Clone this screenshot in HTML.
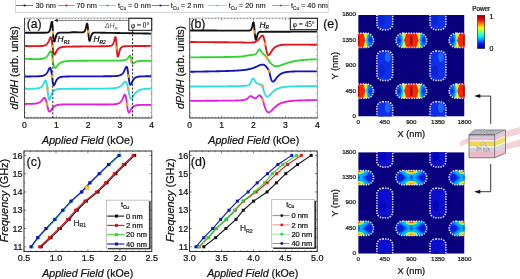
<!DOCTYPE html><html><head><meta charset="utf-8"><style>html,body{margin:0;padding:0;background:#fff;}svg{display:block;}text{font-family:"Liberation Sans", sans-serif;stroke:#111;stroke-width:0.22px;paint-order:stroke;}</style></head><body>
<svg width="520" height="279" viewBox="0 0 520 279">
<rect width="520" height="279" fill="#fff"/>
<g>
<rect x="15.4" y="-0.5" width="312.8" height="12.8" fill="#fff" stroke="#c8c8c8" stroke-width="0.8"/>
<line x1="16.2" y1="5.5" x2="33" y2="5.5" stroke="#111" stroke-width="0.8" opacity="0.75"/>
<circle cx="24.6" cy="5.5" r="1.1" fill="#111"/>
<text x="35.4" y="8.1" font-size="7.4" fill="#111" style="stroke-width:0.1px">30 nm</text>
<line x1="58" y1="5.5" x2="74.6" y2="5.5" stroke="#e5121a" stroke-width="0.8" opacity="0.75"/>
<circle cx="66.3" cy="5.5" r="1.1" fill="#e5121a"/>
<text x="76.4" y="8.1" font-size="7.4" fill="#111" style="stroke-width:0.1px">70 nm</text>
<line x1="98.8" y1="5.5" x2="116.2" y2="5.5" stroke="#2fd62f" stroke-width="0.8" opacity="0.75"/>
<circle cx="107.5" cy="5.5" r="1.1" fill="#2fd62f"/>
<text x="118" y="8.1" font-size="7.4" fill="#111" style="stroke-width:0.1px">t<tspan font-size="4.6" dy="1.6">Cu</tspan><tspan dy="-1.6"> = 0 nm</tspan></text>
<line x1="151.7" y1="5.5" x2="169.2" y2="5.5" stroke="#1212c4" stroke-width="0.8" opacity="0.75"/>
<circle cx="160.45" cy="5.5" r="1.1" fill="#1212c4"/>
<text x="170.8" y="8.1" font-size="7.4" fill="#111" style="stroke-width:0.1px">t<tspan font-size="4.6" dy="1.6">Cu</tspan><tspan dy="-1.6"> = 2 nm</tspan></text>
<line x1="207.7" y1="5.5" x2="227" y2="5.5" stroke="#2fdede" stroke-width="0.8" opacity="0.75"/>
<circle cx="217.35" cy="5.5" r="1.1" fill="#2fdede"/>
<text x="228.8" y="8.1" font-size="7.4" fill="#111" style="stroke-width:0.1px">t<tspan font-size="4.6" dy="1.6">Cu</tspan><tspan dy="-1.6"> = 20 nm</tspan></text>
<line x1="272" y1="5.5" x2="289.5" y2="5.5" stroke="#de1fde" stroke-width="0.8" opacity="0.75"/>
<circle cx="280.75" cy="5.5" r="1.1" fill="#de1fde"/>
<text x="291" y="8.1" font-size="7.4" fill="#111" style="stroke-width:0.1px">t<tspan font-size="4.6" dy="1.6">Cu</tspan><tspan dy="-1.6"> = 40 nm</tspan></text>
</g>
<path d="M24.5,118v-2.2M24.5,18v2.2M27.68,118v-1.2M27.68,18v1.2M30.86,118v-1.2M30.86,18v1.2M34.04,118v-1.2M34.04,18v1.2M37.22,118v-1.2M37.22,18v1.2M40.4,118v-1.2M40.4,18v1.2M43.58,118v-1.2M43.58,18v1.2M46.76,118v-1.2M46.76,18v1.2M49.94,118v-1.2M49.94,18v1.2M53.12,118v-1.2M53.12,18v1.2M56.3,118v-2.2M56.3,18v2.2M59.48,118v-1.2M59.48,18v1.2M62.66,118v-1.2M62.66,18v1.2M65.84,118v-1.2M65.84,18v1.2M69.02,118v-1.2M69.02,18v1.2M72.2,118v-1.2M72.2,18v1.2M75.38,118v-1.2M75.38,18v1.2M78.56,118v-1.2M78.56,18v1.2M81.74,118v-1.2M81.74,18v1.2M84.92,118v-1.2M84.92,18v1.2M88.1,118v-2.2M88.1,18v2.2M91.28,118v-1.2M91.28,18v1.2M94.46,118v-1.2M94.46,18v1.2M97.64,118v-1.2M97.64,18v1.2M100.82,118v-1.2M100.82,18v1.2M104,118v-1.2M104,18v1.2M107.18,118v-1.2M107.18,18v1.2M110.36,118v-1.2M110.36,18v1.2M113.54,118v-1.2M113.54,18v1.2M116.72,118v-1.2M116.72,18v1.2M119.9,118v-2.2M119.9,18v2.2M123.08,118v-1.2M123.08,18v1.2M126.26,118v-1.2M126.26,18v1.2M129.44,118v-1.2M129.44,18v1.2M132.62,118v-1.2M132.62,18v1.2M135.8,118v-1.2M135.8,18v1.2M138.98,118v-1.2M138.98,18v1.2M142.16,118v-1.2M142.16,18v1.2M145.34,118v-1.2M145.34,18v1.2M148.52,118v-1.2M148.52,18v1.2M151.7,118v-2.2M151.7,18v2.2" stroke="#333" stroke-width="0.6" fill="none"/>
<path d="M24.5,24.3h1.3M151.7,24.3h-1.3M24.5,30.6h1.3M151.7,30.6h-1.3M24.5,36.9h1.3M151.7,36.9h-1.3M24.5,43.2h1.3M151.7,43.2h-1.3M24.5,49.5h1.3M151.7,49.5h-1.3M24.5,55.8h1.3M151.7,55.8h-1.3M24.5,62.1h1.3M151.7,62.1h-1.3M24.5,68.4h1.3M151.7,68.4h-1.3M24.5,74.7h1.3M151.7,74.7h-1.3M24.5,81h1.3M151.7,81h-1.3M24.5,87.3h1.3M151.7,87.3h-1.3M24.5,93.6h1.3M151.7,93.6h-1.3M24.5,99.9h1.3M151.7,99.9h-1.3M24.5,106.2h1.3M151.7,106.2h-1.3M24.5,112.5h1.3M151.7,112.5h-1.3" stroke="#666" stroke-width="0.5" fill="none"/>
<line x1="24.5" y1="18" x2="151.7" y2="18" stroke="#999" stroke-width="0.6"/>
<line x1="151.7" y1="18" x2="151.7" y2="118" stroke="#777" stroke-width="0.7"/>
<line x1="24.5" y1="18" x2="24.5" y2="118" stroke="#333" stroke-width="0.9"/>
<line x1="24.5" y1="118" x2="151.7" y2="118" stroke="#222" stroke-width="0.9"/>
<text x="24.5" y="127.7" font-size="8.6" fill="#111" text-anchor="middle">0</text>
<text x="56.3" y="127.7" font-size="8.6" fill="#111" text-anchor="middle">1</text>
<text x="88.1" y="127.7" font-size="8.6" fill="#111" text-anchor="middle">2</text>
<text x="119.9" y="127.7" font-size="8.6" fill="#111" text-anchor="middle">3</text>
<text x="151.7" y="127.7" font-size="8.6" fill="#111" text-anchor="middle">4</text>
<path d="M189.7,118v-2.2M189.7,18v2.2M192.89,118v-1.2M192.89,18v1.2M196.08,118v-1.2M196.08,18v1.2M199.27,118v-1.2M199.27,18v1.2M202.46,118v-1.2M202.46,18v1.2M205.65,118v-1.2M205.65,18v1.2M208.84,118v-1.2M208.84,18v1.2M212.03,118v-1.2M212.03,18v1.2M215.22,118v-1.2M215.22,18v1.2M218.41,118v-1.2M218.41,18v1.2M221.6,118v-2.2M221.6,18v2.2M224.79,118v-1.2M224.79,18v1.2M227.98,118v-1.2M227.98,18v1.2M231.17,118v-1.2M231.17,18v1.2M234.36,118v-1.2M234.36,18v1.2M237.55,118v-1.2M237.55,18v1.2M240.74,118v-1.2M240.74,18v1.2M243.93,118v-1.2M243.93,18v1.2M247.12,118v-1.2M247.12,18v1.2M250.31,118v-1.2M250.31,18v1.2M253.5,118v-2.2M253.5,18v2.2M256.69,118v-1.2M256.69,18v1.2M259.88,118v-1.2M259.88,18v1.2M263.07,118v-1.2M263.07,18v1.2M266.26,118v-1.2M266.26,18v1.2M269.45,118v-1.2M269.45,18v1.2M272.64,118v-1.2M272.64,18v1.2M275.83,118v-1.2M275.83,18v1.2M279.02,118v-1.2M279.02,18v1.2M282.21,118v-1.2M282.21,18v1.2M285.4,118v-2.2M285.4,18v2.2M288.59,118v-1.2M288.59,18v1.2M291.78,118v-1.2M291.78,18v1.2M294.97,118v-1.2M294.97,18v1.2M298.16,118v-1.2M298.16,18v1.2M301.35,118v-1.2M301.35,18v1.2M304.54,118v-1.2M304.54,18v1.2M307.73,118v-1.2M307.73,18v1.2M310.92,118v-1.2M310.92,18v1.2M314.11,118v-1.2M314.11,18v1.2M317.3,118v-2.2M317.3,18v2.2" stroke="#333" stroke-width="0.6" fill="none"/>
<path d="M189.7,24.3h1.3M317.4,24.3h-1.3M189.7,30.6h1.3M317.4,30.6h-1.3M189.7,36.9h1.3M317.4,36.9h-1.3M189.7,43.2h1.3M317.4,43.2h-1.3M189.7,49.5h1.3M317.4,49.5h-1.3M189.7,55.8h1.3M317.4,55.8h-1.3M189.7,62.1h1.3M317.4,62.1h-1.3M189.7,68.4h1.3M317.4,68.4h-1.3M189.7,74.7h1.3M317.4,74.7h-1.3M189.7,81h1.3M317.4,81h-1.3M189.7,87.3h1.3M317.4,87.3h-1.3M189.7,93.6h1.3M317.4,93.6h-1.3M189.7,99.9h1.3M317.4,99.9h-1.3M189.7,106.2h1.3M317.4,106.2h-1.3M189.7,112.5h1.3M317.4,112.5h-1.3" stroke="#666" stroke-width="0.5" fill="none"/>
<line x1="189.7" y1="18" x2="317.4" y2="18" stroke="#999" stroke-width="0.6"/>
<line x1="317.4" y1="18" x2="317.4" y2="118" stroke="#777" stroke-width="0.7"/>
<line x1="189.7" y1="18" x2="189.7" y2="118" stroke="#333" stroke-width="0.9"/>
<line x1="189.7" y1="118" x2="317.4" y2="118" stroke="#222" stroke-width="0.9"/>
<text x="189.7" y="127.7" font-size="8.6" fill="#111" text-anchor="middle">0</text>
<text x="221.6" y="127.7" font-size="8.6" fill="#111" text-anchor="middle">1</text>
<text x="253.5" y="127.7" font-size="8.6" fill="#111" text-anchor="middle">2</text>
<text x="285.4" y="127.7" font-size="8.6" fill="#111" text-anchor="middle">3</text>
<text x="317.3" y="127.7" font-size="8.6" fill="#111" text-anchor="middle">4</text>
<path d="M25,32.8 L25.25,32.8 L25.5,32.8 L25.75,32.79 L26,32.79 L26.25,32.79 L26.5,32.79 L26.75,32.79 L27,32.79 L27.25,32.79 L27.5,32.79 L27.75,32.79 L28,32.78 L28.25,32.78 L28.5,32.78 L28.75,32.78 L29,32.78 L29.25,32.78 L29.5,32.78 L29.75,32.78 L30,32.78 L30.25,32.77 L30.5,32.77 L30.75,32.77 L31,32.77 L31.25,32.77 L31.5,32.77 L31.75,32.77 L32,32.77 L32.25,32.77 L32.5,32.76 L32.75,32.76 L33,32.76 L33.25,32.76 L33.5,32.76 L33.75,32.76 L34,32.76 L34.25,32.76 L34.5,32.76 L34.75,32.75 L35,32.75 L35.25,32.75 L35.5,32.75 L35.75,32.75 L36,32.75 L36.25,32.75 L36.5,32.75 L36.75,32.75 L37,32.75 L37.25,32.74 L37.5,32.74 L37.74,32.74 L37.99,32.74 L38.24,32.74 L38.49,32.74 L38.74,32.74 L38.99,32.74 L39.24,32.74 L39.49,32.73 L39.74,32.73 L39.99,32.73 L40.24,32.73 L40.49,32.73 L40.74,32.73 L40.99,32.73 L41.24,32.73 L41.49,32.73 L41.74,32.72 L41.99,32.72 L42.24,32.72 L42.49,32.72 L42.74,32.72 L42.99,32.72 L43.24,32.72 L43.49,32.71 L43.74,32.71 L43.99,32.71 L44.24,32.71 L44.49,32.71 L44.74,32.71 L44.99,32.7 L45.24,32.7 L45.49,32.7 L45.74,32.69 L45.99,32.68 L46.24,32.67 L46.49,32.66 L46.74,32.65 L46.99,32.63 L47.24,32.6 L47.49,32.56 L47.74,32.51 L47.99,32.44 L48.24,32.34 L48.49,32.21 L48.74,32.03 L48.99,31.78 L49.24,31.45 L49.49,31 L49.74,30.42 L49.99,29.66 L50.24,28.72 L50.49,27.58 L50.74,26.28 L50.99,24.88 L51.24,23.54 L51.49,22.46 L51.74,21.9 L51.99,22.14 L52.24,23.37 L52.49,25.65 L52.74,28.82 L52.99,32.51 L53.24,35.31 L53.49,37.79 L53.74,39.74 L53.99,41.02 L54.24,41.61 L54.49,41.59 L54.74,41.08 L54.99,40.25 L55.24,39.26 L55.49,38.23 L55.74,37.24 L55.99,36.35 L56.24,35.58 L56.49,34.94 L56.74,34.42 L56.99,34.01 L57.24,33.68 L57.49,33.43 L57.74,33.24 L57.99,33.1 L58.24,32.99 L58.49,32.9 L58.74,32.84 L58.99,32.79 L59.24,32.76 L59.49,32.73 L59.74,32.71 L59.99,32.69 L60.24,32.68 L60.49,32.67 L60.74,32.66 L60.99,32.66 L61.24,32.65 L61.49,32.65 L61.74,32.64 L61.99,32.64 L62.24,32.64 L62.49,32.64 L62.74,32.64 L62.98,32.63 L63.23,32.63 L63.48,32.63 L63.73,32.63 L63.98,32.63 L64.23,32.63 L64.48,32.62 L64.73,32.62 L64.98,32.62 L65.23,32.62 L65.48,32.62 L65.73,32.62 L65.98,32.62 L66.23,32.62 L66.48,32.62 L66.73,32.61 L66.98,32.61 L67.23,32.61 L67.48,32.61 L67.73,32.61 L67.98,32.61 L68.23,32.61 L68.48,32.61 L68.73,32.61 L68.98,32.6 L69.23,32.6 L69.48,32.6 L69.73,32.6 L69.98,32.6 L70.23,32.55 L70.48,32.5 L70.73,32.45 L70.98,32.4 L71.23,32.35 L71.48,32.3 L71.73,32.25 L71.98,32.2 L72.23,32.2 L72.48,32.21 L72.73,32.21 L72.98,32.22 L73.23,32.22 L73.48,32.23 L73.73,32.23 L73.98,32.23 L74.23,32.24 L74.48,32.24 L74.73,32.25 L74.98,32.25 L75.23,32.26 L75.48,32.26 L75.73,32.27 L75.98,32.27 L76.23,32.27 L76.48,32.28 L76.73,32.28 L76.98,32.29 L77.23,32.29 L77.48,32.3 L77.73,32.3 L77.98,32.3 L78.23,32.31 L78.48,32.31 L78.73,32.32 L78.98,32.32 L79.23,32.32 L79.48,32.33 L79.73,32.33 L79.98,32.34 L80.23,32.34 L80.48,32.34 L80.73,32.34 L80.98,32.34 L81.23,32.34 L81.48,32.34 L81.73,32.34 L81.98,32.33 L82.23,32.32 L82.48,32.31 L82.73,32.28 L82.98,32.25 L83.23,32.2 L83.48,32.14 L83.73,32.04 L83.98,31.91 L84.23,31.72 L84.48,31.47 L84.73,31.14 L84.98,30.69 L85.23,30.11 L85.48,29.38 L85.73,28.49 L85.98,27.45 L86.23,26.32 L86.48,25.19 L86.73,24.23 L86.98,23.65 L87.23,23.66 L87.48,24.46 L87.73,26.13 L87.98,28.58 L88.22,31.55 L88.47,34.38 L88.72,36.86 L88.97,38.85 L89.22,40.19 L89.47,40.83 L89.72,40.84 L89.97,40.37 L90.22,39.57 L90.47,38.61 L90.72,37.61 L90.97,36.67 L91.22,35.83 L91.47,35.12 L91.72,34.53 L91.97,34.06 L92.22,33.7 L92.47,33.42 L92.72,33.21 L92.97,33.05 L93.22,32.93 L93.47,32.84 L93.72,32.78 L93.97,32.73 L94.22,32.7 L94.47,32.68 L94.72,32.66 L94.97,32.65 L95.22,32.64 L95.47,32.64 L95.72,32.64 L95.97,32.64 L96.22,32.64 L96.47,32.64 L96.72,32.64 L96.97,32.64 L97.22,32.65 L97.47,32.65 L97.72,32.65 L97.97,32.66 L98.22,32.66 L98.47,32.67 L98.72,32.67 L98.97,32.67 L99.22,32.68 L99.47,32.68 L99.72,32.69 L99.97,32.69 L100.22,32.7 L100.47,32.7 L100.72,32.7 L100.97,32.71 L101.22,32.71 L101.47,32.72 L101.72,32.72 L101.97,32.73 L102.22,32.73 L102.47,32.74 L102.72,32.74 L102.97,32.74 L103.22,32.75 L103.47,32.75 L103.72,32.76 L103.97,32.76 L104.22,32.77 L104.47,32.77 L104.72,32.77 L104.97,32.78 L105.22,32.78 L105.47,32.79 L105.72,32.79 L105.97,32.8 L106.22,32.8 L106.47,32.81 L106.72,32.81 L106.97,32.81 L107.22,32.82 L107.47,32.82 L107.72,32.83 L107.97,32.83 L108.22,32.84 L108.47,32.84 L108.72,32.84 L108.97,32.85 L109.22,32.85 L109.47,32.86 L109.72,32.86 L109.97,32.87 L110.22,32.87 L110.47,32.88 L110.72,32.88 L110.97,32.88 L111.22,32.89 L111.47,32.89 L111.72,32.9 L111.97,32.9 L112.22,32.91 L112.47,32.91 L112.72,32.92 L112.97,32.92 L113.22,32.92 L113.46,32.93 L113.71,32.93 L113.96,32.94 L114.21,32.94 L114.46,32.95 L114.71,32.95 L114.96,32.95 L115.21,32.96 L115.46,32.96 L115.71,32.97 L115.96,32.97 L116.21,32.98 L116.46,32.98 L116.71,32.99 L116.96,32.99 L117.21,32.99 L117.46,33 L117.71,33 L117.96,33.01 L118.21,33.01 L118.46,33.02 L118.71,33.02 L118.96,33.02 L119.21,33.03 L119.46,33.03 L119.71,33.04 L119.96,33.04 L120.21,33.05 L120.46,33.05 L120.71,33.06 L120.96,33.06 L121.21,33.06 L121.46,33.07 L121.71,33.07 L121.96,33.08 L122.21,33.08 L122.46,33.09 L122.71,33.09 L122.96,33.1 L123.21,33.1 L123.46,33.1 L123.71,33.11 L123.96,33.11 L124.21,33.12 L124.46,33.12 L124.71,33.13 L124.96,33.13 L125.21,33.13 L125.46,33.14 L125.71,33.14 L125.96,33.15 L126.21,33.15 L126.46,33.16 L126.71,33.16 L126.96,33.17 L127.21,33.17 L127.46,33.17 L127.71,33.18 L127.96,33.18 L128.21,33.19 L128.46,33.19 L128.71,33.2 L128.96,33.2 L129.21,33.2 L129.46,33.21 L129.71,33.21 L129.96,33.22 L130.21,33.22 L130.46,33.23 L130.71,33.23 L130.96,33.24 L131.21,33.24 L131.46,33.24 L131.71,33.25 L131.96,33.25 L132.21,33.26 L132.46,33.26 L132.71,33.27 L132.96,33.27 L133.21,33.28 L133.46,33.28 L133.71,33.28 L133.96,33.29 L134.21,33.29 L134.46,33.3 L134.71,33.3 L134.96,33.31 L135.21,33.31 L135.46,33.31 L135.71,33.32 L135.96,33.32 L136.21,33.33 L136.46,33.33 L136.71,33.34 L136.96,33.34 L137.21,33.35 L137.46,33.35 L137.71,33.35 L137.96,33.36 L138.21,33.36 L138.46,33.37 L138.7,33.37 L138.95,33.38 L139.2,33.38 L139.45,33.38 L139.7,33.39 L139.95,33.39 L140.2,33.4 L140.45,33.4 L140.7,33.41 L140.95,33.41 L141.2,33.42 L141.45,33.42 L141.7,33.42 L141.95,33.43 L142.2,33.43 L142.45,33.44 L142.7,33.44 L142.95,33.45 L143.2,33.45 L143.45,33.46 L143.7,33.46 L143.95,33.46 L144.2,33.47 L144.45,33.47 L144.7,33.48 L144.95,33.48 L145.2,33.49 L145.45,33.49 L145.7,33.49 L145.95,33.5 L146.2,33.5 L146.45,33.51 L146.7,33.51 L146.95,33.52 L147.2,33.52 L147.45,33.53 L147.7,33.53 L147.95,33.53 L148.2,33.54 L148.45,33.54 L148.7,33.55 L148.95,33.55 L149.2,33.56 L149.45,33.56 L149.7,33.56 L149.95,33.57 L150.2,33.57 L150.45,33.58 L150.7,33.58 L150.95,33.59 L151.2,33.59" fill="none" stroke="#111" stroke-width="1.85" stroke-linejoin="round"/>
<path d="M25,46 L25.25,46 L25.5,46.01 L25.75,46.01 L26,46.01 L26.25,46.02 L26.5,46.02 L26.75,46.03 L27,46.03 L27.25,46.03 L27.5,46.04 L27.75,46.04 L28,46.04 L28.25,46.05 L28.5,46.05 L28.75,46.06 L29,46.06 L29.25,46.06 L29.5,46.07 L29.75,46.07 L30,46.07 L30.25,46.08 L30.5,46.08 L30.75,46.08 L31,46.09 L31.25,46.09 L31.5,46.09 L31.75,46.1 L32,46.1 L32.25,46.1 L32.5,46.1 L32.75,46.11 L33,46.11 L33.25,46.11 L33.5,46.11 L33.75,46.12 L34,46.12 L34.25,46.12 L34.5,46.12 L34.75,46.12 L35,46.13 L35.25,46.13 L35.5,46.13 L35.75,46.13 L36,46.13 L36.25,46.13 L36.5,46.13 L36.75,46.13 L37,46.13 L37.25,46.13 L37.5,46.13 L37.74,46.13 L37.99,46.12 L38.24,46.12 L38.49,46.12 L38.74,46.11 L38.99,46.11 L39.24,46.1 L39.49,46.1 L39.74,46.09 L39.99,46.08 L40.24,46.07 L40.49,46.06 L40.74,46.05 L40.99,46.03 L41.24,46.02 L41.49,46 L41.74,45.98 L41.99,45.96 L42.24,45.94 L42.49,45.91 L42.74,45.88 L42.99,45.84 L43.24,45.8 L43.49,45.75 L43.74,45.7 L43.99,45.65 L44.24,45.58 L44.49,45.51 L44.74,45.43 L44.99,45.33 L45.24,45.23 L45.49,45.11 L45.74,44.97 L45.99,44.82 L46.24,44.65 L46.49,44.45 L46.74,44.22 L46.99,43.97 L47.24,43.68 L47.49,43.36 L47.74,43 L47.99,42.59 L48.24,42.14 L48.49,41.64 L48.74,41.1 L48.99,40.52 L49.24,39.9 L49.49,39.28 L49.74,38.67 L49.99,38.11 L50.24,37.64 L50.49,37.33 L50.74,37.25 L50.99,37.46 L51.24,38.02 L51.49,38.99 L51.74,40.37 L51.99,42.13 L52.24,44.17 L52.49,46.38 L52.74,48.26 L52.99,50.02 L53.24,51.56 L53.49,52.82 L53.74,53.75 L53.99,54.35 L54.24,54.65 L54.49,54.69 L54.74,54.53 L54.99,54.2 L55.24,53.78 L55.49,53.29 L55.74,52.77 L55.99,52.24 L56.24,51.73 L56.49,51.24 L56.74,50.78 L56.99,50.36 L57.24,49.98 L57.49,49.63 L57.74,49.32 L57.99,49.04 L58.24,48.79 L58.49,48.57 L58.74,48.37 L58.99,48.2 L59.24,48.04 L59.49,47.9 L59.74,47.78 L59.99,47.67 L60.24,47.57 L60.49,47.48 L60.74,47.4 L60.99,47.32 L61.24,47.26 L61.49,47.2 L61.74,47.14 L61.99,47.09 L62.24,47.05 L62.49,47.01 L62.74,46.97 L62.98,46.94 L63.23,46.91 L63.48,46.88 L63.73,46.86 L63.98,46.83 L64.23,46.81 L64.48,46.79 L64.73,46.78 L64.98,46.76 L65.23,46.74 L65.48,46.73 L65.73,46.72 L65.98,46.7 L66.23,46.69 L66.48,46.68 L66.73,46.67 L66.98,46.66 L67.23,46.65 L67.48,46.64 L67.73,46.64 L67.98,46.63 L68.23,46.62 L68.48,46.62 L68.73,46.61 L68.98,46.6 L69.23,46.6 L69.48,46.59 L69.73,46.59 L69.98,46.58 L70.23,46.58 L70.48,46.57 L70.73,46.57 L70.98,46.56 L71.23,46.56 L71.48,46.55 L71.73,46.55 L71.98,46.55 L72.23,46.54 L72.48,46.54 L72.73,46.54 L72.98,46.53 L73.23,46.53 L73.48,46.53 L73.73,46.52 L73.98,46.52 L74.23,46.52 L74.48,46.51 L74.73,46.51 L74.98,46.51 L75.23,46.5 L75.48,46.5 L75.73,46.5 L75.98,46.5 L76.23,46.49 L76.48,46.49 L76.73,46.49 L76.98,46.49 L77.23,46.48 L77.48,46.48 L77.73,46.48 L77.98,46.48 L78.23,46.47 L78.48,46.47 L78.73,46.47 L78.98,46.47 L79.23,46.46 L79.48,46.46 L79.73,46.46 L79.98,46.46 L80.23,46.46 L80.48,46.45 L80.73,46.45 L80.98,46.45 L81.23,46.45 L81.48,46.44 L81.73,46.44 L81.98,46.44 L82.23,46.44 L82.48,46.44 L82.73,46.43 L82.98,46.43 L83.23,46.43 L83.48,46.43 L83.73,46.42 L83.98,46.42 L84.23,46.42 L84.48,46.42 L84.73,46.42 L84.98,46.41 L85.23,46.41 L85.48,46.41 L85.73,46.41 L85.98,46.41 L86.23,46.4 L86.48,46.4 L86.73,46.4 L86.98,46.4 L87.23,46.4 L87.48,46.39 L87.73,46.39 L87.98,46.39 L88.22,46.39 L88.47,46.39 L88.72,46.38 L88.97,46.38 L89.22,46.38 L89.47,46.38 L89.72,46.38 L89.97,46.37 L90.22,46.37 L90.47,46.37 L90.72,46.37 L90.97,46.37 L91.22,46.36 L91.47,46.36 L91.72,46.36 L91.97,46.36 L92.22,46.36 L92.47,46.35 L92.72,46.35 L92.97,46.35 L93.22,46.35 L93.47,46.35 L93.72,46.34 L93.97,46.34 L94.22,46.34 L94.47,46.34 L94.72,46.34 L94.97,46.33 L95.22,46.33 L95.47,46.33 L95.72,46.33 L95.97,46.33 L96.22,46.32 L96.47,46.32 L96.72,46.32 L96.97,46.32 L97.22,46.32 L97.47,46.31 L97.72,46.31 L97.97,46.31 L98.22,46.31 L98.47,46.31 L98.72,46.3 L98.97,46.3 L99.22,46.3 L99.47,46.3 L99.72,46.29 L99.97,46.29 L100.22,46.29 L100.47,46.29 L100.72,46.29 L100.97,46.28 L101.22,46.28 L101.47,46.28 L101.72,46.28 L101.97,46.27 L102.22,46.27 L102.47,46.27 L102.72,46.27 L102.97,46.26 L103.22,46.26 L103.47,46.26 L103.72,46.25 L103.97,46.25 L104.22,46.25 L104.47,46.25 L104.72,46.24 L104.97,46.24 L105.22,46.23 L105.47,46.23 L105.72,46.22 L105.97,46.22 L106.22,46.21 L106.47,46.21 L106.72,46.2 L106.97,46.19 L107.22,46.19 L107.47,46.18 L107.72,46.17 L107.97,46.16 L108.22,46.14 L108.47,46.13 L108.72,46.11 L108.97,46.09 L109.22,46.07 L109.47,46.04 L109.72,46.01 L109.97,45.97 L110.22,45.93 L110.47,45.88 L110.72,45.82 L110.97,45.74 L111.22,45.65 L111.47,45.54 L111.72,45.4 L111.97,45.23 L112.22,45.03 L112.47,44.77 L112.72,44.46 L112.97,44.08 L113.22,43.62 L113.46,43.05 L113.71,42.38 L113.96,41.58 L114.21,40.68 L114.46,39.69 L114.71,38.69 L114.96,37.78 L115.21,37.15 L115.46,37 L115.71,37.57 L115.96,39.02 L116.21,41.36 L116.46,44.38 L116.71,47.76 L116.96,51.06 L117.21,53.75 L117.46,55.6 L117.71,56.56 L117.96,56.74 L118.21,56.31 L118.46,55.5 L118.71,54.49 L118.96,53.42 L119.21,52.38 L119.46,51.42 L119.71,50.58 L119.96,49.85 L120.21,49.23 L120.46,48.71 L120.71,48.28 L120.96,47.92 L121.21,47.63 L121.46,47.38 L121.71,47.18 L121.96,47.01 L122.21,46.87 L122.46,46.76 L122.71,46.66 L122.96,46.58 L123.21,46.51 L123.46,46.46 L123.71,46.41 L123.96,46.37 L124.21,46.33 L124.46,46.3 L124.71,46.27 L124.96,46.25 L125.21,46.23 L125.46,46.22 L125.71,46.2 L125.96,46.19 L126.21,46.17 L126.46,46.16 L126.71,46.15 L126.96,46.15 L127.21,46.14 L127.46,46.13 L127.71,46.12 L127.96,46.12 L128.21,46.11 L128.46,46.11 L128.71,46.1 L128.96,46.1 L129.21,46.09 L129.46,46.09 L129.71,46.09 L129.96,46.08 L130.21,46.08 L130.46,46.08 L130.71,46.07 L130.96,46.07 L131.21,46.07 L131.46,46.07 L131.71,46.06 L131.96,46.06 L132.21,46.06 L132.46,46.05 L132.71,46.05 L132.96,46.05 L133.21,46.05 L133.46,46.05 L133.71,46.04 L133.96,46.04 L134.21,46.04 L134.46,46.04 L134.71,46.03 L134.96,46.03 L135.21,46.03 L135.46,46.03 L135.71,46.03 L135.96,46.02 L136.21,46.02 L136.46,46.02 L136.71,46.02 L136.96,46.01 L137.21,46.01 L137.46,46.01 L137.71,46.01 L137.96,46.01 L138.21,46 L138.46,46 L138.7,46 L138.95,46 L139.2,46 L139.45,45.99 L139.7,45.99 L139.95,45.99 L140.2,45.99 L140.45,45.99 L140.7,45.99 L140.95,45.98 L141.2,45.98 L141.45,45.98 L141.7,45.98 L141.95,45.98 L142.2,45.97 L142.45,45.97 L142.7,45.97 L142.95,45.97 L143.2,45.97 L143.45,45.96 L143.7,45.96 L143.95,45.96 L144.2,45.96 L144.45,45.96 L144.7,45.95 L144.95,45.95 L145.2,45.95 L145.45,45.95 L145.7,45.95 L145.95,45.94 L146.2,45.94 L146.45,45.94 L146.7,45.94 L146.95,45.94 L147.2,45.93 L147.45,45.93 L147.7,45.93 L147.95,45.93 L148.2,45.93 L148.45,45.93 L148.7,45.92 L148.95,45.92 L149.2,45.92 L149.45,45.92 L149.7,45.92 L149.95,45.91 L150.2,45.91 L150.45,45.91 L150.7,45.91 L150.95,45.91 L151.2,45.9" fill="none" stroke="#e5121a" stroke-width="1.85" stroke-linejoin="round"/>
<path d="M25,58.77 L25.25,58.78 L25.5,58.79 L25.75,58.8 L26,58.81 L26.25,58.82 L26.5,58.83 L26.75,58.84 L27,58.85 L27.25,58.86 L27.5,58.87 L27.75,58.88 L28,58.89 L28.25,58.9 L28.5,58.91 L28.75,58.92 L29,58.93 L29.25,58.94 L29.5,58.95 L29.75,58.96 L30,58.97 L30.25,58.98 L30.5,58.99 L30.75,59 L31,59.01 L31.25,59.02 L31.5,59.02 L31.75,59.03 L32,59.04 L32.25,59.05 L32.5,59.06 L32.75,59.06 L33,59.07 L33.25,59.08 L33.5,59.08 L33.75,59.09 L34,59.09 L34.25,59.1 L34.5,59.11 L34.75,59.11 L35,59.11 L35.25,59.12 L35.5,59.12 L35.75,59.12 L36,59.13 L36.25,59.13 L36.5,59.13 L36.75,59.13 L37,59.13 L37.25,59.13 L37.5,59.13 L37.74,59.12 L37.99,59.12 L38.24,59.11 L38.49,59.11 L38.74,59.1 L38.99,59.09 L39.24,59.08 L39.49,59.07 L39.74,59.06 L39.99,59.04 L40.24,59.02 L40.49,59.01 L40.74,58.98 L40.99,58.96 L41.24,58.93 L41.49,58.9 L41.74,58.87 L41.99,58.83 L42.24,58.79 L42.49,58.75 L42.74,58.7 L42.99,58.64 L43.24,58.58 L43.49,58.52 L43.74,58.44 L43.99,58.36 L44.24,58.27 L44.49,58.18 L44.74,58.07 L44.99,57.95 L45.24,57.81 L45.49,57.67 L45.74,57.51 L45.99,57.33 L46.24,57.14 L46.49,56.92 L46.74,56.69 L46.99,56.43 L47.24,56.15 L47.49,55.84 L47.74,55.5 L47.99,55.14 L48.24,54.75 L48.49,54.33 L48.74,53.9 L48.99,53.44 L49.24,52.98 L49.49,52.52 L49.74,52.08 L49.99,51.7 L50.24,51.38 L50.49,51.18 L50.74,51.13 L50.99,51.28 L51.24,51.68 L51.49,52.35 L51.74,53.32 L51.99,54.59 L52.24,56.13 L52.49,57.88 L52.74,59.77 L52.99,61.3 L53.24,62.67 L53.49,63.94 L53.74,65.07 L53.99,66.01 L54.24,66.77 L54.49,67.32 L54.74,67.69 L54.99,67.9 L55.24,67.96 L55.49,67.9 L55.74,67.74 L55.99,67.51 L56.24,67.23 L56.49,66.92 L56.74,66.59 L56.99,66.25 L57.24,65.92 L57.49,65.59 L57.74,65.27 L57.99,64.96 L58.24,64.68 L58.49,64.41 L58.74,64.15 L58.99,63.92 L59.24,63.7 L59.49,63.5 L59.74,63.31 L59.99,63.14 L60.24,62.97 L60.49,62.82 L60.74,62.67 L60.99,62.54 L61.24,62.41 L61.49,62.3 L61.74,62.2 L61.99,62.1 L62.24,62.01 L62.49,61.92 L62.74,61.85 L62.98,61.77 L63.23,61.71 L63.48,61.65 L63.73,61.59 L63.98,61.54 L64.23,61.49 L64.48,61.44 L64.73,61.4 L64.98,61.36 L65.23,61.32 L65.48,61.28 L65.73,61.25 L65.98,61.22 L66.23,61.19 L66.48,61.16 L66.73,61.14 L66.98,61.11 L67.23,61.09 L67.48,61.07 L67.73,61.05 L67.98,61.03 L68.23,61.01 L68.48,61 L68.73,60.98 L68.98,60.97 L69.23,60.95 L69.48,60.94 L69.73,60.93 L69.98,60.92 L70.23,60.91 L70.48,60.89 L70.73,60.88 L70.98,60.88 L71.23,60.87 L71.48,60.86 L71.73,60.85 L71.98,60.84 L72.23,60.83 L72.48,60.83 L72.73,60.82 L72.98,60.82 L73.23,60.81 L73.48,60.8 L73.73,60.8 L73.98,60.79 L74.23,60.79 L74.48,60.78 L74.73,60.78 L74.98,60.77 L75.23,60.77 L75.48,60.77 L75.73,60.76 L75.98,60.76 L76.23,60.76 L76.48,60.75 L76.73,60.75 L76.98,60.75 L77.23,60.74 L77.48,60.74 L77.73,60.74 L77.98,60.74 L78.23,60.73 L78.48,60.73 L78.73,60.73 L78.98,60.73 L79.23,60.73 L79.48,60.72 L79.73,60.72 L79.98,60.72 L80.23,60.72 L80.48,60.72 L80.73,60.72 L80.98,60.72 L81.23,60.71 L81.48,60.71 L81.73,60.71 L81.98,60.71 L82.23,60.71 L82.48,60.71 L82.73,60.71 L82.98,60.71 L83.23,60.71 L83.48,60.7 L83.73,60.7 L83.98,60.7 L84.23,60.7 L84.48,60.7 L84.73,60.7 L84.98,60.7 L85.23,60.7 L85.48,60.7 L85.73,60.7 L85.98,60.7 L86.23,60.7 L86.48,60.7 L86.73,60.7 L86.98,60.7 L87.23,60.7 L87.48,60.7 L87.73,60.7 L87.98,60.7 L88.22,60.69 L88.47,60.69 L88.72,60.69 L88.97,60.69 L89.22,60.69 L89.47,60.69 L89.72,60.69 L89.97,60.69 L90.22,60.69 L90.47,60.69 L90.72,60.69 L90.97,60.69 L91.22,60.69 L91.47,60.69 L91.72,60.69 L91.97,60.69 L92.22,60.69 L92.47,60.69 L92.72,60.69 L92.97,60.69 L93.22,60.69 L93.47,60.69 L93.72,60.69 L93.97,60.69 L94.22,60.69 L94.47,60.69 L94.72,60.69 L94.97,60.69 L95.22,60.69 L95.47,60.69 L95.72,60.69 L95.97,60.69 L96.22,60.69 L96.47,60.69 L96.72,60.69 L96.97,60.69 L97.22,60.69 L97.47,60.69 L97.72,60.69 L97.97,60.69 L98.22,60.69 L98.47,60.69 L98.72,60.69 L98.97,60.69 L99.22,60.69 L99.47,60.69 L99.72,60.69 L99.97,60.69 L100.22,60.69 L100.47,60.69 L100.72,60.69 L100.97,60.69 L101.22,60.69 L101.47,60.69 L101.72,60.69 L101.97,60.69 L102.22,60.69 L102.47,60.69 L102.72,60.69 L102.97,60.69 L103.22,60.69 L103.47,60.69 L103.72,60.69 L103.97,60.69 L104.22,60.69 L104.47,60.69 L104.72,60.69 L104.97,60.69 L105.22,60.69 L105.47,60.69 L105.72,60.69 L105.97,60.69 L106.22,60.69 L106.47,60.69 L106.72,60.69 L106.97,60.69 L107.22,60.69 L107.47,60.69 L107.72,60.69 L107.97,60.69 L108.22,60.69 L108.47,60.69 L108.72,60.69 L108.97,60.69 L109.22,60.69 L109.47,60.69 L109.72,60.69 L109.97,60.69 L110.22,60.69 L110.47,60.69 L110.72,60.69 L110.97,60.69 L111.22,60.69 L111.47,60.69 L111.72,60.69 L111.97,60.68 L112.22,60.68 L112.47,60.68 L112.72,60.68 L112.97,60.68 L113.22,60.68 L113.46,60.68 L113.71,60.68 L113.96,60.67 L114.21,60.67 L114.46,60.67 L114.71,60.67 L114.96,60.67 L115.21,60.66 L115.46,60.66 L115.71,60.66 L115.96,60.66 L116.21,60.65 L116.46,60.65 L116.71,60.65 L116.96,60.64 L117.21,60.64 L117.46,60.63 L117.71,60.63 L117.96,60.63 L118.21,60.62 L118.46,60.61 L118.71,60.61 L118.96,60.6 L119.21,60.59 L119.46,60.59 L119.71,60.58 L119.96,60.57 L120.21,60.56 L120.46,60.55 L120.71,60.53 L120.96,60.52 L121.21,60.51 L121.46,60.49 L121.71,60.47 L121.96,60.45 L122.21,60.43 L122.46,60.41 L122.71,60.39 L122.96,60.36 L123.21,60.33 L123.46,60.29 L123.71,60.25 L123.96,60.21 L124.21,60.16 L124.46,60.11 L124.71,60.05 L124.96,59.98 L125.21,59.91 L125.46,59.82 L125.71,59.73 L125.96,59.62 L126.21,59.49 L126.46,59.35 L126.71,59.2 L126.96,59.01 L127.21,58.81 L127.46,58.58 L127.71,58.32 L127.96,58.03 L128.21,57.71 L128.46,57.35 L128.71,56.98 L128.96,56.58 L129.21,56.2 L129.46,55.85 L129.71,55.59 L129.96,55.46 L130.21,55.54 L130.46,55.9 L130.71,56.59 L130.96,57.63 L131.21,58.97 L131.46,60.49 L131.71,61.44 L131.96,62.19 L132.21,62.8 L132.46,63.22 L132.71,63.47 L132.96,63.56 L133.21,63.53 L133.46,63.41 L133.71,63.23 L133.96,63.04 L134.21,62.83 L134.46,62.63 L134.71,62.44 L134.96,62.26 L135.21,62.1 L135.46,61.96 L135.71,61.83 L135.96,61.72 L136.21,61.62 L136.46,61.53 L136.71,61.46 L136.96,61.39 L137.21,61.33 L137.46,61.28 L137.71,61.23 L137.96,61.19 L138.21,61.15 L138.46,61.12 L138.7,61.09 L138.95,61.06 L139.2,61.04 L139.45,61.02 L139.7,61 L139.95,60.99 L140.2,60.97 L140.45,60.96 L140.7,60.94 L140.95,60.93 L141.2,60.92 L141.45,60.91 L141.7,60.91 L141.95,60.9 L142.2,60.89 L142.45,60.89 L142.7,60.88 L142.95,60.87 L143.2,60.87 L143.45,60.86 L143.7,60.86 L143.95,60.86 L144.2,60.85 L144.45,60.85 L144.7,60.85 L144.95,60.85 L145.2,60.84 L145.45,60.84 L145.7,60.84 L145.95,60.84 L146.2,60.83 L146.45,60.83 L146.7,60.83 L146.95,60.83 L147.2,60.83 L147.45,60.83 L147.7,60.83 L147.95,60.83 L148.2,60.83 L148.45,60.82 L148.7,60.82 L148.95,60.82 L149.2,60.82 L149.45,60.82 L149.7,60.82 L149.95,60.82 L150.2,60.82 L150.45,60.82 L150.7,60.82 L150.95,60.82 L151.2,60.82" fill="none" stroke="#2fd62f" stroke-width="1.85" stroke-linejoin="round"/>
<path d="M25,76.48 L25.25,76.48 L25.5,76.48 L25.75,76.48 L26,76.48 L26.25,76.48 L26.5,76.48 L26.75,76.48 L27,76.48 L27.25,76.47 L27.5,76.47 L27.75,76.47 L28,76.47 L28.25,76.47 L28.5,76.47 L28.75,76.47 L29,76.46 L29.25,76.46 L29.5,76.46 L29.75,76.46 L30,76.46 L30.25,76.45 L30.5,76.45 L30.75,76.45 L31,76.45 L31.25,76.45 L31.5,76.44 L31.75,76.44 L32,76.44 L32.25,76.44 L32.5,76.43 L32.75,76.43 L33,76.43 L33.25,76.42 L33.5,76.42 L33.75,76.42 L34,76.41 L34.25,76.41 L34.5,76.4 L34.75,76.4 L35,76.39 L35.25,76.39 L35.5,76.38 L35.75,76.38 L36,76.37 L36.25,76.36 L36.5,76.36 L36.75,76.35 L37,76.34 L37.25,76.33 L37.5,76.32 L37.74,76.31 L37.99,76.3 L38.24,76.29 L38.49,76.28 L38.74,76.26 L38.99,76.25 L39.24,76.23 L39.49,76.22 L39.74,76.2 L39.99,76.18 L40.24,76.15 L40.49,76.13 L40.74,76.1 L40.99,76.07 L41.24,76.04 L41.49,76 L41.74,75.97 L41.99,75.92 L42.24,75.88 L42.49,75.82 L42.74,75.77 L42.99,75.7 L43.24,75.63 L43.49,75.55 L43.74,75.47 L43.99,75.37 L44.24,75.26 L44.49,75.14 L44.74,75.01 L44.99,74.86 L45.24,74.69 L45.49,74.5 L45.74,74.3 L45.99,74.06 L46.24,73.8 L46.49,73.52 L46.74,73.2 L46.99,72.84 L47.24,72.46 L47.49,72.04 L47.74,71.58 L47.99,71.09 L48.24,70.57 L48.49,70.04 L48.74,69.51 L48.99,68.99 L49.24,68.52 L49.49,68.12 L49.74,67.85 L49.99,67.74 L50.24,67.85 L50.49,68.21 L50.74,68.88 L50.99,69.86 L51.24,71.15 L51.49,72.71 L51.74,74.48 L51.99,76.35 L52.24,78.5 L52.49,80.51 L52.74,82.26 L52.99,83.63 L53.24,84.61 L53.49,85.19 L53.74,85.42 L53.99,85.36 L54.24,85.07 L54.49,84.62 L54.74,84.07 L54.99,83.47 L55.24,82.85 L55.49,82.25 L55.74,81.67 L55.99,81.13 L56.24,80.64 L56.49,80.18 L56.74,79.78 L56.99,79.41 L57.24,79.09 L57.49,78.8 L57.74,78.55 L57.99,78.32 L58.24,78.12 L58.49,77.94 L58.74,77.79 L58.99,77.65 L59.24,77.53 L59.49,77.42 L59.74,77.32 L59.99,77.23 L60.24,77.16 L60.49,77.09 L60.74,77.03 L60.99,76.97 L61.24,76.92 L61.49,76.88 L61.74,76.84 L61.99,76.8 L62.24,76.77 L62.49,76.74 L62.74,76.71 L62.98,76.69 L63.23,76.67 L63.48,76.65 L63.73,76.63 L63.98,76.61 L64.23,76.6 L64.48,76.58 L64.73,76.57 L64.98,76.56 L65.23,76.55 L65.48,76.54 L65.73,76.53 L65.98,76.52 L66.23,76.51 L66.48,76.5 L66.73,76.5 L66.98,76.49 L67.23,76.48 L67.48,76.48 L67.73,76.47 L67.98,76.47 L68.23,76.46 L68.48,76.46 L68.73,76.46 L68.98,76.45 L69.23,76.45 L69.48,76.44 L69.73,76.44 L69.98,76.44 L70.23,76.43 L70.48,76.43 L70.73,76.43 L70.98,76.43 L71.23,76.42 L71.48,76.42 L71.73,76.42 L71.98,76.42 L72.23,76.42 L72.48,76.41 L72.73,76.41 L72.98,76.41 L73.23,76.41 L73.48,76.41 L73.73,76.41 L73.98,76.4 L74.23,76.4 L74.48,76.4 L74.73,76.4 L74.98,76.4 L75.23,76.4 L75.48,76.4 L75.73,76.39 L75.98,76.39 L76.23,76.39 L76.48,76.39 L76.73,76.39 L76.98,76.39 L77.23,76.39 L77.48,76.39 L77.73,76.38 L77.98,76.38 L78.23,76.38 L78.48,76.38 L78.73,76.38 L78.98,76.38 L79.23,76.38 L79.48,76.38 L79.73,76.38 L79.98,76.38 L80.23,76.38 L80.48,76.37 L80.73,76.37 L80.98,76.37 L81.23,76.37 L81.48,76.37 L81.73,76.37 L81.98,76.37 L82.23,76.37 L82.48,76.37 L82.73,76.37 L82.98,76.37 L83.23,76.36 L83.48,76.36 L83.73,76.36 L83.98,76.36 L84.23,76.36 L84.48,76.36 L84.73,76.36 L84.98,76.36 L85.23,76.36 L85.48,76.36 L85.73,76.36 L85.98,76.36 L86.23,76.36 L86.48,76.35 L86.73,76.35 L86.98,76.35 L87.23,76.35 L87.48,76.35 L87.73,76.35 L87.98,76.35 L88.22,76.35 L88.47,76.35 L88.72,76.35 L88.97,76.35 L89.22,76.35 L89.47,76.35 L89.72,76.35 L89.97,76.34 L90.22,76.34 L90.47,76.34 L90.72,76.34 L90.97,76.34 L91.22,76.34 L91.47,76.34 L91.72,76.34 L91.97,76.34 L92.22,76.34 L92.47,76.34 L92.72,76.34 L92.97,76.34 L93.22,76.33 L93.47,76.33 L93.72,76.33 L93.97,76.33 L94.22,76.33 L94.47,76.33 L94.72,76.33 L94.97,76.33 L95.22,76.33 L95.47,76.33 L95.72,76.33 L95.97,76.33 L96.22,76.32 L96.47,76.32 L96.72,76.32 L96.97,76.32 L97.22,76.32 L97.47,76.32 L97.72,76.32 L97.97,76.32 L98.22,76.32 L98.47,76.32 L98.72,76.32 L98.97,76.31 L99.22,76.31 L99.47,76.31 L99.72,76.31 L99.97,76.31 L100.22,76.31 L100.47,76.31 L100.72,76.31 L100.97,76.31 L101.22,76.31 L101.47,76.3 L101.72,76.3 L101.97,76.3 L102.22,76.3 L102.47,76.3 L102.72,76.3 L102.97,76.3 L103.22,76.3 L103.47,76.29 L103.72,76.29 L103.97,76.29 L104.22,76.29 L104.47,76.29 L104.72,76.29 L104.97,76.29 L105.22,76.28 L105.47,76.28 L105.72,76.28 L105.97,76.28 L106.22,76.28 L106.47,76.27 L106.72,76.27 L106.97,76.27 L107.22,76.27 L107.47,76.27 L107.72,76.26 L107.97,76.26 L108.22,76.26 L108.47,76.25 L108.72,76.25 L108.97,76.25 L109.22,76.25 L109.47,76.24 L109.72,76.24 L109.97,76.23 L110.22,76.23 L110.47,76.23 L110.72,76.22 L110.97,76.22 L111.22,76.21 L111.47,76.21 L111.72,76.2 L111.97,76.2 L112.22,76.19 L112.47,76.18 L112.72,76.18 L112.97,76.17 L113.22,76.16 L113.46,76.15 L113.71,76.14 L113.96,76.13 L114.21,76.12 L114.46,76.11 L114.71,76.1 L114.96,76.08 L115.21,76.07 L115.46,76.05 L115.71,76.03 L115.96,76.01 L116.21,75.99 L116.46,75.97 L116.71,75.95 L116.96,75.92 L117.21,75.89 L117.46,75.86 L117.71,75.83 L117.96,75.79 L118.21,75.75 L118.46,75.7 L118.71,75.65 L118.96,75.59 L119.21,75.53 L119.46,75.46 L119.71,75.39 L119.96,75.3 L120.21,75.21 L120.46,75.1 L120.71,74.99 L120.96,74.86 L121.21,74.71 L121.46,74.55 L121.71,74.37 L121.96,74.17 L122.21,73.95 L122.46,73.7 L122.71,73.42 L122.96,73.11 L123.21,72.76 L123.46,72.38 L123.71,71.96 L123.96,71.51 L124.21,71.01 L124.46,70.48 L124.71,69.92 L124.96,69.34 L125.21,68.76 L125.46,68.19 L125.71,67.67 L125.96,67.22 L126.21,66.91 L126.46,66.76 L126.71,66.85 L126.96,67.21 L127.21,67.9 L127.46,68.93 L127.71,70.3 L127.96,71.97 L128.21,73.87 L128.46,75.91 L128.71,77.91 L128.96,79.79 L129.21,81.46 L129.46,82.82 L129.71,83.85 L129.96,84.53 L130.21,84.88 L130.46,84.94 L130.71,84.78 L130.96,84.45 L131.21,84.01 L131.46,83.49 L131.71,82.93 L131.96,82.37 L132.21,81.82 L132.46,81.29 L132.71,80.8 L132.96,80.34 L133.21,79.93 L133.46,79.55 L133.71,79.21 L133.96,78.9 L134.21,78.63 L134.46,78.38 L134.71,78.17 L134.96,77.97 L135.21,77.8 L135.46,77.65 L135.71,77.51 L135.96,77.39 L136.21,77.28 L136.46,77.18 L136.71,77.1 L136.96,77.02 L137.21,76.95 L137.46,76.89 L137.71,76.83 L137.96,76.78 L138.21,76.73 L138.46,76.69 L138.7,76.65 L138.95,76.62 L139.2,76.59 L139.45,76.56 L139.7,76.53 L139.95,76.51 L140.2,76.49 L140.45,76.47 L140.7,76.45 L140.95,76.44 L141.2,76.42 L141.45,76.41 L141.7,76.39 L141.95,76.38 L142.2,76.37 L142.45,76.36 L142.7,76.35 L142.95,76.34 L143.2,76.34 L143.45,76.33 L143.7,76.32 L143.95,76.31 L144.2,76.31 L144.45,76.3 L144.7,76.3 L144.95,76.29 L145.2,76.29 L145.45,76.28 L145.7,76.28 L145.95,76.27 L146.2,76.27 L146.45,76.27 L146.7,76.26 L146.95,76.26 L147.2,76.26 L147.45,76.25 L147.7,76.25 L147.95,76.25 L148.2,76.25 L148.45,76.24 L148.7,76.24 L148.95,76.24 L149.2,76.24 L149.45,76.24 L149.7,76.23 L149.95,76.23 L150.2,76.23 L150.45,76.23 L150.7,76.23 L150.95,76.23 L151.2,76.22" fill="none" stroke="#1212c4" stroke-width="1.85" stroke-linejoin="round"/>
<path d="M25,88.88 L25.25,88.87 L25.5,88.87 L25.75,88.87 L26,88.87 L26.25,88.87 L26.5,88.86 L26.75,88.86 L27,88.86 L27.25,88.86 L27.5,88.85 L27.75,88.85 L28,88.85 L28.25,88.85 L28.5,88.84 L28.75,88.84 L29,88.84 L29.25,88.83 L29.5,88.83 L29.75,88.83 L30,88.82 L30.25,88.82 L30.5,88.82 L30.75,88.81 L31,88.81 L31.25,88.8 L31.5,88.8 L31.75,88.79 L32,88.78 L32.25,88.78 L32.5,88.77 L32.75,88.76 L33,88.75 L33.25,88.75 L33.5,88.74 L33.75,88.73 L34,88.72 L34.25,88.7 L34.5,88.69 L34.75,88.68 L35,88.66 L35.25,88.65 L35.5,88.63 L35.75,88.61 L36,88.59 L36.25,88.57 L36.5,88.54 L36.75,88.52 L37,88.49 L37.25,88.45 L37.5,88.42 L37.74,88.38 L37.99,88.33 L38.24,88.28 L38.49,88.23 L38.74,88.17 L38.99,88.1 L39.24,88.03 L39.49,87.95 L39.74,87.85 L39.99,87.75 L40.24,87.63 L40.49,87.5 L40.74,87.35 L40.99,87.19 L41.24,87 L41.49,86.8 L41.74,86.56 L41.99,86.3 L42.24,86.01 L42.49,85.68 L42.74,85.32 L42.99,84.92 L43.24,84.48 L43.49,84.01 L43.74,83.5 L43.99,82.97 L44.24,82.42 L44.49,81.87 L44.74,81.35 L44.99,80.9 L45.24,80.55 L45.49,80.35 L45.74,80.37 L45.99,80.66 L46.24,81.25 L46.49,82.18 L46.74,83.45 L46.99,85.03 L47.24,86.83 L47.49,88.76 L47.74,91.37 L47.99,93.83 L48.24,95.95 L48.49,97.64 L48.74,98.83 L48.99,99.54 L49.24,99.81 L49.49,99.73 L49.74,99.37 L49.99,98.82 L50.24,98.15 L50.49,97.42 L50.74,96.67 L50.99,95.93 L51.24,95.22 L51.49,94.56 L51.74,93.96 L51.99,93.41 L52.24,92.91 L52.49,92.46 L52.74,92.07 L52.99,91.72 L53.24,91.41 L53.49,91.13 L53.74,90.88 L53.99,90.67 L54.24,90.48 L54.49,90.31 L54.74,90.16 L54.99,90.02 L55.24,89.91 L55.49,89.8 L55.74,89.71 L55.99,89.62 L56.24,89.55 L56.49,89.48 L56.74,89.42 L56.99,89.37 L57.24,89.32 L57.49,89.27 L57.74,89.23 L57.99,89.2 L58.24,89.17 L58.49,89.14 L58.74,89.11 L58.99,89.08 L59.24,89.06 L59.49,89.04 L59.74,89.02 L59.99,89 L60.24,88.99 L60.49,88.97 L60.74,88.96 L60.99,88.95 L61.24,88.94 L61.49,88.93 L61.74,88.92 L61.99,88.91 L62.24,88.9 L62.49,88.89 L62.74,88.88 L62.98,88.88 L63.23,88.87 L63.48,88.86 L63.73,88.86 L63.98,88.85 L64.23,88.85 L64.48,88.84 L64.73,88.84 L64.98,88.83 L65.23,88.83 L65.48,88.83 L65.73,88.82 L65.98,88.82 L66.23,88.82 L66.48,88.81 L66.73,88.81 L66.98,88.81 L67.23,88.8 L67.48,88.8 L67.73,88.8 L67.98,88.8 L68.23,88.79 L68.48,88.79 L68.73,88.79 L68.98,88.79 L69.23,88.78 L69.48,88.78 L69.73,88.78 L69.98,88.78 L70.23,88.78 L70.48,88.78 L70.73,88.77 L70.98,88.77 L71.23,88.77 L71.48,88.77 L71.73,88.77 L71.98,88.77 L72.23,88.76 L72.48,88.76 L72.73,88.76 L72.98,88.76 L73.23,88.76 L73.48,88.76 L73.73,88.76 L73.98,88.75 L74.23,88.75 L74.48,88.75 L74.73,88.75 L74.98,88.75 L75.23,88.75 L75.48,88.75 L75.73,88.75 L75.98,88.74 L76.23,88.74 L76.48,88.74 L76.73,88.74 L76.98,88.74 L77.23,88.74 L77.48,88.74 L77.73,88.74 L77.98,88.74 L78.23,88.73 L78.48,88.73 L78.73,88.73 L78.98,88.73 L79.23,88.73 L79.48,88.73 L79.73,88.73 L79.98,88.73 L80.23,88.73 L80.48,88.72 L80.73,88.72 L80.98,88.72 L81.23,88.72 L81.48,88.72 L81.73,88.72 L81.98,88.72 L82.23,88.72 L82.48,88.72 L82.73,88.72 L82.98,88.71 L83.23,88.71 L83.48,88.71 L83.73,88.71 L83.98,88.71 L84.23,88.71 L84.48,88.71 L84.73,88.71 L84.98,88.71 L85.23,88.71 L85.48,88.7 L85.73,88.7 L85.98,88.7 L86.23,88.7 L86.48,88.7 L86.73,88.7 L86.98,88.7 L87.23,88.7 L87.48,88.7 L87.73,88.7 L87.98,88.69 L88.22,88.69 L88.47,88.69 L88.72,88.69 L88.97,88.69 L89.22,88.69 L89.47,88.69 L89.72,88.69 L89.97,88.69 L90.22,88.68 L90.47,88.68 L90.72,88.68 L90.97,88.68 L91.22,88.68 L91.47,88.68 L91.72,88.68 L91.97,88.68 L92.22,88.68 L92.47,88.67 L92.72,88.67 L92.97,88.67 L93.22,88.67 L93.47,88.67 L93.72,88.67 L93.97,88.67 L94.22,88.67 L94.47,88.66 L94.72,88.66 L94.97,88.66 L95.22,88.66 L95.47,88.66 L95.72,88.66 L95.97,88.66 L96.22,88.65 L96.47,88.65 L96.72,88.65 L96.97,88.65 L97.22,88.65 L97.47,88.65 L97.72,88.65 L97.97,88.64 L98.22,88.64 L98.47,88.64 L98.72,88.64 L98.97,88.64 L99.22,88.63 L99.47,88.63 L99.72,88.63 L99.97,88.63 L100.22,88.63 L100.47,88.63 L100.72,88.62 L100.97,88.62 L101.22,88.62 L101.47,88.62 L101.72,88.61 L101.97,88.61 L102.22,88.61 L102.47,88.61 L102.72,88.6 L102.97,88.6 L103.22,88.6 L103.47,88.6 L103.72,88.59 L103.97,88.59 L104.22,88.59 L104.47,88.58 L104.72,88.58 L104.97,88.58 L105.22,88.57 L105.47,88.57 L105.72,88.56 L105.97,88.56 L106.22,88.56 L106.47,88.55 L106.72,88.55 L106.97,88.54 L107.22,88.54 L107.47,88.53 L107.72,88.52 L107.97,88.52 L108.22,88.51 L108.47,88.51 L108.72,88.5 L108.97,88.49 L109.22,88.48 L109.47,88.48 L109.72,88.47 L109.97,88.46 L110.22,88.45 L110.47,88.44 L110.72,88.43 L110.97,88.42 L111.22,88.4 L111.47,88.39 L111.72,88.38 L111.97,88.36 L112.22,88.35 L112.47,88.33 L112.72,88.32 L112.97,88.3 L113.22,88.28 L113.46,88.26 L113.71,88.23 L113.96,88.21 L114.21,88.18 L114.46,88.16 L114.71,88.13 L114.96,88.1 L115.21,88.06 L115.46,88.03 L115.71,87.99 L115.96,87.95 L116.21,87.9 L116.46,87.85 L116.71,87.8 L116.96,87.74 L117.21,87.68 L117.46,87.62 L117.71,87.54 L117.96,87.47 L118.21,87.38 L118.46,87.3 L118.71,87.2 L118.96,87.09 L119.21,86.98 L119.46,86.86 L119.71,86.72 L119.96,86.58 L120.21,86.42 L120.46,86.26 L120.71,86.08 L120.96,85.88 L121.21,85.68 L121.46,85.46 L121.71,85.22 L121.96,84.97 L122.21,84.71 L122.46,84.43 L122.71,84.14 L122.96,83.84 L123.21,83.53 L123.46,83.22 L123.71,82.92 L123.96,82.62 L124.21,82.34 L124.46,82.09 L124.71,81.87 L124.96,81.71 L125.21,81.61 L125.46,81.59 L125.71,81.66 L125.96,81.83 L126.21,82.12 L126.46,82.54 L126.71,83.09 L126.96,83.77 L127.21,84.57 L127.46,85.48 L127.71,86.47 L127.96,87.53 L128.21,88.63 L128.46,90.1 L128.71,91.54 L128.96,92.9 L129.21,94.16 L129.46,95.28 L129.71,96.26 L129.96,97.07 L130.21,97.71 L130.46,98.2 L130.71,98.53 L130.96,98.71 L131.21,98.76 L131.46,98.71 L131.71,98.55 L131.96,98.32 L132.21,98.03 L132.46,97.68 L132.71,97.31 L132.96,96.91 L133.21,96.49 L133.46,96.07 L133.71,95.66 L133.96,95.24 L134.21,94.84 L134.46,94.46 L134.71,94.09 L134.96,93.73 L135.21,93.4 L135.46,93.08 L135.71,92.78 L135.96,92.5 L136.21,92.24 L136.46,91.99 L136.71,91.76 L136.96,91.55 L137.21,91.35 L137.46,91.16 L137.71,90.99 L137.96,90.83 L138.21,90.68 L138.46,90.54 L138.7,90.41 L138.95,90.29 L139.2,90.18 L139.45,90.08 L139.7,89.98 L139.95,89.89 L140.2,89.81 L140.45,89.73 L140.7,89.66 L140.95,89.59 L141.2,89.53 L141.45,89.47 L141.7,89.42 L141.95,89.37 L142.2,89.32 L142.45,89.27 L142.7,89.23 L142.95,89.19 L143.2,89.16 L143.45,89.12 L143.7,89.09 L143.95,89.06 L144.2,89.03 L144.45,89 L144.7,88.98 L144.95,88.95 L145.2,88.93 L145.45,88.91 L145.7,88.89 L145.95,88.87 L146.2,88.86 L146.45,88.84 L146.7,88.82 L146.95,88.81 L147.2,88.79 L147.45,88.78 L147.7,88.77 L147.95,88.76 L148.2,88.74 L148.45,88.73 L148.7,88.72 L148.95,88.71 L149.2,88.7 L149.45,88.69 L149.7,88.69 L149.95,88.68 L150.2,88.67 L150.45,88.66 L150.7,88.65 L150.95,88.65 L151.2,88.64" fill="none" stroke="#2fdede" stroke-width="1.85" stroke-linejoin="round"/>
<path d="M25,103.95 L25.25,103.95 L25.5,103.95 L25.75,103.95 L26,103.95 L26.25,103.95 L26.5,103.95 L26.75,103.94 L27,103.94 L27.25,103.94 L27.5,103.94 L27.75,103.94 L28,103.93 L28.25,103.93 L28.5,103.93 L28.75,103.92 L29,103.92 L29.25,103.92 L29.5,103.91 L29.75,103.91 L30,103.9 L30.25,103.9 L30.5,103.89 L30.75,103.88 L31,103.88 L31.25,103.87 L31.5,103.86 L31.75,103.85 L32,103.84 L32.25,103.83 L32.5,103.82 L32.75,103.81 L33,103.79 L33.25,103.78 L33.5,103.76 L33.75,103.74 L34,103.72 L34.25,103.7 L34.5,103.68 L34.75,103.66 L35,103.63 L35.25,103.6 L35.5,103.57 L35.75,103.53 L36,103.49 L36.25,103.45 L36.5,103.41 L36.75,103.36 L37,103.3 L37.25,103.25 L37.5,103.18 L37.74,103.11 L37.99,103.03 L38.24,102.95 L38.49,102.86 L38.74,102.75 L38.99,102.64 L39.24,102.52 L39.49,102.39 L39.74,102.25 L39.99,102.09 L40.24,101.92 L40.49,101.73 L40.74,101.53 L40.99,101.31 L41.24,101.08 L41.49,100.83 L41.74,100.57 L41.99,100.29 L42.24,100 L42.49,99.7 L42.74,99.39 L42.99,99.09 L43.24,98.8 L43.49,98.53 L43.74,98.29 L43.99,98.1 L44.24,97.97 L44.49,97.93 L44.74,97.98 L44.99,98.14 L45.24,98.44 L45.49,98.88 L45.74,99.46 L45.99,100.18 L46.24,101.03 L46.49,101.99 L46.74,103.03 L46.99,104.1 L47.24,105.4 L47.49,106.66 L47.74,107.82 L47.99,108.86 L48.24,109.75 L48.49,110.46 L48.74,111.01 L48.99,111.38 L49.24,111.59 L49.49,111.66 L49.74,111.61 L49.99,111.46 L50.24,111.23 L50.49,110.94 L50.74,110.62 L50.99,110.27 L51.24,109.9 L51.49,109.54 L51.74,109.17 L51.99,108.82 L52.24,108.48 L52.49,108.16 L52.74,107.86 L52.99,107.57 L53.24,107.31 L53.49,107.06 L53.74,106.84 L53.99,106.63 L54.24,106.44 L54.49,106.26 L54.74,106.1 L54.99,105.95 L55.24,105.82 L55.49,105.69 L55.74,105.58 L55.99,105.48 L56.24,105.38 L56.49,105.3 L56.74,105.22 L56.99,105.14 L57.24,105.08 L57.49,105.02 L57.74,104.96 L57.99,104.91 L58.24,104.87 L58.49,104.82 L58.74,104.78 L58.99,104.75 L59.24,104.71 L59.49,104.68 L59.74,104.66 L59.99,104.63 L60.24,104.61 L60.49,104.58 L60.74,104.56 L60.99,104.55 L61.24,104.53 L61.49,104.51 L61.74,104.5 L61.99,104.48 L62.24,104.47 L62.49,104.46 L62.74,104.45 L62.98,104.44 L63.23,104.43 L63.48,104.42 L63.73,104.41 L63.98,104.41 L64.23,104.4 L64.48,104.39 L64.73,104.39 L64.98,104.38 L65.23,104.38 L65.48,104.37 L65.73,104.37 L65.98,104.37 L66.23,104.36 L66.48,104.36 L66.73,104.36 L66.98,104.35 L67.23,104.35 L67.48,104.35 L67.73,104.35 L67.98,104.35 L68.23,104.34 L68.48,104.34 L68.73,104.34 L68.98,104.34 L69.23,104.34 L69.48,104.34 L69.73,104.34 L69.98,104.34 L70.23,104.34 L70.48,104.34 L70.73,104.34 L70.98,104.34 L71.23,104.34 L71.48,104.34 L71.73,104.34 L71.98,104.34 L72.23,104.34 L72.48,104.34 L72.73,104.34 L72.98,104.34 L73.23,104.34 L73.48,104.34 L73.73,104.34 L73.98,104.34 L74.23,104.34 L74.48,104.34 L74.73,104.34 L74.98,104.34 L75.23,104.34 L75.48,104.34 L75.73,104.34 L75.98,104.34 L76.23,104.34 L76.48,104.35 L76.73,104.35 L76.98,104.35 L77.23,104.35 L77.48,104.35 L77.73,104.35 L77.98,104.35 L78.23,104.35 L78.48,104.35 L78.73,104.35 L78.98,104.36 L79.23,104.36 L79.48,104.36 L79.73,104.36 L79.98,104.36 L80.23,104.36 L80.48,104.36 L80.73,104.36 L80.98,104.36 L81.23,104.37 L81.48,104.37 L81.73,104.37 L81.98,104.37 L82.23,104.37 L82.48,104.37 L82.73,104.37 L82.98,104.37 L83.23,104.38 L83.48,104.38 L83.73,104.38 L83.98,104.38 L84.23,104.38 L84.48,104.38 L84.73,104.38 L84.98,104.38 L85.23,104.39 L85.48,104.39 L85.73,104.39 L85.98,104.39 L86.23,104.39 L86.48,104.39 L86.73,104.39 L86.98,104.39 L87.23,104.4 L87.48,104.4 L87.73,104.4 L87.98,104.4 L88.22,104.4 L88.47,104.4 L88.72,104.4 L88.97,104.41 L89.22,104.41 L89.47,104.41 L89.72,104.41 L89.97,104.41 L90.22,104.41 L90.47,104.41 L90.72,104.41 L90.97,104.42 L91.22,104.42 L91.47,104.42 L91.72,104.42 L91.97,104.42 L92.22,104.42 L92.47,104.42 L92.72,104.43 L92.97,104.43 L93.22,104.43 L93.47,104.43 L93.72,104.43 L93.97,104.43 L94.22,104.43 L94.47,104.43 L94.72,104.44 L94.97,104.44 L95.22,104.44 L95.47,104.44 L95.72,104.44 L95.97,104.44 L96.22,104.44 L96.47,104.44 L96.72,104.44 L96.97,104.45 L97.22,104.45 L97.47,104.45 L97.72,104.45 L97.97,104.45 L98.22,104.45 L98.47,104.45 L98.72,104.45 L98.97,104.45 L99.22,104.45 L99.47,104.46 L99.72,104.46 L99.97,104.46 L100.22,104.46 L100.47,104.46 L100.72,104.46 L100.97,104.46 L101.22,104.46 L101.47,104.46 L101.72,104.46 L101.97,104.46 L102.22,104.46 L102.47,104.46 L102.72,104.46 L102.97,104.46 L103.22,104.47 L103.47,104.47 L103.72,104.47 L103.97,104.47 L104.22,104.47 L104.47,104.47 L104.72,104.47 L104.97,104.47 L105.22,104.46 L105.47,104.46 L105.72,104.46 L105.97,104.46 L106.22,104.46 L106.47,104.46 L106.72,104.46 L106.97,104.46 L107.22,104.46 L107.47,104.46 L107.72,104.45 L107.97,104.45 L108.22,104.45 L108.47,104.45 L108.72,104.45 L108.97,104.44 L109.22,104.44 L109.47,104.44 L109.72,104.43 L109.97,104.43 L110.22,104.42 L110.47,104.42 L110.72,104.41 L110.97,104.41 L111.22,104.4 L111.47,104.39 L111.72,104.38 L111.97,104.37 L112.22,104.37 L112.47,104.35 L112.72,104.34 L112.97,104.33 L113.22,104.32 L113.46,104.3 L113.71,104.29 L113.96,104.27 L114.21,104.25 L114.46,104.23 L114.71,104.21 L114.96,104.18 L115.21,104.15 L115.46,104.12 L115.71,104.09 L115.96,104.05 L116.21,104.01 L116.46,103.97 L116.71,103.92 L116.96,103.87 L117.21,103.81 L117.46,103.74 L117.71,103.67 L117.96,103.59 L118.21,103.5 L118.46,103.4 L118.71,103.29 L118.96,103.17 L119.21,103.03 L119.46,102.88 L119.71,102.72 L119.96,102.53 L120.21,102.33 L120.46,102.1 L120.71,101.84 L120.96,101.56 L121.21,101.24 L121.46,100.9 L121.71,100.52 L121.96,100.1 L122.21,99.65 L122.46,99.16 L122.71,98.64 L122.96,98.08 L123.21,97.51 L123.46,96.92 L123.71,96.35 L123.96,95.8 L124.21,95.32 L124.46,94.94 L124.71,94.69 L124.96,94.64 L125.21,94.82 L125.46,95.29 L125.71,96.07 L125.96,97.18 L126.21,98.61 L126.46,100.33 L126.71,102.26 L126.96,104.31 L127.21,106.1 L127.46,107.75 L127.71,109.24 L127.96,110.48 L128.21,111.44 L128.46,112.11 L128.71,112.51 L128.96,112.65 L129.21,112.59 L129.46,112.37 L129.71,112.03 L129.96,111.61 L130.21,111.14 L130.46,110.65 L130.71,110.16 L130.96,109.69 L131.21,109.24 L131.46,108.81 L131.71,108.42 L131.96,108.06 L132.21,107.73 L132.46,107.43 L132.71,107.16 L132.96,106.92 L133.21,106.71 L133.46,106.51 L133.71,106.34 L133.96,106.18 L134.21,106.05 L134.46,105.92 L134.71,105.81 L134.96,105.71 L135.21,105.62 L135.46,105.54 L135.71,105.47 L135.96,105.41 L136.21,105.35 L136.46,105.3 L136.71,105.25 L136.96,105.21 L137.21,105.17 L137.46,105.14 L137.71,105.11 L137.96,105.08 L138.21,105.05 L138.46,105.03 L138.7,105.01 L138.95,104.99 L139.2,104.97 L139.45,104.96 L139.7,104.94 L139.95,104.93 L140.2,104.92 L140.45,104.91 L140.7,104.9 L140.95,104.89 L141.2,104.88 L141.45,104.87 L141.7,104.87 L141.95,104.86 L142.2,104.85 L142.45,104.85 L142.7,104.84 L142.95,104.84 L143.2,104.84 L143.45,104.83 L143.7,104.83 L143.95,104.83 L144.2,104.82 L144.45,104.82 L144.7,104.82 L144.95,104.82 L145.2,104.82 L145.45,104.82 L145.7,104.81 L145.95,104.81 L146.2,104.81 L146.45,104.81 L146.7,104.81 L146.95,104.81 L147.2,104.81 L147.45,104.81 L147.7,104.81 L147.95,104.81 L148.2,104.81 L148.45,104.81 L148.7,104.81 L148.95,104.81 L149.2,104.81 L149.45,104.81 L149.7,104.81 L149.95,104.81 L150.2,104.81 L150.45,104.81 L150.7,104.81 L150.95,104.82 L151.2,104.82" fill="none" stroke="#de1fde" stroke-width="1.85" stroke-linejoin="round"/>
<line x1="52.8" y1="21" x2="52.8" y2="118" stroke="#111" stroke-width="0.9" stroke-dasharray="2.2 1.6"/>
<line x1="132.6" y1="30.5" x2="132.6" y2="118" stroke="#111" stroke-width="0.9" stroke-dasharray="2.2 1.6"/>
<ellipse cx="53" cy="32.51" rx="1.35" ry="1.9" fill="#f0a23c"/>
<ellipse cx="88.3" cy="31.55" rx="1.35" ry="1.9" fill="#f0a23c"/>
<ellipse cx="52.5" cy="46.38" rx="1.35" ry="1.9" fill="#f0a23c"/>
<ellipse cx="116.6" cy="47.76" rx="1.35" ry="1.9" fill="#f0a23c"/>
<ellipse cx="52.8" cy="59.77" rx="1.35" ry="1.9" fill="#f0a23c"/>
<ellipse cx="131.5" cy="60.49" rx="1.35" ry="1.9" fill="#f0a23c"/>
<ellipse cx="52" cy="76.35" rx="1.35" ry="1.9" fill="#f0a23c"/>
<ellipse cx="128.5" cy="75.91" rx="1.35" ry="1.9" fill="#f0a23c"/>
<ellipse cx="47.5" cy="88.76" rx="1.35" ry="1.9" fill="#f0a23c"/>
<ellipse cx="128.2" cy="88.63" rx="1.35" ry="1.9" fill="#f0a23c"/>
<ellipse cx="47" cy="104.1" rx="1.35" ry="1.9" fill="#f0a23c"/>
<ellipse cx="127" cy="104.31" rx="1.35" ry="1.9" fill="#f0a23c"/>
<path d="M190.2,30.5 L190.45,30.5 L190.7,30.5 L190.95,30.5 L191.2,30.5 L191.45,30.5 L191.7,30.5 L191.95,30.5 L192.2,30.5 L192.45,30.5 L192.7,30.5 L192.95,30.51 L193.2,30.51 L193.45,30.51 L193.7,30.51 L193.95,30.51 L194.2,30.51 L194.45,30.51 L194.7,30.51 L194.95,30.51 L195.2,30.51 L195.45,30.51 L195.7,30.51 L195.95,30.51 L196.2,30.51 L196.45,30.51 L196.7,30.51 L196.95,30.51 L197.2,30.51 L197.45,30.51 L197.7,30.51 L197.95,30.51 L198.2,30.51 L198.45,30.51 L198.7,30.51 L198.95,30.52 L199.2,30.52 L199.45,30.52 L199.7,30.52 L199.95,30.52 L200.2,30.52 L200.45,30.52 L200.7,30.52 L200.95,30.52 L201.2,30.52 L201.45,30.52 L201.7,30.52 L201.95,30.52 L202.2,30.52 L202.45,30.52 L202.7,30.52 L202.94,30.52 L203.19,30.52 L203.44,30.52 L203.69,30.52 L203.94,30.52 L204.19,30.52 L204.44,30.52 L204.69,30.52 L204.94,30.53 L205.19,30.53 L205.44,30.53 L205.69,30.53 L205.94,30.53 L206.19,30.53 L206.44,30.53 L206.69,30.53 L206.94,30.53 L207.19,30.53 L207.44,30.53 L207.69,30.53 L207.94,30.53 L208.19,30.53 L208.44,30.53 L208.69,30.53 L208.94,30.53 L209.19,30.53 L209.44,30.53 L209.69,30.53 L209.94,30.53 L210.19,30.53 L210.44,30.53 L210.69,30.53 L210.94,30.54 L211.19,30.54 L211.44,30.54 L211.69,30.54 L211.94,30.54 L212.19,30.54 L212.44,30.54 L212.69,30.54 L212.94,30.54 L213.19,30.54 L213.44,30.54 L213.69,30.54 L213.94,30.54 L214.19,30.54 L214.44,30.54 L214.69,30.54 L214.94,30.54 L215.19,30.54 L215.44,30.54 L215.69,30.54 L215.94,30.54 L216.19,30.54 L216.44,30.54 L216.69,30.54 L216.94,30.55 L217.19,30.55 L217.44,30.55 L217.69,30.55 L217.94,30.55 L218.19,30.55 L218.44,30.55 L218.69,30.55 L218.94,30.55 L219.19,30.55 L219.44,30.55 L219.69,30.55 L219.94,30.55 L220.19,30.55 L220.44,30.55 L220.69,30.55 L220.94,30.55 L221.19,30.55 L221.44,30.55 L221.69,30.55 L221.94,30.55 L222.19,30.55 L222.44,30.55 L222.69,30.55 L222.94,30.56 L223.19,30.56 L223.44,30.56 L223.69,30.56 L223.94,30.56 L224.19,30.56 L224.44,30.56 L224.69,30.56 L224.94,30.56 L225.19,30.56 L225.44,30.56 L225.69,30.56 L225.94,30.56 L226.19,30.56 L226.44,30.56 L226.69,30.56 L226.94,30.56 L227.19,30.56 L227.44,30.56 L227.69,30.56 L227.94,30.56 L228.19,30.56 L228.43,30.56 L228.68,30.56 L228.93,30.57 L229.18,30.57 L229.43,30.57 L229.68,30.57 L229.93,30.57 L230.18,30.57 L230.43,30.57 L230.68,30.57 L230.93,30.57 L231.18,30.57 L231.43,30.57 L231.68,30.57 L231.93,30.57 L232.18,30.57 L232.43,30.57 L232.68,30.57 L232.93,30.57 L233.18,30.57 L233.43,30.57 L233.68,30.57 L233.93,30.57 L234.18,30.57 L234.43,30.57 L234.68,30.57 L234.93,30.58 L235.18,30.58 L235.43,30.58 L235.68,30.58 L235.93,30.58 L236.18,30.58 L236.43,30.58 L236.68,30.58 L236.93,30.58 L237.18,30.58 L237.43,30.58 L237.68,30.58 L237.93,30.58 L238.18,30.58 L238.43,30.58 L238.68,30.58 L238.93,30.58 L239.18,30.58 L239.43,30.58 L239.68,30.58 L239.93,30.58 L240.18,30.58 L240.43,30.58 L240.68,30.58 L240.93,30.58 L241.18,30.59 L241.43,30.59 L241.68,30.59 L241.93,30.59 L242.18,30.59 L242.43,30.59 L242.68,30.59 L242.93,30.59 L243.18,30.59 L243.43,30.59 L243.68,30.59 L243.93,30.59 L244.18,30.59 L244.43,30.59 L244.68,30.59 L244.93,30.59 L245.18,30.59 L245.43,30.59 L245.68,30.59 L245.93,30.59 L246.18,30.59 L246.43,30.59 L246.68,30.59 L246.93,30.59 L247.18,30.59 L247.43,30.59 L247.68,30.58 L247.93,30.58 L248.18,30.57 L248.43,30.56 L248.68,30.55 L248.93,30.53 L249.18,30.51 L249.43,30.47 L249.68,30.42 L249.93,30.35 L250.18,30.27 L250.43,30.16 L250.68,30 L250.93,29.77 L251.18,29.44 L251.43,29 L251.68,28.41 L251.93,27.66 L252.18,26.74 L252.43,25.66 L252.68,24.5 L252.93,23.39 L253.18,22.53 L253.43,22.15 L253.67,22.5 L253.92,23.76 L254.17,25.92 L254.42,28.81 L254.67,31.9 L254.92,34.59 L255.17,36.88 L255.42,38.55 L255.67,39.51 L255.92,39.79 L256.17,39.5 L256.42,38.82 L256.67,37.9 L256.92,36.9 L257.17,35.93 L257.42,35.04 L257.67,34.28 L257.92,33.65 L258.17,33.15 L258.42,32.75 L258.67,32.46 L258.92,32.23 L259.17,32.07 L259.42,31.96 L259.67,31.88 L259.92,31.82 L260.17,31.79 L260.42,31.77 L260.67,31.76 L260.92,31.76 L261.17,31.77 L261.42,31.78 L261.67,31.8 L261.92,31.82 L262.17,31.82 L262.42,31.81 L262.67,31.81 L262.92,31.81 L263.17,31.8 L263.42,31.8 L263.67,31.8 L263.92,31.8 L264.17,31.79 L264.42,31.79 L264.67,31.79 L264.92,31.79 L265.17,31.79 L265.42,31.79 L265.67,31.79 L265.92,31.79 L266.17,31.79 L266.42,31.78 L266.67,31.78 L266.92,31.78 L267.17,31.78 L267.42,31.78 L267.67,31.78 L267.92,31.78 L268.17,31.78 L268.42,31.78 L268.67,31.78 L268.92,31.78 L269.17,31.77 L269.42,31.77 L269.67,31.77 L269.92,31.77 L270.17,31.77 L270.42,31.77 L270.67,31.77 L270.92,31.77 L271.17,31.77 L271.42,31.77 L271.67,31.77 L271.92,31.76 L272.17,31.76 L272.42,31.76 L272.67,31.76 L272.92,31.76 L273.17,31.76 L273.42,31.76 L273.67,31.76 L273.92,31.76 L274.17,31.76 L274.42,31.76 L274.67,31.75 L274.92,31.75 L275.17,31.75 L275.42,31.75 L275.67,31.75 L275.92,31.75 L276.17,31.75 L276.42,31.75 L276.67,31.75 L276.92,31.75 L277.17,31.75 L277.42,31.74 L277.67,31.74 L277.92,31.74 L278.17,31.74 L278.42,31.74 L278.67,31.74 L278.91,31.74 L279.16,31.74 L279.41,31.74 L279.66,31.74 L279.91,31.74 L280.16,31.73 L280.41,31.73 L280.66,31.73 L280.91,31.73 L281.16,31.73 L281.41,31.73 L281.66,31.73 L281.91,31.73 L282.16,31.73 L282.41,31.73 L282.66,31.73 L282.91,31.72 L283.16,31.72 L283.41,31.72 L283.66,31.72 L283.91,31.72 L284.16,31.72 L284.41,31.72 L284.66,31.72 L284.91,31.72 L285.16,31.72 L285.41,31.72 L285.66,31.71 L285.91,31.71 L286.16,31.71 L286.41,31.71 L286.66,31.71 L286.91,31.71 L287.16,31.71 L287.41,31.71 L287.66,31.71 L287.91,31.71 L288.16,31.71 L288.41,31.7 L288.66,31.7 L288.91,31.7 L289.16,31.7 L289.41,31.7 L289.66,31.7 L289.91,31.7 L290.16,31.7 L290.41,31.7 L290.66,31.7 L290.91,31.7 L291.16,31.69 L291.41,31.69 L291.66,31.69 L291.91,31.69 L292.16,31.69 L292.41,31.69 L292.66,31.69 L292.91,31.69 L293.16,31.69 L293.41,31.69 L293.66,31.69 L293.91,31.68 L294.16,31.68 L294.41,31.68 L294.66,31.68 L294.91,31.68 L295.16,31.68 L295.41,31.68 L295.66,31.68 L295.91,31.68 L296.16,31.68 L296.41,31.68 L296.66,31.67 L296.91,31.67 L297.16,31.67 L297.41,31.67 L297.66,31.67 L297.91,31.67 L298.16,31.67 L298.41,31.67 L298.66,31.67 L298.91,31.67 L299.16,31.67 L299.41,31.66 L299.66,31.66 L299.91,31.66 L300.16,31.66 L300.41,31.66 L300.66,31.66 L300.91,31.66 L301.16,31.66 L301.41,31.66 L301.66,31.66 L301.91,31.66 L302.16,31.66 L302.41,31.65 L302.66,31.65 L302.91,31.65 L303.16,31.65 L303.41,31.65 L303.66,31.65 L303.91,31.65 L304.16,31.65 L304.4,31.65 L304.65,31.65 L304.9,31.65 L305.15,31.64 L305.4,31.64 L305.65,31.64 L305.9,31.64 L306.15,31.64 L306.4,31.64 L306.65,31.64 L306.9,31.64 L307.15,31.64 L307.4,31.64 L307.65,31.64 L307.9,31.63 L308.15,31.63 L308.4,31.63 L308.65,31.63 L308.9,31.63 L309.15,31.63 L309.4,31.63 L309.65,31.63 L309.9,31.63 L310.15,31.63 L310.4,31.63 L310.65,31.62 L310.9,31.62 L311.15,31.62 L311.4,31.62 L311.65,31.62 L311.9,31.62 L312.15,31.62 L312.4,31.62 L312.65,31.62 L312.9,31.62 L313.15,31.62 L313.4,31.61 L313.65,31.61 L313.9,31.61 L314.15,31.61 L314.4,31.61 L314.65,31.61 L314.9,31.61 L315.15,31.61 L315.4,31.61 L315.65,31.61 L315.9,31.61 L316.15,31.6 L316.4,31.6 L316.65,31.6 L316.9,31.6" fill="none" stroke="#111" stroke-width="1.85" stroke-linejoin="round"/>
<path d="M190.2,42 L190.45,42 L190.7,42.01 L190.95,42.01 L191.2,42.01 L191.45,42.01 L191.7,42.01 L191.95,42.02 L192.2,42.02 L192.45,42.02 L192.7,42.02 L192.95,42.02 L193.2,42.03 L193.45,42.03 L193.7,42.03 L193.95,42.03 L194.2,42.03 L194.45,42.04 L194.7,42.04 L194.95,42.04 L195.2,42.04 L195.45,42.04 L195.7,42.05 L195.95,42.05 L196.2,42.05 L196.45,42.05 L196.7,42.05 L196.95,42.06 L197.2,42.06 L197.45,42.06 L197.7,42.06 L197.95,42.06 L198.2,42.07 L198.45,42.07 L198.7,42.07 L198.95,42.07 L199.2,42.07 L199.45,42.08 L199.7,42.08 L199.95,42.08 L200.2,42.08 L200.45,42.08 L200.7,42.09 L200.95,42.09 L201.2,42.09 L201.45,42.09 L201.7,42.09 L201.95,42.1 L202.2,42.1 L202.45,42.1 L202.7,42.1 L202.94,42.1 L203.19,42.11 L203.44,42.11 L203.69,42.11 L203.94,42.11 L204.19,42.11 L204.44,42.11 L204.69,42.12 L204.94,42.12 L205.19,42.12 L205.44,42.12 L205.69,42.12 L205.94,42.13 L206.19,42.13 L206.44,42.13 L206.69,42.13 L206.94,42.13 L207.19,42.14 L207.44,42.14 L207.69,42.14 L207.94,42.14 L208.19,42.14 L208.44,42.15 L208.69,42.15 L208.94,42.15 L209.19,42.15 L209.44,42.15 L209.69,42.16 L209.94,42.16 L210.19,42.16 L210.44,42.16 L210.69,42.16 L210.94,42.17 L211.19,42.17 L211.44,42.17 L211.69,42.17 L211.94,42.17 L212.19,42.17 L212.44,42.18 L212.69,42.18 L212.94,42.18 L213.19,42.18 L213.44,42.18 L213.69,42.19 L213.94,42.19 L214.19,42.19 L214.44,42.19 L214.69,42.19 L214.94,42.2 L215.19,42.2 L215.44,42.2 L215.69,42.2 L215.94,42.2 L216.19,42.21 L216.44,42.21 L216.69,42.21 L216.94,42.21 L217.19,42.21 L217.44,42.21 L217.69,42.22 L217.94,42.22 L218.19,42.22 L218.44,42.22 L218.69,42.22 L218.94,42.23 L219.19,42.23 L219.44,42.23 L219.69,42.23 L219.94,42.23 L220.19,42.23 L220.44,42.24 L220.69,42.24 L220.94,42.24 L221.19,42.24 L221.44,42.24 L221.69,42.25 L221.94,42.25 L222.19,42.25 L222.44,42.25 L222.69,42.25 L222.94,42.25 L223.19,42.26 L223.44,42.26 L223.69,42.26 L223.94,42.26 L224.19,42.26 L224.44,42.26 L224.69,42.27 L224.94,42.27 L225.19,42.27 L225.44,42.27 L225.69,42.27 L225.94,42.27 L226.19,42.28 L226.44,42.28 L226.69,42.28 L226.94,42.28 L227.19,42.28 L227.44,42.28 L227.69,42.29 L227.94,42.29 L228.19,42.29 L228.43,42.29 L228.68,42.29 L228.93,42.29 L229.18,42.3 L229.43,42.3 L229.68,42.3 L229.93,42.3 L230.18,42.3 L230.43,42.3 L230.68,42.3 L230.93,42.31 L231.18,42.31 L231.43,42.31 L231.68,42.31 L231.93,42.31 L232.18,42.31 L232.43,42.31 L232.68,42.31 L232.93,42.32 L233.18,42.32 L233.43,42.32 L233.68,42.32 L233.93,42.32 L234.18,42.32 L234.43,42.32 L234.68,42.32 L234.93,42.32 L235.18,42.32 L235.43,42.32 L235.68,42.33 L235.93,42.33 L236.18,42.33 L236.43,42.33 L236.68,42.33 L236.93,42.33 L237.18,42.33 L237.43,42.33 L237.68,42.33 L237.93,42.33 L238.18,42.33 L238.43,42.33 L238.68,42.33 L238.93,42.33 L239.18,42.33 L239.43,42.33 L239.68,42.33 L239.93,42.33 L240.18,42.34 L240.43,42.35 L240.68,42.37 L240.93,42.38 L241.18,42.4 L241.43,42.41 L241.68,42.43 L241.93,42.44 L242.18,42.46 L242.43,42.47 L242.68,42.48 L242.93,42.5 L243.18,42.51 L243.43,42.52 L243.68,42.54 L243.93,42.55 L244.18,42.56 L244.43,42.57 L244.68,42.58 L244.93,42.59 L245.18,42.61 L245.43,42.62 L245.68,42.63 L245.93,42.63 L246.18,42.64 L246.43,42.65 L246.68,42.66 L246.93,42.67 L247.18,42.67 L247.43,42.68 L247.68,42.68 L247.93,42.69 L248.18,42.69 L248.43,42.69 L248.68,42.69 L248.93,42.69 L249.18,42.69 L249.43,42.69 L249.68,42.69 L249.93,42.68 L250.18,42.67 L250.43,42.67 L250.68,42.65 L250.93,42.64 L251.18,42.63 L251.43,42.61 L251.68,42.59 L251.93,42.57 L252.18,42.54 L252.43,42.51 L252.68,42.48 L252.93,42.45 L253.18,42.41 L253.43,42.36 L253.67,42.31 L253.92,42.26 L254.17,42.2 L254.42,42.13 L254.67,42.06 L254.92,41.98 L255.17,41.89 L255.42,41.79 L255.67,41.68 L255.92,41.57 L256.17,41.44 L256.42,41.3 L256.67,41.16 L256.92,40.99 L257.17,40.82 L257.42,40.63 L257.67,40.42 L257.92,40.2 L258.17,39.96 L258.42,39.71 L258.67,39.44 L258.92,39.15 L259.17,38.85 L259.42,38.53 L259.67,38.2 L259.92,37.87 L260.17,37.53 L260.42,37.18 L260.67,36.85 L260.92,36.53 L261.17,36.23 L261.42,35.97 L261.67,35.75 L261.92,35.6 L262.17,35.52 L262.42,35.52 L262.67,35.63 L262.92,35.86 L263.17,36.23 L263.42,36.75 L263.67,37.41 L263.92,38.21 L264.17,39.15 L264.42,40.22 L264.67,41.38 L264.92,42.62 L265.17,43.89 L265.42,45.33 L265.67,46.76 L265.92,48.13 L266.17,49.41 L266.42,50.6 L266.67,51.65 L266.92,52.57 L267.17,53.34 L267.42,53.97 L267.67,54.45 L267.92,54.79 L268.17,55 L268.42,55.09 L268.67,55.07 L268.92,54.97 L269.17,54.79 L269.42,54.54 L269.67,54.24 L269.92,53.9 L270.17,53.53 L270.42,53.15 L270.67,52.75 L270.92,52.34 L271.17,51.93 L271.42,51.53 L271.67,51.14 L271.92,50.76 L272.17,50.39 L272.42,50.03 L272.67,49.69 L272.92,49.37 L273.17,49.06 L273.42,48.77 L273.67,48.5 L273.92,48.24 L274.17,48 L274.42,47.77 L274.67,47.56 L274.92,47.36 L275.17,47.17 L275.42,46.99 L275.67,46.83 L275.92,46.68 L276.17,46.53 L276.42,46.4 L276.67,46.27 L276.92,46.16 L277.17,46.05 L277.42,45.95 L277.67,45.85 L277.92,45.77 L278.17,45.68 L278.42,45.61 L278.67,45.54 L278.91,45.47 L279.16,45.41 L279.41,45.35 L279.66,45.29 L279.91,45.24 L280.16,45.19 L280.41,45.15 L280.66,45.11 L280.91,45.07 L281.16,45.03 L281.41,45 L281.66,44.97 L281.91,44.94 L282.16,44.91 L282.41,44.88 L282.66,44.86 L282.91,44.84 L283.16,44.82 L283.41,44.8 L283.66,44.78 L283.91,44.76 L284.16,44.74 L284.41,44.73 L284.66,44.71 L284.91,44.7 L285.16,44.69 L285.41,44.68 L285.66,44.67 L285.91,44.66 L286.16,44.65 L286.41,44.64 L286.66,44.63 L286.91,44.62 L287.16,44.62 L287.41,44.61 L287.66,44.6 L287.91,44.6 L288.16,44.59 L288.41,44.59 L288.66,44.58 L288.91,44.58 L289.16,44.58 L289.41,44.57 L289.66,44.57 L289.91,44.57 L290.16,44.57 L290.41,44.56 L290.66,44.56 L290.91,44.56 L291.16,44.56 L291.41,44.56 L291.66,44.56 L291.91,44.56 L292.16,44.55 L292.41,44.55 L292.66,44.55 L292.91,44.55 L293.16,44.55 L293.41,44.55 L293.66,44.55 L293.91,44.56 L294.16,44.56 L294.41,44.56 L294.66,44.56 L294.91,44.56 L295.16,44.56 L295.41,44.56 L295.66,44.56 L295.91,44.56 L296.16,44.56 L296.41,44.57 L296.66,44.57 L296.91,44.57 L297.16,44.57 L297.41,44.57 L297.66,44.57 L297.91,44.58 L298.16,44.58 L298.41,44.58 L298.66,44.58 L298.91,44.58 L299.16,44.59 L299.41,44.59 L299.66,44.59 L299.91,44.59 L300.16,44.6 L300.41,44.6 L300.66,44.6 L300.91,44.6 L301.16,44.61 L301.41,44.61 L301.66,44.61 L301.91,44.61 L302.16,44.62 L302.41,44.62 L302.66,44.62 L302.91,44.62 L303.16,44.63 L303.41,44.63 L303.66,44.63 L303.91,44.64 L304.16,44.64 L304.4,44.64 L304.65,44.64 L304.9,44.65 L305.15,44.65 L305.4,44.65 L305.65,44.66 L305.9,44.66 L306.15,44.66 L306.4,44.66 L306.65,44.67 L306.9,44.67 L307.15,44.67 L307.4,44.68 L307.65,44.68 L307.9,44.68 L308.15,44.69 L308.4,44.69 L308.65,44.69 L308.9,44.7 L309.15,44.7 L309.4,44.7 L309.65,44.71 L309.9,44.71 L310.15,44.71 L310.4,44.72 L310.65,44.72 L310.9,44.72 L311.15,44.73 L311.4,44.73 L311.65,44.73 L311.9,44.74 L312.15,44.74 L312.4,44.74 L312.65,44.75 L312.9,44.75 L313.15,44.75 L313.4,44.76 L313.65,44.76 L313.9,44.76 L314.15,44.77 L314.4,44.77 L314.65,44.77 L314.9,44.78 L315.15,44.78 L315.4,44.78 L315.65,44.79 L315.9,44.79 L316.15,44.79 L316.4,44.8 L316.65,44.8 L316.9,44.8" fill="none" stroke="#e5121a" stroke-width="1.85" stroke-linejoin="round"/>
<path d="M190.2,57.38 L190.45,57.38 L190.7,57.38 L190.95,57.37 L191.2,57.37 L191.45,57.37 L191.7,57.37 L191.95,57.37 L192.2,57.36 L192.45,57.36 L192.7,57.36 L192.95,57.36 L193.2,57.36 L193.45,57.35 L193.7,57.35 L193.95,57.35 L194.2,57.35 L194.45,57.34 L194.7,57.34 L194.95,57.34 L195.2,57.34 L195.45,57.34 L195.7,57.33 L195.95,57.33 L196.2,57.33 L196.45,57.33 L196.7,57.32 L196.95,57.32 L197.2,57.32 L197.45,57.32 L197.7,57.32 L197.95,57.31 L198.2,57.31 L198.45,57.31 L198.7,57.31 L198.95,57.3 L199.2,57.3 L199.45,57.3 L199.7,57.3 L199.95,57.3 L200.2,57.29 L200.45,57.29 L200.7,57.29 L200.95,57.29 L201.2,57.28 L201.45,57.28 L201.7,57.28 L201.95,57.28 L202.2,57.28 L202.45,57.27 L202.7,57.27 L202.94,57.27 L203.19,57.27 L203.44,57.26 L203.69,57.26 L203.94,57.26 L204.19,57.26 L204.44,57.25 L204.69,57.25 L204.94,57.25 L205.19,57.25 L205.44,57.25 L205.69,57.24 L205.94,57.24 L206.19,57.24 L206.44,57.24 L206.69,57.23 L206.94,57.23 L207.19,57.23 L207.44,57.23 L207.69,57.22 L207.94,57.22 L208.19,57.22 L208.44,57.22 L208.69,57.21 L208.94,57.21 L209.19,57.21 L209.44,57.21 L209.69,57.21 L209.94,57.2 L210.19,57.2 L210.44,57.2 L210.69,57.2 L210.94,57.19 L211.19,57.19 L211.44,57.19 L211.69,57.19 L211.94,57.18 L212.19,57.18 L212.44,57.18 L212.69,57.18 L212.94,57.17 L213.19,57.17 L213.44,57.17 L213.69,57.16 L213.94,57.16 L214.19,57.16 L214.44,57.16 L214.69,57.15 L214.94,57.15 L215.19,57.15 L215.44,57.15 L215.69,57.14 L215.94,57.14 L216.19,57.14 L216.44,57.14 L216.69,57.13 L216.94,57.13 L217.19,57.13 L217.44,57.12 L217.69,57.12 L217.94,57.12 L218.19,57.12 L218.44,57.11 L218.69,57.11 L218.94,57.11 L219.19,57.1 L219.44,57.1 L219.69,57.1 L219.94,57.1 L220.19,57.09 L220.44,57.09 L220.69,57.09 L220.94,57.08 L221.19,57.08 L221.44,57.08 L221.69,57.07 L221.94,57.07 L222.19,57.07 L222.44,57.07 L222.69,57.06 L222.94,57.06 L223.19,57.06 L223.44,57.05 L223.69,57.05 L223.94,57.05 L224.19,57.04 L224.44,57.04 L224.69,57.04 L224.94,57.03 L225.19,57.03 L225.44,57.03 L225.69,57.02 L225.94,57.02 L226.19,57.01 L226.44,57.01 L226.69,57.01 L226.94,57 L227.19,57 L227.44,57 L227.69,56.99 L227.94,56.99 L228.19,56.98 L228.43,56.98 L228.68,56.98 L228.93,56.97 L229.18,56.97 L229.43,56.96 L229.68,56.96 L229.93,56.95 L230.18,56.95 L230.43,56.95 L230.68,56.94 L230.93,56.94 L231.18,56.93 L231.43,56.93 L231.68,56.92 L231.93,56.92 L232.18,56.91 L232.43,56.91 L232.68,56.9 L232.93,56.9 L233.18,56.89 L233.43,56.88 L233.68,56.88 L233.93,56.87 L234.18,56.87 L234.43,56.86 L234.68,56.85 L234.93,56.85 L235.18,56.84 L235.43,56.83 L235.68,56.82 L235.93,56.82 L236.18,56.81 L236.43,56.8 L236.68,56.79 L236.93,56.78 L237.18,56.77 L237.43,56.76 L237.68,56.74 L237.93,56.73 L238.18,56.72 L238.43,56.7 L238.68,56.69 L238.93,56.67 L239.18,56.66 L239.43,56.64 L239.68,56.62 L239.93,56.6 L240.18,56.58 L240.43,56.57 L240.68,56.55 L240.93,56.53 L241.18,56.51 L241.43,56.49 L241.68,56.47 L241.93,56.45 L242.18,56.42 L242.43,56.39 L242.68,56.36 L242.93,56.33 L243.18,56.3 L243.43,56.27 L243.68,56.23 L243.93,56.19 L244.18,56.15 L244.43,56.11 L244.68,56.07 L244.93,56.03 L245.18,55.98 L245.43,55.94 L245.68,55.89 L245.93,55.84 L246.18,55.8 L246.43,55.75 L246.68,55.7 L246.93,55.65 L247.18,55.6 L247.43,55.56 L247.68,55.51 L247.93,55.46 L248.18,55.41 L248.43,55.37 L248.68,55.32 L248.93,55.28 L249.18,55.24 L249.43,55.2 L249.68,55.16 L249.93,55.12 L250.18,55.08 L250.43,55.05 L250.68,55.02 L250.93,54.99 L251.18,54.96 L251.43,54.93 L251.68,54.9 L251.93,54.88 L252.18,54.86 L252.43,54.83 L252.68,54.81 L252.93,54.79 L253.18,54.77 L253.43,54.75 L253.67,54.72 L253.92,54.69 L254.17,54.65 L254.42,54.61 L254.67,54.55 L254.92,54.48 L255.17,54.38 L255.42,54.26 L255.67,54.1 L255.92,53.91 L256.17,53.68 L256.42,53.4 L256.67,53.07 L256.92,52.7 L257.17,52.29 L257.42,51.86 L257.67,51.41 L257.92,50.97 L258.17,50.55 L258.42,50.17 L258.67,49.86 L258.92,49.63 L259.17,49.48 L259.42,49.44 L259.67,49.5 L259.92,49.65 L260.17,49.88 L260.42,50.18 L260.67,50.54 L260.92,50.92 L261.17,51.32 L261.42,51.71 L261.67,52.09 L261.92,52.44 L262.17,52.77 L262.42,53.07 L262.67,53.34 L262.92,53.58 L263.17,53.81 L263.42,54.02 L263.67,54.23 L263.92,54.43 L264.17,54.64 L264.42,54.86 L264.67,55.09 L264.92,55.34 L265.17,55.6 L265.42,55.87 L265.67,56.15 L265.92,56.45 L266.17,56.75 L266.42,57.06 L266.67,57.38 L266.92,57.74 L267.17,58.14 L267.42,58.54 L267.67,58.94 L267.92,59.34 L268.17,59.73 L268.42,60.11 L268.67,60.49 L268.92,60.86 L269.17,61.22 L269.42,61.57 L269.67,61.91 L269.92,62.24 L270.17,62.56 L270.42,62.86 L270.67,63.16 L270.92,63.44 L271.17,63.71 L271.42,63.96 L271.67,64.2 L271.92,64.43 L272.17,64.64 L272.42,64.84 L272.67,65.02 L272.92,65.19 L273.17,65.35 L273.42,65.49 L273.67,65.62 L273.92,65.73 L274.17,65.84 L274.42,65.93 L274.67,66.01 L274.92,66.07 L275.17,66.13 L275.42,66.17 L275.67,66.21 L275.92,66.23 L276.17,66.25 L276.42,66.25 L276.67,66.25 L276.92,66.24 L277.17,66.22 L277.42,66.19 L277.67,66.16 L277.92,66.12 L278.17,66.07 L278.42,66.02 L278.67,65.97 L278.91,65.91 L279.16,65.84 L279.41,65.77 L279.66,65.7 L279.91,65.63 L280.16,65.55 L280.41,65.47 L280.66,65.38 L280.91,65.3 L281.16,65.21 L281.41,65.12 L281.66,65.03 L281.91,64.94 L282.16,64.85 L282.41,64.75 L282.66,64.66 L282.91,64.57 L283.16,64.47 L283.41,64.38 L283.66,64.28 L283.91,64.19 L284.16,64.1 L284.41,64 L284.66,63.91 L284.91,63.82 L285.16,63.73 L285.41,63.64 L285.66,63.55 L285.91,63.46 L286.16,63.37 L286.41,63.28 L286.66,63.2 L286.91,63.11 L287.16,63.03 L287.41,62.95 L287.66,62.87 L287.91,62.79 L288.16,62.71 L288.41,62.63 L288.66,62.55 L288.91,62.48 L289.16,62.41 L289.41,62.33 L289.66,62.26 L289.91,62.19 L290.16,62.12 L290.41,62.06 L290.66,61.99 L290.91,61.92 L291.16,61.86 L291.41,61.8 L291.66,61.74 L291.91,61.68 L292.16,61.62 L292.41,61.56 L292.66,61.5 L292.91,61.45 L293.16,61.4 L293.41,61.34 L293.66,61.29 L293.91,61.24 L294.16,61.19 L294.41,61.14 L294.66,61.09 L294.91,61.05 L295.16,61 L295.41,60.96 L295.66,60.91 L295.91,60.87 L296.16,60.83 L296.41,60.79 L296.66,60.75 L296.91,60.71 L297.16,60.67 L297.41,60.63 L297.66,60.6 L297.91,60.56 L298.16,60.53 L298.41,60.49 L298.66,60.46 L298.91,60.43 L299.16,60.4 L299.41,60.36 L299.66,60.33 L299.91,60.3 L300.16,60.28 L300.41,60.25 L300.66,60.22 L300.91,60.19 L301.16,60.17 L301.41,60.14 L301.66,60.12 L301.91,60.09 L302.16,60.07 L302.41,60.04 L302.66,60.02 L302.91,60 L303.16,59.98 L303.41,59.96 L303.66,59.94 L303.91,59.91 L304.16,59.9 L304.4,59.88 L304.65,59.86 L304.9,59.84 L305.15,59.82 L305.4,59.8 L305.65,59.79 L305.9,59.77 L306.15,59.75 L306.4,59.74 L306.65,59.72 L306.9,59.71 L307.15,59.69 L307.4,59.68 L307.65,59.66 L307.9,59.65 L308.15,59.64 L308.4,59.62 L308.65,59.61 L308.9,59.6 L309.15,59.59 L309.4,59.58 L309.65,59.57 L309.9,59.55 L310.15,59.54 L310.4,59.53 L310.65,59.52 L310.9,59.51 L311.15,59.5 L311.4,59.49 L311.65,59.49 L311.9,59.48 L312.15,59.47 L312.4,59.46 L312.65,59.45 L312.9,59.44 L313.15,59.44 L313.4,59.43 L313.65,59.42 L313.9,59.41 L314.15,59.41 L314.4,59.4 L314.65,59.39 L314.9,59.39 L315.15,59.38 L315.4,59.38 L315.65,59.37 L315.9,59.37 L316.15,59.36 L316.4,59.35 L316.65,59.35 L316.9,59.35" fill="none" stroke="#2fd62f" stroke-width="1.85" stroke-linejoin="round"/>
<path d="M190.2,71.77 L190.45,71.77 L190.7,71.77 L190.95,71.76 L191.2,71.76 L191.45,71.75 L191.7,71.75 L191.95,71.74 L192.2,71.74 L192.45,71.74 L192.7,71.73 L192.95,71.73 L193.2,71.72 L193.45,71.72 L193.7,71.71 L193.95,71.71 L194.2,71.71 L194.45,71.7 L194.7,71.7 L194.95,71.69 L195.2,71.69 L195.45,71.68 L195.7,71.68 L195.95,71.68 L196.2,71.67 L196.45,71.67 L196.7,71.66 L196.95,71.66 L197.2,71.65 L197.45,71.65 L197.7,71.65 L197.95,71.64 L198.2,71.64 L198.45,71.63 L198.7,71.63 L198.95,71.62 L199.2,71.62 L199.45,71.62 L199.7,71.61 L199.95,71.61 L200.2,71.6 L200.45,71.6 L200.7,71.59 L200.95,71.59 L201.2,71.58 L201.45,71.58 L201.7,71.58 L201.95,71.57 L202.2,71.57 L202.45,71.56 L202.7,71.56 L202.94,71.55 L203.19,71.55 L203.44,71.54 L203.69,71.54 L203.94,71.53 L204.19,71.53 L204.44,71.53 L204.69,71.52 L204.94,71.52 L205.19,71.51 L205.44,71.51 L205.69,71.5 L205.94,71.5 L206.19,71.49 L206.44,71.49 L206.69,71.48 L206.94,71.48 L207.19,71.48 L207.44,71.47 L207.69,71.47 L207.94,71.46 L208.19,71.46 L208.44,71.45 L208.69,71.45 L208.94,71.44 L209.19,71.44 L209.44,71.43 L209.69,71.43 L209.94,71.42 L210.19,71.42 L210.44,71.41 L210.69,71.41 L210.94,71.4 L211.19,71.4 L211.44,71.39 L211.69,71.39 L211.94,71.38 L212.19,71.38 L212.44,71.37 L212.69,71.37 L212.94,71.36 L213.19,71.36 L213.44,71.35 L213.69,71.35 L213.94,71.34 L214.19,71.34 L214.44,71.33 L214.69,71.33 L214.94,71.32 L215.19,71.32 L215.44,71.31 L215.69,71.31 L215.94,71.3 L216.19,71.29 L216.44,71.29 L216.69,71.28 L216.94,71.28 L217.19,71.27 L217.44,71.27 L217.69,71.26 L217.94,71.26 L218.19,71.25 L218.44,71.24 L218.69,71.24 L218.94,71.23 L219.19,71.23 L219.44,71.22 L219.69,71.22 L219.94,71.21 L220.19,71.2 L220.44,71.2 L220.69,71.19 L220.94,71.18 L221.19,71.18 L221.44,71.17 L221.69,71.17 L221.94,71.16 L222.19,71.15 L222.44,71.15 L222.69,71.14 L222.94,71.13 L223.19,71.13 L223.44,71.12 L223.69,71.11 L223.94,71.11 L224.19,71.1 L224.44,71.09 L224.69,71.09 L224.94,71.08 L225.19,71.07 L225.44,71.06 L225.69,71.06 L225.94,71.05 L226.19,71.04 L226.44,71.03 L226.69,71.03 L226.94,71.02 L227.19,71.01 L227.44,71 L227.69,70.99 L227.94,70.98 L228.19,70.98 L228.43,70.97 L228.68,70.96 L228.93,70.95 L229.18,70.94 L229.43,70.93 L229.68,70.92 L229.93,70.91 L230.18,70.9 L230.43,70.89 L230.68,70.88 L230.93,70.88 L231.18,70.86 L231.43,70.85 L231.68,70.84 L231.93,70.83 L232.18,70.82 L232.43,70.81 L232.68,70.8 L232.93,70.79 L233.18,70.78 L233.43,70.77 L233.68,70.75 L233.93,70.74 L234.18,70.73 L234.43,70.72 L234.68,70.7 L234.93,70.69 L235.18,70.68 L235.43,70.66 L235.68,70.65 L235.93,70.63 L236.18,70.62 L236.43,70.6 L236.68,70.59 L236.93,70.57 L237.18,70.56 L237.43,70.54 L237.68,70.52 L237.93,70.51 L238.18,70.49 L238.43,70.47 L238.68,70.45 L238.93,70.43 L239.18,70.41 L239.43,70.39 L239.68,70.37 L239.93,70.35 L240.18,70.33 L240.43,70.32 L240.68,70.3 L240.93,70.28 L241.18,70.26 L241.43,70.24 L241.68,70.22 L241.93,70.2 L242.18,70.18 L242.43,70.16 L242.68,70.13 L242.93,70.11 L243.18,70.09 L243.43,70.06 L243.68,70.03 L243.93,70.01 L244.18,69.98 L244.43,69.95 L244.68,69.92 L244.93,69.89 L245.18,69.86 L245.43,69.82 L245.68,69.79 L245.93,69.75 L246.18,69.72 L246.43,69.68 L246.68,69.64 L246.93,69.6 L247.18,69.56 L247.43,69.51 L247.68,69.47 L247.93,69.42 L248.18,69.37 L248.43,69.32 L248.68,69.27 L248.93,69.22 L249.18,69.16 L249.43,69.11 L249.68,69.05 L249.93,68.99 L250.18,68.93 L250.43,68.86 L250.68,68.8 L250.93,68.73 L251.18,68.66 L251.43,68.58 L251.68,68.51 L251.93,68.43 L252.18,68.35 L252.43,68.27 L252.68,68.19 L252.93,68.1 L253.18,68.02 L253.43,67.93 L253.67,67.83 L253.92,67.74 L254.17,67.64 L254.42,67.54 L254.67,67.44 L254.92,67.34 L255.17,67.23 L255.42,67.12 L255.67,67.01 L255.92,66.9 L256.17,66.79 L256.42,66.68 L256.67,66.56 L256.92,66.45 L257.17,66.33 L257.42,66.21 L257.67,66.1 L257.92,65.98 L258.17,65.86 L258.42,65.75 L258.67,65.64 L258.92,65.53 L259.17,65.42 L259.42,65.31 L259.67,65.21 L259.92,65.12 L260.17,65.03 L260.42,64.94 L260.67,64.86 L260.92,64.79 L261.17,64.73 L261.42,64.68 L261.67,64.64 L261.92,64.61 L262.17,64.59 L262.42,64.59 L262.67,64.6 L262.92,64.62 L263.17,64.66 L263.42,64.72 L263.67,64.79 L263.92,64.89 L264.17,65 L264.42,65.13 L264.67,65.28 L264.92,65.45 L265.17,65.65 L265.42,65.86 L265.67,66.09 L265.92,66.35 L266.17,66.62 L266.42,66.91 L266.67,67.22 L266.92,67.55 L267.17,67.9 L267.42,68.26 L267.67,68.63 L267.92,69.02 L268.17,69.41 L268.42,69.82 L268.67,70.23 L268.92,70.64 L269.17,71.06 L269.42,72.17 L269.67,73.36 L269.92,74.51 L270.17,75.61 L270.42,76.64 L270.67,77.59 L270.92,78.44 L271.17,79.2 L271.42,79.85 L271.67,80.39 L271.92,80.83 L272.17,81.17 L272.42,81.41 L272.67,81.56 L272.92,81.62 L273.17,81.61 L273.42,81.54 L273.67,81.4 L273.92,81.21 L274.17,80.99 L274.42,80.73 L274.67,80.44 L274.92,80.13 L275.17,79.81 L275.42,79.48 L275.67,79.14 L275.92,78.8 L276.17,78.46 L276.42,78.13 L276.67,77.8 L276.92,77.48 L277.17,77.17 L277.42,76.87 L277.67,76.58 L277.92,76.31 L278.17,76.04 L278.42,75.79 L278.67,75.55 L278.91,75.32 L279.16,75.1 L279.41,74.89 L279.66,74.69 L279.91,74.51 L280.16,74.33 L280.41,74.16 L280.66,74.01 L280.91,73.86 L281.16,73.72 L281.41,73.59 L281.66,73.46 L281.91,73.34 L282.16,73.23 L282.41,73.13 L282.66,73.03 L282.91,72.94 L283.16,72.85 L283.41,72.77 L283.66,72.69 L283.91,72.62 L284.16,72.55 L284.41,72.48 L284.66,72.42 L284.91,72.36 L285.16,72.31 L285.41,72.25 L285.66,72.21 L285.91,72.16 L286.16,72.11 L286.41,72.07 L286.66,72.03 L286.91,72 L287.16,71.96 L287.41,71.93 L287.66,71.9 L287.91,71.87 L288.16,71.84 L288.41,71.81 L288.66,71.79 L288.91,71.76 L289.16,71.74 L289.41,71.72 L289.66,71.7 L289.91,71.68 L290.16,71.66 L290.41,71.64 L290.66,71.63 L290.91,71.61 L291.16,71.59 L291.41,71.58 L291.66,71.57 L291.91,71.55 L292.16,71.54 L292.41,71.53 L292.66,71.52 L292.91,71.51 L293.16,71.5 L293.41,71.49 L293.66,71.48 L293.91,71.47 L294.16,71.46 L294.41,71.45 L294.66,71.45 L294.91,71.44 L295.16,71.43 L295.41,71.43 L295.66,71.42 L295.91,71.41 L296.16,71.41 L296.41,71.4 L296.66,71.4 L296.91,71.39 L297.16,71.39 L297.41,71.38 L297.66,71.38 L297.91,71.38 L298.16,71.37 L298.41,71.37 L298.66,71.37 L298.91,71.36 L299.16,71.36 L299.41,71.36 L299.66,71.35 L299.91,71.35 L300.16,71.35 L300.41,71.35 L300.66,71.34 L300.91,71.34 L301.16,71.34 L301.41,71.34 L301.66,71.34 L301.91,71.33 L302.16,71.33 L302.41,71.33 L302.66,71.33 L302.91,71.33 L303.16,71.33 L303.41,71.33 L303.66,71.32 L303.91,71.32 L304.16,71.32 L304.4,71.32 L304.65,71.32 L304.9,71.32 L305.15,71.32 L305.4,71.32 L305.65,71.32 L305.9,71.32 L306.15,71.32 L306.4,71.32 L306.65,71.31 L306.9,71.31 L307.15,71.31 L307.4,71.31 L307.65,71.31 L307.9,71.31 L308.15,71.31 L308.4,71.31 L308.65,71.31 L308.9,71.31 L309.15,71.31 L309.4,71.31 L309.65,71.31 L309.9,71.31 L310.15,71.31 L310.4,71.31 L310.65,71.31 L310.9,71.31 L311.15,71.31 L311.4,71.31 L311.65,71.31 L311.9,71.31 L312.15,71.31 L312.4,71.31 L312.65,71.31 L312.9,71.31 L313.15,71.31 L313.4,71.31 L313.65,71.31 L313.9,71.31 L314.15,71.32 L314.4,71.32 L314.65,71.32 L314.9,71.32 L315.15,71.32 L315.4,71.32 L315.65,71.32 L315.9,71.32 L316.15,71.32 L316.4,71.32 L316.65,71.32 L316.9,71.32" fill="none" stroke="#1212c4" stroke-width="1.85" stroke-linejoin="round"/>
<path d="M190.2,86.49 L190.45,86.49 L190.7,86.49 L190.95,86.49 L191.2,86.49 L191.45,86.49 L191.7,86.49 L191.95,86.49 L192.2,86.49 L192.45,86.49 L192.7,86.48 L192.95,86.48 L193.2,86.48 L193.45,86.48 L193.7,86.48 L193.95,86.48 L194.2,86.48 L194.45,86.48 L194.7,86.48 L194.95,86.48 L195.2,86.47 L195.45,86.47 L195.7,86.47 L195.95,86.47 L196.2,86.47 L196.45,86.47 L196.7,86.47 L196.95,86.47 L197.2,86.47 L197.45,86.47 L197.7,86.46 L197.95,86.46 L198.2,86.46 L198.45,86.46 L198.7,86.46 L198.95,86.46 L199.2,86.46 L199.45,86.46 L199.7,86.46 L199.95,86.45 L200.2,86.45 L200.45,86.45 L200.7,86.45 L200.95,86.45 L201.2,86.45 L201.45,86.45 L201.7,86.45 L201.95,86.45 L202.2,86.44 L202.45,86.44 L202.7,86.44 L202.94,86.44 L203.19,86.44 L203.44,86.44 L203.69,86.44 L203.94,86.44 L204.19,86.44 L204.44,86.44 L204.69,86.43 L204.94,86.43 L205.19,86.43 L205.44,86.43 L205.69,86.43 L205.94,86.43 L206.19,86.43 L206.44,86.43 L206.69,86.43 L206.94,86.42 L207.19,86.42 L207.44,86.42 L207.69,86.42 L207.94,86.42 L208.19,86.42 L208.44,86.42 L208.69,86.42 L208.94,86.41 L209.19,86.41 L209.44,86.41 L209.69,86.41 L209.94,86.41 L210.19,86.41 L210.44,86.41 L210.69,86.41 L210.94,86.41 L211.19,86.4 L211.44,86.4 L211.69,86.4 L211.94,86.4 L212.19,86.4 L212.44,86.4 L212.69,86.4 L212.94,86.4 L213.19,86.39 L213.44,86.39 L213.69,86.39 L213.94,86.39 L214.19,86.39 L214.44,86.39 L214.69,86.39 L214.94,86.39 L215.19,86.38 L215.44,86.38 L215.69,86.38 L215.94,86.38 L216.19,86.38 L216.44,86.38 L216.69,86.38 L216.94,86.38 L217.19,86.37 L217.44,86.37 L217.69,86.37 L217.94,86.37 L218.19,86.37 L218.44,86.37 L218.69,86.37 L218.94,86.36 L219.19,86.36 L219.44,86.36 L219.69,86.36 L219.94,86.36 L220.19,86.36 L220.44,86.36 L220.69,86.35 L220.94,86.35 L221.19,86.35 L221.44,86.35 L221.69,86.35 L221.94,86.35 L222.19,86.34 L222.44,86.34 L222.69,86.34 L222.94,86.34 L223.19,86.34 L223.44,86.34 L223.69,86.33 L223.94,86.33 L224.19,86.33 L224.44,86.33 L224.69,86.33 L224.94,86.33 L225.19,86.32 L225.44,86.32 L225.69,86.32 L225.94,86.32 L226.19,86.32 L226.44,86.31 L226.69,86.31 L226.94,86.31 L227.19,86.31 L227.44,86.3 L227.69,86.3 L227.94,86.3 L228.19,86.3 L228.43,86.3 L228.68,86.29 L228.93,86.29 L229.18,86.29 L229.43,86.29 L229.68,86.28 L229.93,86.28 L230.18,86.28 L230.43,86.27 L230.68,86.27 L230.93,86.27 L231.18,86.27 L231.43,86.26 L231.68,86.26 L231.93,86.26 L232.18,86.25 L232.43,86.25 L232.68,86.25 L232.93,86.24 L233.18,86.24 L233.43,86.24 L233.68,86.23 L233.93,86.23 L234.18,86.22 L234.43,86.22 L234.68,86.22 L234.93,86.21 L235.18,86.21 L235.43,86.2 L235.68,86.2 L235.93,86.19 L236.18,86.19 L236.43,86.18 L236.68,86.18 L236.93,86.17 L237.18,86.17 L237.43,86.16 L237.68,86.15 L237.93,86.15 L238.18,86.14 L238.43,86.13 L238.68,86.13 L238.93,86.12 L239.18,86.11 L239.43,86.1 L239.68,86.1 L239.93,86.09 L240.18,86.08 L240.43,86.07 L240.68,86.06 L240.93,86.05 L241.18,86.04 L241.43,86.03 L241.68,86.02 L241.93,86.01 L242.18,86 L242.43,85.98 L242.68,85.97 L242.93,85.96 L243.18,85.94 L243.43,85.93 L243.68,85.91 L243.93,85.9 L244.18,85.88 L244.43,85.87 L244.68,85.85 L244.93,85.83 L245.18,85.81 L245.43,85.79 L245.68,85.77 L245.93,85.74 L246.18,85.72 L246.43,85.69 L246.68,85.66 L246.93,85.63 L247.18,85.59 L247.43,85.54 L247.68,85.49 L247.93,85.42 L248.18,85.34 L248.43,85.23 L248.68,85.1 L248.93,84.93 L249.18,84.73 L249.43,84.48 L249.68,84.19 L249.93,83.84 L250.18,83.44 L250.43,82.99 L250.68,82.49 L250.93,81.96 L251.18,81.41 L251.43,80.86 L251.68,80.32 L251.93,79.82 L252.18,79.38 L252.43,79.03 L252.68,78.77 L252.93,78.61 L253.18,78.58 L253.43,78.65 L253.67,78.83 L253.92,79.1 L254.17,79.45 L254.42,79.85 L254.67,80.28 L254.92,80.73 L255.17,81.17 L255.42,81.58 L255.67,81.96 L255.92,82.3 L256.17,82.59 L256.42,82.84 L256.67,83.04 L256.92,83.2 L257.17,83.34 L257.42,83.44 L257.67,83.53 L257.92,83.61 L258.17,83.67 L258.42,83.74 L258.67,83.81 L258.92,83.89 L259.17,83.98 L259.42,84.07 L259.67,84.18 L259.92,84.3 L260.17,84.44 L260.42,84.59 L260.67,84.75 L260.92,84.92 L261.17,85.11 L261.42,85.3 L261.67,85.51 L261.92,85.72 L262.17,85.93 L262.42,86.15 L262.67,86.87 L262.92,87.82 L263.17,88.75 L263.42,89.65 L263.67,90.52 L263.92,91.35 L264.17,92.13 L264.42,92.86 L264.67,93.53 L264.92,94.13 L265.17,94.67 L265.42,95.15 L265.67,95.56 L265.92,95.9 L266.17,96.17 L266.42,96.39 L266.67,96.54 L266.92,96.64 L267.17,96.69 L267.42,96.69 L267.67,96.65 L267.92,96.56 L268.17,96.45 L268.42,96.3 L268.67,96.12 L268.92,95.93 L269.17,95.71 L269.42,95.48 L269.67,95.23 L269.92,94.98 L270.17,94.72 L270.42,94.45 L270.67,94.18 L270.92,93.91 L271.17,93.64 L271.42,93.37 L271.67,93.11 L271.92,92.85 L272.17,92.59 L272.42,92.34 L272.67,92.1 L272.92,91.86 L273.17,91.63 L273.42,91.41 L273.67,91.2 L273.92,90.99 L274.17,90.79 L274.42,90.59 L274.67,90.41 L274.92,90.23 L275.17,90.06 L275.42,89.89 L275.67,89.73 L275.92,89.58 L276.17,89.44 L276.42,89.3 L276.67,89.17 L276.92,89.04 L277.17,88.92 L277.42,88.8 L277.67,88.69 L277.92,88.59 L278.17,88.49 L278.42,88.39 L278.67,88.3 L278.91,88.21 L279.16,88.12 L279.41,88.04 L279.66,87.97 L279.91,87.89 L280.16,87.82 L280.41,87.75 L280.66,87.69 L280.91,87.63 L281.16,87.57 L281.41,87.51 L281.66,87.46 L281.91,87.41 L282.16,87.36 L282.41,87.31 L282.66,87.27 L282.91,87.22 L283.16,87.18 L283.41,87.14 L283.66,87.11 L283.91,87.07 L284.16,87.03 L284.41,87 L284.66,86.97 L284.91,86.94 L285.16,86.91 L285.41,86.88 L285.66,86.85 L285.91,86.83 L286.16,86.8 L286.41,86.78 L286.66,86.75 L286.91,86.73 L287.16,86.71 L287.41,86.69 L287.66,86.67 L287.91,86.65 L288.16,86.63 L288.41,86.61 L288.66,86.6 L288.91,86.58 L289.16,86.57 L289.41,86.55 L289.66,86.54 L289.91,86.52 L290.16,86.51 L290.41,86.49 L290.66,86.48 L290.91,86.47 L291.16,86.46 L291.41,86.45 L291.66,86.43 L291.91,86.42 L292.16,86.41 L292.41,86.4 L292.66,86.39 L292.91,86.38 L293.16,86.37 L293.41,86.37 L293.66,86.36 L293.91,86.35 L294.16,86.34 L294.41,86.33 L294.66,86.32 L294.91,86.32 L295.16,86.31 L295.41,86.3 L295.66,86.3 L295.91,86.29 L296.16,86.28 L296.41,86.28 L296.66,86.27 L296.91,86.26 L297.16,86.26 L297.41,86.25 L297.66,86.25 L297.91,86.24 L298.16,86.24 L298.41,86.23 L298.66,86.23 L298.91,86.22 L299.16,86.22 L299.41,86.21 L299.66,86.21 L299.91,86.2 L300.16,86.2 L300.41,86.2 L300.66,86.19 L300.91,86.19 L301.16,86.18 L301.41,86.18 L301.66,86.18 L301.91,86.17 L302.16,86.17 L302.41,86.17 L302.66,86.16 L302.91,86.16 L303.16,86.16 L303.41,86.15 L303.66,86.15 L303.91,86.15 L304.16,86.14 L304.4,86.14 L304.65,86.14 L304.9,86.13 L305.15,86.13 L305.4,86.13 L305.65,86.13 L305.9,86.12 L306.15,86.12 L306.4,86.12 L306.65,86.12 L306.9,86.11 L307.15,86.11 L307.4,86.11 L307.65,86.11 L307.9,86.1 L308.15,86.1 L308.4,86.1 L308.65,86.1 L308.9,86.09 L309.15,86.09 L309.4,86.09 L309.65,86.09 L309.9,86.09 L310.15,86.08 L310.4,86.08 L310.65,86.08 L310.9,86.08 L311.15,86.08 L311.4,86.07 L311.65,86.07 L311.9,86.07 L312.15,86.07 L312.4,86.07 L312.65,86.06 L312.9,86.06 L313.15,86.06 L313.4,86.06 L313.65,86.06 L313.9,86.05 L314.15,86.05 L314.4,86.05 L314.65,86.05 L314.9,86.05 L315.15,86.05 L315.4,86.04 L315.65,86.04 L315.9,86.04 L316.15,86.04 L316.4,86.04 L316.65,86.04 L316.9,86.03" fill="none" stroke="#2fdede" stroke-width="1.85" stroke-linejoin="round"/>
<path d="M190.2,100.9 L190.45,100.89 L190.7,100.89 L190.95,100.89 L191.2,100.89 L191.45,100.89 L191.7,100.89 L191.95,100.88 L192.2,100.88 L192.45,100.88 L192.7,100.88 L192.95,100.88 L193.2,100.88 L193.45,100.87 L193.7,100.87 L193.95,100.87 L194.2,100.87 L194.45,100.87 L194.7,100.86 L194.95,100.86 L195.2,100.86 L195.45,100.86 L195.7,100.86 L195.95,100.86 L196.2,100.85 L196.45,100.85 L196.7,100.85 L196.95,100.85 L197.2,100.85 L197.45,100.85 L197.7,100.84 L197.95,100.84 L198.2,100.84 L198.45,100.84 L198.7,100.84 L198.95,100.83 L199.2,100.83 L199.45,100.83 L199.7,100.83 L199.95,100.83 L200.2,100.83 L200.45,100.82 L200.7,100.82 L200.95,100.82 L201.2,100.82 L201.45,100.82 L201.7,100.81 L201.95,100.81 L202.2,100.81 L202.45,100.81 L202.7,100.81 L202.94,100.81 L203.19,100.8 L203.44,100.8 L203.69,100.8 L203.94,100.8 L204.19,100.8 L204.44,100.8 L204.69,100.79 L204.94,100.79 L205.19,100.79 L205.44,100.79 L205.69,100.79 L205.94,100.78 L206.19,100.78 L206.44,100.78 L206.69,100.78 L206.94,100.78 L207.19,100.78 L207.44,100.77 L207.69,100.77 L207.94,100.77 L208.19,100.77 L208.44,100.77 L208.69,100.77 L208.94,100.76 L209.19,100.76 L209.44,100.76 L209.69,100.76 L209.94,100.76 L210.19,100.75 L210.44,100.75 L210.69,100.75 L210.94,100.75 L211.19,100.75 L211.44,100.75 L211.69,100.74 L211.94,100.74 L212.19,100.74 L212.44,100.74 L212.69,100.74 L212.94,100.74 L213.19,100.73 L213.44,100.73 L213.69,100.73 L213.94,100.73 L214.19,100.73 L214.44,100.72 L214.69,100.72 L214.94,100.72 L215.19,100.72 L215.44,100.72 L215.69,100.72 L215.94,100.71 L216.19,100.71 L216.44,100.71 L216.69,100.71 L216.94,100.71 L217.19,100.7 L217.44,100.7 L217.69,100.7 L217.94,100.7 L218.19,100.7 L218.44,100.7 L218.69,100.69 L218.94,100.69 L219.19,100.69 L219.44,100.69 L219.69,100.69 L219.94,100.68 L220.19,100.68 L220.44,100.68 L220.69,100.68 L220.94,100.68 L221.19,100.68 L221.44,100.67 L221.69,100.67 L221.94,100.67 L222.19,100.67 L222.44,100.67 L222.69,100.67 L222.94,100.66 L223.19,100.66 L223.44,100.66 L223.69,100.66 L223.94,100.66 L224.19,100.65 L224.44,100.65 L224.69,100.65 L224.94,100.65 L225.19,100.65 L225.44,100.64 L225.69,100.64 L225.94,100.64 L226.19,100.64 L226.44,100.64 L226.69,100.64 L226.94,100.63 L227.19,100.63 L227.44,100.63 L227.69,100.63 L227.94,100.63 L228.19,100.62 L228.43,100.62 L228.68,100.62 L228.93,100.62 L229.18,100.62 L229.43,100.61 L229.68,100.61 L229.93,100.61 L230.18,100.61 L230.43,100.61 L230.68,100.6 L230.93,100.6 L231.18,100.6 L231.43,100.6 L231.68,100.6 L231.93,100.59 L232.18,100.59 L232.43,100.59 L232.68,100.59 L232.93,100.58 L233.18,100.58 L233.43,100.58 L233.68,100.58 L233.93,100.57 L234.18,100.57 L234.43,100.57 L234.68,100.56 L234.93,100.56 L235.18,100.55 L235.43,100.55 L235.68,100.55 L235.93,100.54 L236.18,100.53 L236.43,100.53 L236.68,100.52 L236.93,100.52 L237.18,100.51 L237.43,100.5 L237.68,100.49 L237.93,100.48 L238.18,100.47 L238.43,100.46 L238.68,100.45 L238.93,100.44 L239.18,100.43 L239.43,100.41 L239.68,100.4 L239.93,100.38 L240.18,100.36 L240.43,100.34 L240.68,100.32 L240.93,100.3 L241.18,100.28 L241.43,100.26 L241.68,100.23 L241.93,100.2 L242.18,100.17 L242.43,100.14 L242.68,100.11 L242.93,100.08 L243.18,100.04 L243.43,100 L243.68,99.96 L243.93,99.92 L244.18,99.87 L244.43,99.82 L244.68,99.77 L244.93,99.71 L245.18,99.64 L245.43,99.56 L245.68,99.48 L245.93,99.38 L246.18,99.27 L246.43,99.15 L246.68,99.01 L246.93,98.85 L247.18,98.67 L247.43,98.48 L247.68,98.27 L247.93,98.04 L248.18,97.81 L248.43,97.56 L248.68,97.32 L248.93,97.09 L249.18,96.86 L249.43,96.66 L249.68,96.48 L249.93,96.34 L250.18,96.23 L250.43,96.17 L250.68,96.14 L250.93,96.16 L251.18,96.22 L251.43,96.32 L251.68,96.44 L251.93,96.59 L252.18,96.76 L252.43,96.94 L252.68,97.12 L252.93,97.3 L253.18,97.47 L253.43,97.63 L253.67,97.77 L253.92,97.89 L254.17,98 L254.42,98.07 L254.67,98.13 L254.92,98.16 L255.17,98.17 L255.42,98.15 L255.67,98.1 L255.92,98.02 L256.17,97.91 L256.42,97.77 L256.67,97.59 L256.92,97.39 L257.17,97.16 L257.42,96.91 L257.67,96.65 L257.92,96.38 L258.17,96.11 L258.42,95.87 L258.67,95.65 L258.92,95.48 L259.17,95.36 L259.42,95.3 L259.67,95.31 L259.92,95.39 L260.17,95.54 L260.42,95.76 L260.67,96.04 L260.92,96.38 L261.17,96.76 L261.42,97.17 L261.67,97.6 L261.92,98.04 L262.17,98.48 L262.42,98.92 L262.67,99.33 L262.92,100.05 L263.17,101.1 L263.42,102.11 L263.67,103.08 L263.92,104.01 L264.17,104.9 L264.42,105.75 L264.67,106.54 L264.92,107.29 L265.17,107.99 L265.42,108.63 L265.67,109.22 L265.92,109.76 L266.17,110.25 L266.42,110.68 L266.67,111.05 L266.92,111.38 L267.17,111.65 L267.42,111.88 L267.67,112.05 L267.92,112.18 L268.17,112.27 L268.42,112.32 L268.67,112.33 L268.92,112.3 L269.17,112.24 L269.42,112.15 L269.67,112.04 L269.92,111.9 L270.17,111.74 L270.42,111.56 L270.67,111.36 L270.92,111.15 L271.17,110.93 L271.42,110.7 L271.67,110.46 L271.92,110.22 L272.17,109.97 L272.42,109.71 L272.67,109.46 L272.92,109.2 L273.17,108.95 L273.42,108.69 L273.67,108.44 L273.92,108.19 L274.17,107.94 L274.42,107.7 L274.67,107.46 L274.92,107.23 L275.17,107 L275.42,106.77 L275.67,106.55 L275.92,106.34 L276.17,106.13 L276.42,105.93 L276.67,105.74 L276.92,105.55 L277.17,105.36 L277.42,105.19 L277.67,105.01 L277.92,104.85 L278.17,104.69 L278.42,104.53 L278.67,104.38 L278.91,104.24 L279.16,104.09 L279.41,103.96 L279.66,103.83 L279.91,103.7 L280.16,103.58 L280.41,103.46 L280.66,103.35 L280.91,103.24 L281.16,103.14 L281.41,103.04 L281.66,102.94 L281.91,102.85 L282.16,102.76 L282.41,102.67 L282.66,102.59 L282.91,102.51 L283.16,102.43 L283.41,102.35 L283.66,102.28 L283.91,102.21 L284.16,102.14 L284.41,102.08 L284.66,102.02 L284.91,101.96 L285.16,101.9 L285.41,101.84 L285.66,101.79 L285.91,101.74 L286.16,101.69 L286.41,101.64 L286.66,101.59 L286.91,101.55 L287.16,101.51 L287.41,101.46 L287.66,101.42 L287.91,101.38 L288.16,101.35 L288.41,101.31 L288.66,101.28 L288.91,101.24 L289.16,101.21 L289.41,101.18 L289.66,101.15 L289.91,101.12 L290.16,101.09 L290.41,101.06 L290.66,101.03 L290.91,101.01 L291.16,100.98 L291.41,100.96 L291.66,100.93 L291.91,100.91 L292.16,100.89 L292.41,100.87 L292.66,100.85 L292.91,100.83 L293.16,100.81 L293.41,100.79 L293.66,100.77 L293.91,100.75 L294.16,100.73 L294.41,100.72 L294.66,100.7 L294.91,100.68 L295.16,100.67 L295.41,100.65 L295.66,100.64 L295.91,100.62 L296.16,100.61 L296.41,100.6 L296.66,100.58 L296.91,100.57 L297.16,100.56 L297.41,100.55 L297.66,100.53 L297.91,100.52 L298.16,100.51 L298.41,100.5 L298.66,100.49 L298.91,100.48 L299.16,100.47 L299.41,100.46 L299.66,100.45 L299.91,100.44 L300.16,100.43 L300.41,100.42 L300.66,100.41 L300.91,100.4 L301.16,100.4 L301.41,100.39 L301.66,100.38 L301.91,100.37 L302.16,100.36 L302.41,100.36 L302.66,100.35 L302.91,100.34 L303.16,100.34 L303.41,100.33 L303.66,100.32 L303.91,100.31 L304.16,100.31 L304.4,100.3 L304.65,100.3 L304.9,100.29 L305.15,100.28 L305.4,100.28 L305.65,100.27 L305.9,100.27 L306.15,100.26 L306.4,100.25 L306.65,100.25 L306.9,100.24 L307.15,100.24 L307.4,100.23 L307.65,100.23 L307.9,100.22 L308.15,100.22 L308.4,100.21 L308.65,100.21 L308.9,100.2 L309.15,100.2 L309.4,100.19 L309.65,100.19 L309.9,100.19 L310.15,100.18 L310.4,100.18 L310.65,100.17 L310.9,100.17 L311.15,100.16 L311.4,100.16 L311.65,100.16 L311.9,100.15 L312.15,100.15 L312.4,100.15 L312.65,100.14 L312.9,100.14 L313.15,100.13 L313.4,100.13 L313.65,100.13 L313.9,100.12 L314.15,100.12 L314.4,100.12 L314.65,100.11 L314.9,100.11 L315.15,100.11 L315.4,100.1 L315.65,100.1 L315.9,100.1 L316.15,100.09 L316.4,100.09 L316.65,100.09 L316.9,100.08" fill="none" stroke="#de1fde" stroke-width="1.85" stroke-linejoin="round"/>
<ellipse cx="254.6" cy="31.9" rx="1.35" ry="1.9" fill="#f0a23c"/>
<ellipse cx="265.2" cy="43.89" rx="1.35" ry="1.9" fill="#f0a23c"/>
<ellipse cx="266.8" cy="57.74" rx="1.35" ry="1.9" fill="#f0a23c"/>
<ellipse cx="269.2" cy="71.06" rx="1.35" ry="1.9" fill="#f0a23c"/>
<ellipse cx="262.5" cy="86.15" rx="1.35" ry="1.9" fill="#f0a23c"/>
<ellipse cx="262.8" cy="100.05" rx="1.35" ry="1.9" fill="#f0a23c"/>
<rect x="128.8" y="18.3" width="22.9" height="12" fill="#fff" stroke="#111" stroke-width="1"/>
<text x="140.2" y="27.6" font-size="7.2" text-anchor="middle" fill="#111" style="font-family:'Liberation Serif', serif;stroke-width:0.1px">&#966; = 0&#176;</text>
<text x="26.7" y="27.8" font-size="12.3" fill="#111">(a)</text>
<line x1="55" y1="20.5" x2="128.5" y2="20.5" stroke="#555" stroke-width="0.7"/>
<path d="M53.8,20.5 l4,-1.5 v3z" fill="#222"/>
<text x="104.8" y="28.3" font-size="7" fill="#555" style="stroke:none" font-style="italic">&#916;H<tspan font-size="4.4" dy="1.5">R</tspan></text>
<text x="57.6" y="42.1" font-size="8.4" fill="#111" font-style="italic">H<tspan font-size="4.9" dy="1.5">R1</tspan></text>
<text x="93.4" y="42.1" font-size="8.4" fill="#111" font-style="italic">H<tspan font-size="4.9" dy="1.5">R2</tspan></text>
<rect x="290.3" y="18.3" width="27.1" height="11.4" fill="#fff" stroke="#111" stroke-width="1"/>
<text x="303.8" y="27.4" font-size="7.2" text-anchor="middle" fill="#111" style="font-family:'Liberation Serif', serif;stroke-width:0.1px">&#966; = 45&#176;</text>
<text x="190.4" y="27.8" font-size="12.3" fill="#111">(b)</text>
<text x="259.5" y="27.5" font-size="8.4" fill="#111" font-style="italic">H<tspan font-size="4.9" dy="1.5">R</tspan></text>
<text transform="translate(17.6,67.75) rotate(-90)" font-size="10.8" text-anchor="middle" fill="#111" textLength="83.3" lengthAdjust="spacingAndGlyphs"><tspan font-style="italic">dP/dH</tspan> (arb. units)</text>
<text transform="translate(183.6,67.4) rotate(-90)" font-size="10.8" text-anchor="middle" fill="#111" textLength="83.1" lengthAdjust="spacingAndGlyphs"><tspan font-style="italic">dP/dH</tspan> (arb. units)</text>
<text x="87.75" y="143.75" font-size="10.8" text-anchor="middle" fill="#111" textLength="91.5" lengthAdjust="spacingAndGlyphs"><tspan font-style="italic">Applied Field</tspan> (kOe)</text>
<text x="253.8" y="143.75" font-size="10.8" text-anchor="middle" fill="#111" textLength="91" lengthAdjust="spacingAndGlyphs"><tspan font-style="italic">Applied Field</tspan> (kOe)</text>
<path d="M24,251.5v-2.2M24,151v2.2M30.4,251.5v-1.2M30.4,151v1.2M36.8,251.5v-1.2M36.8,151v1.2M43.2,251.5v-1.2M43.2,151v1.2M49.6,251.5v-1.2M49.6,151v1.2M56,251.5v-2.2M56,151v2.2M62.38,251.5v-1.2M62.38,151v1.2M68.76,251.5v-1.2M68.76,151v1.2M75.14,251.5v-1.2M75.14,151v1.2M81.52,251.5v-1.2M81.52,151v1.2M87.9,251.5v-2.2M87.9,151v2.2M94.3,251.5v-1.2M94.3,151v1.2M100.7,251.5v-1.2M100.7,151v1.2M107.1,251.5v-1.2M107.1,151v1.2M113.5,251.5v-1.2M113.5,151v1.2M119.9,251.5v-2.2M119.9,151v2.2M126.28,251.5v-1.2M126.28,151v1.2M132.66,251.5v-1.2M132.66,151v1.2M139.04,251.5v-1.2M139.04,151v1.2M145.42,251.5v-1.2M145.42,151v1.2M24,155.4h2.2M151.8,155.4h-2.2M24,164.54h1.2M151.8,164.54h-1.2M24,173.68h2.2M151.8,173.68h-2.2M24,182.82h1.2M151.8,182.82h-1.2M24,191.96h2.2M151.8,191.96h-2.2M24,201.1h1.2M151.8,201.1h-1.2M24,210.24h2.2M151.8,210.24h-2.2M24,219.38h1.2M151.8,219.38h-1.2M24,228.52h2.2M151.8,228.52h-2.2M24,237.66h1.2M151.8,237.66h-1.2M24,246.8h2.2M151.8,246.8h-2.2" stroke="#333" stroke-width="0.6" fill="none"/>
<rect x="24" y="151" width="127.8" height="100.5" fill="none" stroke="#222" stroke-width="0.95"/>
<text x="24" y="260.8" font-size="9" text-anchor="middle" fill="#111">0.5</text>
<text x="56" y="260.8" font-size="9" text-anchor="middle" fill="#111">1.0</text>
<text x="87.9" y="260.8" font-size="9" text-anchor="middle" fill="#111">1.5</text>
<text x="119.9" y="260.8" font-size="9" text-anchor="middle" fill="#111">2.0</text>
<text x="151.8" y="260.8" font-size="9" text-anchor="middle" fill="#111">2.5</text>
<text x="22.6" y="158.6" font-size="9" text-anchor="end" fill="#111">16</text>
<text x="22.6" y="176.88" font-size="9" text-anchor="end" fill="#111">15</text>
<text x="22.6" y="195.16" font-size="9" text-anchor="end" fill="#111">14</text>
<text x="22.6" y="213.44" font-size="9" text-anchor="end" fill="#111">13</text>
<text x="22.6" y="231.72" font-size="9" text-anchor="end" fill="#111">12</text>
<text x="22.6" y="250" font-size="9" text-anchor="end" fill="#111">11</text>
<path d="M189.6,251.5v-2.2M189.6,151v2.2M195.98,251.5v-1.2M195.98,151v1.2M202.36,251.5v-1.2M202.36,151v1.2M208.74,251.5v-1.2M208.74,151v1.2M215.12,251.5v-1.2M215.12,151v1.2M221.5,251.5v-2.2M221.5,151v2.2M227.88,251.5v-1.2M227.88,151v1.2M234.26,251.5v-1.2M234.26,151v1.2M240.64,251.5v-1.2M240.64,151v1.2M247.02,251.5v-1.2M247.02,151v1.2M253.4,251.5v-2.2M253.4,151v2.2M259.78,251.5v-1.2M259.78,151v1.2M266.16,251.5v-1.2M266.16,151v1.2M272.54,251.5v-1.2M272.54,151v1.2M278.92,251.5v-1.2M278.92,151v1.2M285.3,251.5v-2.2M285.3,151v2.2M291.68,251.5v-1.2M291.68,151v1.2M298.06,251.5v-1.2M298.06,151v1.2M304.44,251.5v-1.2M304.44,151v1.2M310.82,251.5v-1.2M310.82,151v1.2M189.6,155.4h2.2M317.2,155.4h-2.2M189.6,164.54h1.2M317.2,164.54h-1.2M189.6,173.68h2.2M317.2,173.68h-2.2M189.6,182.82h1.2M317.2,182.82h-1.2M189.6,191.96h2.2M317.2,191.96h-2.2M189.6,201.1h1.2M317.2,201.1h-1.2M189.6,210.24h2.2M317.2,210.24h-2.2M189.6,219.38h1.2M317.2,219.38h-1.2M189.6,228.52h2.2M317.2,228.52h-2.2M189.6,237.66h1.2M317.2,237.66h-1.2M189.6,246.8h2.2M317.2,246.8h-2.2" stroke="#333" stroke-width="0.6" fill="none"/>
<rect x="189.6" y="151" width="127.6" height="100.5" fill="none" stroke="#222" stroke-width="0.95"/>
<text x="189.6" y="260.8" font-size="9" text-anchor="middle" fill="#111">3.0</text>
<text x="221.5" y="260.8" font-size="9" text-anchor="middle" fill="#111">3.5</text>
<text x="253.4" y="260.8" font-size="9" text-anchor="middle" fill="#111">4.0</text>
<text x="285.3" y="260.8" font-size="9" text-anchor="middle" fill="#111">4.5</text>
<text x="317.2" y="260.8" font-size="9" text-anchor="middle" fill="#111">5.0</text>
<text x="188.2" y="158.6" font-size="9" text-anchor="end" fill="#111">16</text>
<text x="188.2" y="176.88" font-size="9" text-anchor="end" fill="#111">15</text>
<text x="188.2" y="195.16" font-size="9" text-anchor="end" fill="#111">14</text>
<text x="188.2" y="213.44" font-size="9" text-anchor="end" fill="#111">13</text>
<text x="188.2" y="231.72" font-size="9" text-anchor="end" fill="#111">12</text>
<text x="188.2" y="250" font-size="9" text-anchor="end" fill="#111">11</text>
<polyline points="41.2,246.8 51,237.66 60.3,228.52 69.2,219.38 77.2,210.24 86.4,201.1 98,191.96 107,182.82 115.9,173.68 124.9,164.54 134.7,155.4" fill="none" stroke="#111" stroke-width="1.1"/>
<rect x="39.7" y="245.3" width="3" height="3" fill="#111"/>
<rect x="49.5" y="236.16" width="3" height="3" fill="#111"/>
<rect x="58.8" y="227.02" width="3" height="3" fill="#111"/>
<rect x="67.7" y="217.88" width="3" height="3" fill="#111"/>
<rect x="75.7" y="208.74" width="3" height="3" fill="#111"/>
<rect x="84.9" y="199.6" width="3" height="3" fill="#111"/>
<rect x="96.5" y="190.46" width="3" height="3" fill="#111"/>
<rect x="105.5" y="181.32" width="3" height="3" fill="#111"/>
<rect x="114.4" y="172.18" width="3" height="3" fill="#111"/>
<rect x="123.4" y="163.04" width="3" height="3" fill="#111"/>
<rect x="133.2" y="153.9" width="3" height="3" fill="#111"/>
<polyline points="39.6,246.8 49.4,237.66 58.7,228.52 67.6,219.38 75.6,210.24 84.8,201.1 96.4,191.96 105.4,182.82 114.3,173.68 123.3,164.54 133.1,155.4" fill="none" stroke="#e5121a" stroke-width="1.1"/>
<rect x="38.1" y="245.3" width="3" height="3" fill="#e5121a"/>
<rect x="47.9" y="236.16" width="3" height="3" fill="#e5121a"/>
<rect x="57.2" y="227.02" width="3" height="3" fill="#e5121a"/>
<rect x="66.1" y="217.88" width="3" height="3" fill="#e5121a"/>
<rect x="74.1" y="208.74" width="3" height="3" fill="#e5121a"/>
<rect x="83.3" y="199.6" width="3" height="3" fill="#e5121a"/>
<rect x="94.9" y="190.46" width="3" height="3" fill="#e5121a"/>
<rect x="103.9" y="181.32" width="3" height="3" fill="#e5121a"/>
<rect x="112.8" y="172.18" width="3" height="3" fill="#e5121a"/>
<rect x="121.8" y="163.04" width="3" height="3" fill="#e5121a"/>
<rect x="131.6" y="153.9" width="3" height="3" fill="#e5121a"/>
<polyline points="32,246.8 38.6,237.66 46.9,228.52 55.7,219.38 63.6,210.24 71.9,201.1 82.4,191.96 90.7,182.82 100.1,173.68 109.4,164.54 119.9,155.4" fill="none" stroke="#2fd62f" stroke-width="1.1"/>
<rect x="30.5" y="245.3" width="3" height="3" fill="#2fd62f"/>
<rect x="37.1" y="236.16" width="3" height="3" fill="#2fd62f"/>
<rect x="45.4" y="227.02" width="3" height="3" fill="#2fd62f"/>
<rect x="54.2" y="217.88" width="3" height="3" fill="#2fd62f"/>
<rect x="62.1" y="208.74" width="3" height="3" fill="#2fd62f"/>
<rect x="70.4" y="199.6" width="3" height="3" fill="#2fd62f"/>
<rect x="80.9" y="190.46" width="3" height="3" fill="#2fd62f"/>
<rect x="89.2" y="181.32" width="3" height="3" fill="#2fd62f"/>
<rect x="98.6" y="172.18" width="3" height="3" fill="#2fd62f"/>
<rect x="107.9" y="163.04" width="3" height="3" fill="#2fd62f"/>
<rect x="118.4" y="153.9" width="3" height="3" fill="#2fd62f"/>
<polyline points="31,246.8 37.6,237.66 45.9,228.52 54.7,219.38 62.6,210.24 70.9,201.1 81.4,191.96 89.7,182.82 99.1,173.68 108.4,164.54 118.9,155.4" fill="none" stroke="#1212c4" stroke-width="1.1"/>
<rect x="29.5" y="245.3" width="3" height="3" fill="#1212c4"/>
<rect x="36.1" y="236.16" width="3" height="3" fill="#1212c4"/>
<rect x="44.4" y="227.02" width="3" height="3" fill="#1212c4"/>
<rect x="53.2" y="217.88" width="3" height="3" fill="#1212c4"/>
<rect x="61.1" y="208.74" width="3" height="3" fill="#1212c4"/>
<rect x="69.4" y="199.6" width="3" height="3" fill="#1212c4"/>
<rect x="79.9" y="190.46" width="3" height="3" fill="#1212c4"/>
<rect x="88.2" y="181.32" width="3" height="3" fill="#1212c4"/>
<rect x="97.6" y="172.18" width="3" height="3" fill="#1212c4"/>
<rect x="106.9" y="163.04" width="3" height="3" fill="#1212c4"/>
<rect x="117.4" y="153.9" width="3" height="3" fill="#1212c4"/>
<path d="M86.9,184.6 l0.9,2 2.1,0.2 -1.6,1.4 0.5,2.1 -1.9,-1.1 -1.9,1.1 0.5,-2.1 -1.6,-1.4 2.1,-0.2z" fill="#f5d21c" stroke="#c08a00" stroke-width="0.4"/>
<text x="26.6" y="165.6" font-size="12.4" fill="#111">(c)</text>
<text x="73.4" y="225.6" font-size="8.4" fill="#333">H<tspan font-size="5.2" dy="1.6">R1</tspan></text>
<polyline points="203.8,246.8 215.6,237.66 225.9,228.52 236,219.38 243.3,210.24 253.6,201.1 267,191.96 276.4,182.82 285.8,173.68 297.6,164.54 311.2,155.4" fill="none" stroke="#111" stroke-width="1.1"/>
<rect x="202.3" y="245.3" width="3" height="3" fill="#111"/>
<rect x="214.1" y="236.16" width="3" height="3" fill="#111"/>
<rect x="224.4" y="227.02" width="3" height="3" fill="#111"/>
<rect x="234.5" y="217.88" width="3" height="3" fill="#111"/>
<rect x="241.8" y="208.74" width="3" height="3" fill="#111"/>
<rect x="252.1" y="199.6" width="3" height="3" fill="#111"/>
<rect x="265.5" y="190.46" width="3" height="3" fill="#111"/>
<rect x="274.9" y="181.32" width="3" height="3" fill="#111"/>
<rect x="284.3" y="172.18" width="3" height="3" fill="#111"/>
<rect x="296.1" y="163.04" width="3" height="3" fill="#111"/>
<rect x="309.7" y="153.9" width="3" height="3" fill="#111"/>
<polyline points="199.2,246.8 208.3,237.66 216.2,228.52 226.4,219.38 235.2,210.24 243.6,201.1 256.2,191.96 267.1,182.82 276.6,173.68 287.4,164.54 301.3,155.4" fill="none" stroke="#e5121a" stroke-width="1.1"/>
<rect x="197.7" y="245.3" width="3" height="3" fill="#e5121a"/>
<rect x="206.8" y="236.16" width="3" height="3" fill="#e5121a"/>
<rect x="214.7" y="227.02" width="3" height="3" fill="#e5121a"/>
<rect x="224.9" y="217.88" width="3" height="3" fill="#e5121a"/>
<rect x="233.7" y="208.74" width="3" height="3" fill="#e5121a"/>
<rect x="242.1" y="199.6" width="3" height="3" fill="#e5121a"/>
<rect x="254.7" y="190.46" width="3" height="3" fill="#e5121a"/>
<rect x="265.6" y="181.32" width="3" height="3" fill="#e5121a"/>
<rect x="275.1" y="172.18" width="3" height="3" fill="#e5121a"/>
<rect x="285.9" y="163.04" width="3" height="3" fill="#e5121a"/>
<rect x="299.8" y="153.9" width="3" height="3" fill="#e5121a"/>
<polyline points="198.9,246.8 208,237.66 215.8,228.52 225.9,219.38 234.6,210.24 242.8,201.1 254.6,191.96 264.5,182.82 272.4,173.68 282.8,164.54 296.6,155.4" fill="none" stroke="#2fd62f" stroke-width="1.1"/>
<rect x="197.4" y="245.3" width="3" height="3" fill="#2fd62f"/>
<rect x="206.5" y="236.16" width="3" height="3" fill="#2fd62f"/>
<rect x="214.3" y="227.02" width="3" height="3" fill="#2fd62f"/>
<rect x="224.4" y="217.88" width="3" height="3" fill="#2fd62f"/>
<rect x="233.1" y="208.74" width="3" height="3" fill="#2fd62f"/>
<rect x="241.3" y="199.6" width="3" height="3" fill="#2fd62f"/>
<rect x="253.1" y="190.46" width="3" height="3" fill="#2fd62f"/>
<rect x="263" y="181.32" width="3" height="3" fill="#2fd62f"/>
<rect x="270.9" y="172.18" width="3" height="3" fill="#2fd62f"/>
<rect x="281.3" y="163.04" width="3" height="3" fill="#2fd62f"/>
<rect x="295.1" y="153.9" width="3" height="3" fill="#2fd62f"/>
<polyline points="195.9,246.8 203.8,237.66 212.7,228.52 220.7,219.38 229,210.24 237.4,201.1 248.1,191.96 257.2,182.82 267.5,173.68 277.9,164.54 291.8,155.4" fill="none" stroke="#1212c4" stroke-width="1.1"/>
<rect x="194.4" y="245.3" width="3" height="3" fill="#1212c4"/>
<rect x="202.3" y="236.16" width="3" height="3" fill="#1212c4"/>
<rect x="211.2" y="227.02" width="3" height="3" fill="#1212c4"/>
<rect x="219.2" y="217.88" width="3" height="3" fill="#1212c4"/>
<rect x="227.5" y="208.74" width="3" height="3" fill="#1212c4"/>
<rect x="235.9" y="199.6" width="3" height="3" fill="#1212c4"/>
<rect x="246.6" y="190.46" width="3" height="3" fill="#1212c4"/>
<rect x="255.7" y="181.32" width="3" height="3" fill="#1212c4"/>
<rect x="266" y="172.18" width="3" height="3" fill="#1212c4"/>
<rect x="276.4" y="163.04" width="3" height="3" fill="#1212c4"/>
<rect x="290.3" y="153.9" width="3" height="3" fill="#1212c4"/>
<text x="190.8" y="165.6" font-size="12.4" fill="#111">(d)</text>
<text x="240" y="231.4" font-size="8.4" fill="#333">H<tspan font-size="5.2" dy="1.6">R2</tspan></text>
<rect x="107.9" y="201.3" width="42.6" height="48" fill="#000"/>
<rect x="106.5" y="200.1" width="42.6" height="48" fill="#fff" stroke="#888" stroke-width="0.5"/>
<text x="124.9" y="207.1" font-size="7.2" text-anchor="middle" fill="#111">t<tspan font-size="4.6" dy="1.6">Cu</tspan></text>
<line x1="107.2" y1="216.1" x2="124.3" y2="216.1" stroke="#111" stroke-width="1.1"/>
<rect x="115" y="214.6" width="3" height="3" fill="#111"/>
<text x="126.1" y="218.8" font-size="7.5" fill="#111">0 nm</text>
<line x1="107.2" y1="225.4" x2="124.3" y2="225.4" stroke="#e5121a" stroke-width="1.1"/>
<rect x="115" y="223.9" width="3" height="3" fill="#e5121a"/>
<text x="126.1" y="228.1" font-size="7.5" fill="#111">2 nm</text>
<line x1="107.2" y1="234.7" x2="124.3" y2="234.7" stroke="#2fd62f" stroke-width="1.1"/>
<rect x="115" y="233.2" width="3" height="3" fill="#2fd62f"/>
<text x="126.1" y="237.4" font-size="7.5" fill="#111">20 nm</text>
<line x1="107.2" y1="244" x2="124.3" y2="244" stroke="#1212c4" stroke-width="1.1"/>
<rect x="115" y="242.5" width="3" height="3" fill="#1212c4"/>
<text x="126.1" y="246.7" font-size="7.5" fill="#111">40 nm</text>
<rect x="273.2" y="200.8" width="42.6" height="48" fill="#000"/>
<rect x="271.8" y="199.6" width="42.6" height="48" fill="#fff" stroke="#888" stroke-width="0.5"/>
<text x="290.2" y="206.6" font-size="7.2" text-anchor="middle" fill="#111">t<tspan font-size="4.6" dy="1.6">Cu</tspan></text>
<line x1="272.5" y1="215.6" x2="289.6" y2="215.6" stroke="#111" stroke-width="0.8" opacity="0.6"/>
<circle cx="281.8" cy="215.6" r="1.45" fill="#111"/>
<text x="291.4" y="218.3" font-size="7.5" fill="#111">0 nm</text>
<line x1="272.5" y1="224.9" x2="289.6" y2="224.9" stroke="#e5121a" stroke-width="0.8" opacity="0.6"/>
<circle cx="281.8" cy="224.9" r="1.45" fill="#e5121a"/>
<text x="291.4" y="227.6" font-size="7.5" fill="#111">2 nm</text>
<line x1="272.5" y1="234.2" x2="289.6" y2="234.2" stroke="#2fd62f" stroke-width="0.8" opacity="0.6"/>
<circle cx="281.8" cy="234.2" r="1.45" fill="#2fd62f"/>
<text x="291.4" y="236.9" font-size="7.5" fill="#111">20 nm</text>
<line x1="272.5" y1="243.5" x2="289.6" y2="243.5" stroke="#1212c4" stroke-width="0.8" opacity="0.6"/>
<circle cx="281.8" cy="243.5" r="1.45" fill="#1212c4"/>
<text x="291.4" y="246.2" font-size="7.5" fill="#111">40 nm</text>
<text transform="translate(8.4,200.6) rotate(-90)" font-size="10.6" text-anchor="middle" fill="#111" textLength="83.5" lengthAdjust="spacingAndGlyphs"><tspan font-style="italic">Frequency</tspan> (GHz)</text>
<text transform="translate(173.5,200.2) rotate(-90)" font-size="10.6" text-anchor="middle" fill="#111" textLength="83.5" lengthAdjust="spacingAndGlyphs"><tspan font-style="italic">Frequency</tspan> (GHz)</text>
<text x="87.7" y="276.6" font-size="10.8" text-anchor="middle" fill="#111" textLength="91" lengthAdjust="spacingAndGlyphs"><tspan font-style="italic">Applied Field</tspan> (kOe)</text>
<text x="252.7" y="276.6" font-size="10.8" text-anchor="middle" fill="#111" textLength="91" lengthAdjust="spacingAndGlyphs"><tspan font-style="italic">Applied Field</tspan> (kOe)</text>
<text x="323.2" y="27.8" font-size="12.4" fill="#111">(e)</text>
<defs><linearGradient id="jetv" x1="0" y1="0" x2="0" y2="1"><stop offset="0" stop-color="#7f0000"/><stop offset="0.05" stop-color="#b20000"/><stop offset="0.1" stop-color="#e50000"/><stop offset="0.15" stop-color="#ff1900"/><stop offset="0.2" stop-color="#ff4c00"/><stop offset="0.25" stop-color="#ff7f00"/><stop offset="0.3" stop-color="#ffb200"/><stop offset="0.35" stop-color="#ffe500"/><stop offset="0.4" stop-color="#e5ff19"/><stop offset="0.45" stop-color="#b2ff4c"/><stop offset="0.5" stop-color="#7fff7f"/><stop offset="0.55" stop-color="#4cffb2"/><stop offset="0.6" stop-color="#19ffe5"/><stop offset="0.65" stop-color="#00e5ff"/><stop offset="0.7" stop-color="#00b2ff"/><stop offset="0.75" stop-color="#007fff"/><stop offset="0.8" stop-color="#004cff"/><stop offset="0.85" stop-color="#0019ff"/><stop offset="0.9" stop-color="#0000e5"/><stop offset="0.95" stop-color="#0000b2"/><stop offset="1" stop-color="#00007f"/></linearGradient>
<linearGradient id="hsA" x1="0" y1="0" x2="1" y2="0"><stop offset="0" stop-color="#0023ff"/><stop offset="0.12" stop-color="#0060ff"/><stop offset="0.2" stop-color="#00c6ff"/><stop offset="0.26" stop-color="#2dffd1"/><stop offset="0.3" stop-color="#b2ff4c"/><stop offset="0.34" stop-color="#ffdb00"/><stop offset="0.37" stop-color="#ff6000"/><stop offset="0.4" stop-color="#ff0500"/><stop offset="0.5" stop-color="#d10000"/><stop offset="0.6" stop-color="#ff0500"/><stop offset="0.63" stop-color="#ff6000"/><stop offset="0.66" stop-color="#ffdb00"/><stop offset="0.7" stop-color="#b2ff4c"/><stop offset="0.74" stop-color="#2dffd1"/><stop offset="0.8" stop-color="#00c6ff"/><stop offset="0.88" stop-color="#0060ff"/><stop offset="1" stop-color="#0023ff"/></linearGradient>
<filter id="bl" x="-20%" y="-20%" width="140%" height="140%"><feGaussianBlur stdDeviation="0.65"/></filter><filter id="bl2" x="-30%" y="-30%" width="160%" height="160%"><feGaussianBlur stdDeviation="1.2"/></filter>
</defs>
<rect x="477.6" y="15.5" width="7.1" height="32.9" fill="url(#jetv)" stroke="#111" stroke-width="0.6"/>
<text x="481.2" y="11" font-size="6.4" text-anchor="middle" fill="#111">Power</text>
<text x="489.6" y="18.6" font-size="7" fill="#111">1</text>
<text x="489.6" y="51" font-size="7" fill="#111">0</text>
<clipPath id="hm1"><rect x="358.2" y="15" width="106.3" height="101.5"/></clipPath>
<g clip-path="url(#hm1)">
<rect x="358.2" y="15" width="106.3" height="101.5" fill="#08007c"/>
<clipPath id="sc1_0"><rect x="342.79" y="83.96" width="30.83" height="14.32" rx="7.16" ry="7.16"/></clipPath>
<g clip-path="url(#sc1_0)">
<rect x="342.79" y="83.96" width="30.83" height="14.32" rx="7.16" ry="7.16" fill="url(#hsA)"/>
<polygon points="353.6,82.96 348,82.96 351,91.12" fill="#f0f014" opacity="0.9" filter="url(#bl)"/>
<polygon points="353.6,99.29 348,99.29 351,91.12" fill="#f0f014" opacity="0.9" filter="url(#bl)"/>
<ellipse cx="344.99" cy="91.12" rx="3.6" ry="3.4" fill="#0055fa" filter="url(#bl)"/>
<ellipse cx="345.99" cy="91.12" rx="1.3" ry="2.0" fill="#0028d7" filter="url(#bl)"/>
<polygon points="362.8,82.96 368.4,82.96 365.4,91.12" fill="#f0f014" opacity="0.9" filter="url(#bl)"/>
<polygon points="362.8,99.29 368.4,99.29 365.4,91.12" fill="#f0f014" opacity="0.9" filter="url(#bl)"/>
<ellipse cx="371.41" cy="91.12" rx="3.6" ry="3.4" fill="#0055fa" filter="url(#bl)"/>
<ellipse cx="370.41" cy="91.12" rx="1.3" ry="2.0" fill="#0028d7" filter="url(#bl)"/>
<polygon points="351,91.12 353.4,82.96 363,82.96 365.4,91.12 363,99.29 353.4,99.29" fill="#fa2800" opacity="1" filter="url(#bl)"/>
<rect x="357" y="86.46" width="2.4" height="9.32" fill="#a00000" filter="url(#bl)"/>
</g>
<clipPath id="sc1_1"><rect x="395.94" y="83.96" width="30.83" height="14.32" rx="7.16" ry="7.16"/></clipPath>
<g clip-path="url(#sc1_1)">
<rect x="395.94" y="83.96" width="30.83" height="14.32" rx="7.16" ry="7.16" fill="url(#hsA)"/>
<polygon points="406.75,82.96 401.15,82.96 404.15,91.12" fill="#f0f014" opacity="0.9" filter="url(#bl)"/>
<polygon points="406.75,99.29 401.15,99.29 404.15,91.12" fill="#f0f014" opacity="0.9" filter="url(#bl)"/>
<ellipse cx="398.14" cy="91.12" rx="3.6" ry="3.4" fill="#0055fa" filter="url(#bl)"/>
<ellipse cx="399.14" cy="91.12" rx="1.3" ry="2.0" fill="#0028d7" filter="url(#bl)"/>
<polygon points="415.95,82.96 421.55,82.96 418.55,91.12" fill="#f0f014" opacity="0.9" filter="url(#bl)"/>
<polygon points="415.95,99.29 421.55,99.29 418.55,91.12" fill="#f0f014" opacity="0.9" filter="url(#bl)"/>
<ellipse cx="424.56" cy="91.12" rx="3.6" ry="3.4" fill="#0055fa" filter="url(#bl)"/>
<ellipse cx="423.56" cy="91.12" rx="1.3" ry="2.0" fill="#0028d7" filter="url(#bl)"/>
<polygon points="404.15,91.12 406.55,82.96 416.15,82.96 418.55,91.12 416.15,99.29 406.55,99.29" fill="#fa2800" opacity="1" filter="url(#bl)"/>
<rect x="410.15" y="86.46" width="2.4" height="9.32" fill="#a00000" filter="url(#bl)"/>
</g>
<clipPath id="sc1_2"><rect x="449.09" y="83.96" width="30.83" height="14.32" rx="7.16" ry="7.16"/></clipPath>
<g clip-path="url(#sc1_2)">
<rect x="449.09" y="83.96" width="30.83" height="14.32" rx="7.16" ry="7.16" fill="url(#hsA)"/>
<polygon points="459.9,82.96 454.3,82.96 457.3,91.12" fill="#f0f014" opacity="0.9" filter="url(#bl)"/>
<polygon points="459.9,99.29 454.3,99.29 457.3,91.12" fill="#f0f014" opacity="0.9" filter="url(#bl)"/>
<ellipse cx="451.29" cy="91.12" rx="3.6" ry="3.4" fill="#0055fa" filter="url(#bl)"/>
<ellipse cx="452.29" cy="91.12" rx="1.3" ry="2.0" fill="#0028d7" filter="url(#bl)"/>
<polygon points="469.1,82.96 474.7,82.96 471.7,91.12" fill="#f0f014" opacity="0.9" filter="url(#bl)"/>
<polygon points="469.1,99.29 474.7,99.29 471.7,91.12" fill="#f0f014" opacity="0.9" filter="url(#bl)"/>
<ellipse cx="477.71" cy="91.12" rx="3.6" ry="3.4" fill="#0055fa" filter="url(#bl)"/>
<ellipse cx="476.71" cy="91.12" rx="1.3" ry="2.0" fill="#0028d7" filter="url(#bl)"/>
<polygon points="457.3,91.12 459.7,82.96 469.3,82.96 471.7,91.12 469.3,99.29 459.7,99.29" fill="#fa2800" opacity="1" filter="url(#bl)"/>
<rect x="463.3" y="86.46" width="2.4" height="9.32" fill="#a00000" filter="url(#bl)"/>
</g>
<clipPath id="sc1_3"><rect x="342.79" y="33.21" width="30.83" height="14.32" rx="7.16" ry="7.16"/></clipPath>
<g clip-path="url(#sc1_3)">
<rect x="342.79" y="33.21" width="30.83" height="14.32" rx="7.16" ry="7.16" fill="url(#hsA)"/>
<polygon points="353.6,32.21 348,32.21 351,40.37" fill="#f0f014" opacity="0.9" filter="url(#bl)"/>
<polygon points="353.6,48.54 348,48.54 351,40.37" fill="#f0f014" opacity="0.9" filter="url(#bl)"/>
<ellipse cx="344.99" cy="40.37" rx="3.6" ry="3.4" fill="#0055fa" filter="url(#bl)"/>
<ellipse cx="345.99" cy="40.37" rx="1.3" ry="2.0" fill="#0028d7" filter="url(#bl)"/>
<polygon points="362.8,32.21 368.4,32.21 365.4,40.37" fill="#f0f014" opacity="0.9" filter="url(#bl)"/>
<polygon points="362.8,48.54 368.4,48.54 365.4,40.37" fill="#f0f014" opacity="0.9" filter="url(#bl)"/>
<ellipse cx="371.41" cy="40.37" rx="3.6" ry="3.4" fill="#0055fa" filter="url(#bl)"/>
<ellipse cx="370.41" cy="40.37" rx="1.3" ry="2.0" fill="#0028d7" filter="url(#bl)"/>
<polygon points="351,40.37 353.4,32.21 363,32.21 365.4,40.37 363,48.54 353.4,48.54" fill="#fa2800" opacity="1" filter="url(#bl)"/>
<rect x="357" y="35.71" width="2.4" height="9.32" fill="#a00000" filter="url(#bl)"/>
</g>
<clipPath id="sc1_4"><rect x="395.94" y="33.21" width="30.83" height="14.32" rx="7.16" ry="7.16"/></clipPath>
<g clip-path="url(#sc1_4)">
<rect x="395.94" y="33.21" width="30.83" height="14.32" rx="7.16" ry="7.16" fill="url(#hsA)"/>
<polygon points="406.75,32.21 401.15,32.21 404.15,40.37" fill="#f0f014" opacity="0.9" filter="url(#bl)"/>
<polygon points="406.75,48.54 401.15,48.54 404.15,40.37" fill="#f0f014" opacity="0.9" filter="url(#bl)"/>
<ellipse cx="398.14" cy="40.37" rx="3.6" ry="3.4" fill="#0055fa" filter="url(#bl)"/>
<ellipse cx="399.14" cy="40.37" rx="1.3" ry="2.0" fill="#0028d7" filter="url(#bl)"/>
<polygon points="415.95,32.21 421.55,32.21 418.55,40.37" fill="#f0f014" opacity="0.9" filter="url(#bl)"/>
<polygon points="415.95,48.54 421.55,48.54 418.55,40.37" fill="#f0f014" opacity="0.9" filter="url(#bl)"/>
<ellipse cx="424.56" cy="40.37" rx="3.6" ry="3.4" fill="#0055fa" filter="url(#bl)"/>
<ellipse cx="423.56" cy="40.37" rx="1.3" ry="2.0" fill="#0028d7" filter="url(#bl)"/>
<polygon points="404.15,40.37 406.55,32.21 416.15,32.21 418.55,40.37 416.15,48.54 406.55,48.54" fill="#fa2800" opacity="1" filter="url(#bl)"/>
<rect x="410.15" y="35.71" width="2.4" height="9.32" fill="#a00000" filter="url(#bl)"/>
</g>
<clipPath id="sc1_5"><rect x="449.09" y="33.21" width="30.83" height="14.32" rx="7.16" ry="7.16"/></clipPath>
<g clip-path="url(#sc1_5)">
<rect x="449.09" y="33.21" width="30.83" height="14.32" rx="7.16" ry="7.16" fill="url(#hsA)"/>
<polygon points="459.9,32.21 454.3,32.21 457.3,40.37" fill="#f0f014" opacity="0.9" filter="url(#bl)"/>
<polygon points="459.9,48.54 454.3,48.54 457.3,40.37" fill="#f0f014" opacity="0.9" filter="url(#bl)"/>
<ellipse cx="451.29" cy="40.37" rx="3.6" ry="3.4" fill="#0055fa" filter="url(#bl)"/>
<ellipse cx="452.29" cy="40.37" rx="1.3" ry="2.0" fill="#0028d7" filter="url(#bl)"/>
<polygon points="469.1,32.21 474.7,32.21 471.7,40.37" fill="#f0f014" opacity="0.9" filter="url(#bl)"/>
<polygon points="469.1,48.54 474.7,48.54 471.7,40.37" fill="#f0f014" opacity="0.9" filter="url(#bl)"/>
<ellipse cx="477.71" cy="40.37" rx="3.6" ry="3.4" fill="#0055fa" filter="url(#bl)"/>
<ellipse cx="476.71" cy="40.37" rx="1.3" ry="2.0" fill="#0028d7" filter="url(#bl)"/>
<polygon points="457.3,40.37 459.7,32.21 469.3,32.21 471.7,40.37 469.3,48.54 459.7,48.54" fill="#fa2800" opacity="1" filter="url(#bl)"/>
<rect x="463.3" y="35.71" width="2.4" height="9.32" fill="#a00000" filter="url(#bl)"/>
</g>
<clipPath id="sc1_6"><rect x="376.86" y="101.78" width="15.83" height="29.43" rx="5.7" ry="5.7"/></clipPath>
<g clip-path="url(#sc1_6)">
<rect x="376.86" y="101.78" width="15.83" height="29.43" rx="5.7" ry="5.7" fill="#0c30e8"/>
<ellipse cx="387.77" cy="107.78" rx="3" ry="5" fill="#286eff" filter="url(#bl)" opacity="0.8"/>
<ellipse cx="381.77" cy="121.5" rx="3" ry="6" fill="#0a1ec8" filter="url(#bl)" opacity="0.6"/>
</g>
<clipPath id="sc1_7"><rect x="430.01" y="101.78" width="15.83" height="29.43" rx="5.7" ry="5.7"/></clipPath>
<g clip-path="url(#sc1_7)">
<rect x="430.01" y="101.78" width="15.83" height="29.43" rx="5.7" ry="5.7" fill="#0c30e8"/>
<ellipse cx="440.93" cy="107.78" rx="3" ry="5" fill="#286eff" filter="url(#bl)" opacity="0.8"/>
<ellipse cx="434.93" cy="121.5" rx="3" ry="6" fill="#0a1ec8" filter="url(#bl)" opacity="0.6"/>
</g>
<clipPath id="sc1_8"><rect x="376.86" y="51.03" width="15.83" height="29.43" rx="5.7" ry="5.7"/></clipPath>
<g clip-path="url(#sc1_8)">
<rect x="376.86" y="51.03" width="15.83" height="29.43" rx="5.7" ry="5.7" fill="#0c30e8"/>
<ellipse cx="387.77" cy="57.03" rx="3" ry="5" fill="#286eff" filter="url(#bl)" opacity="0.8"/>
<ellipse cx="381.77" cy="70.75" rx="3" ry="6" fill="#0a1ec8" filter="url(#bl)" opacity="0.6"/>
</g>
<clipPath id="sc1_9"><rect x="430.01" y="51.03" width="15.83" height="29.43" rx="5.7" ry="5.7"/></clipPath>
<g clip-path="url(#sc1_9)">
<rect x="430.01" y="51.03" width="15.83" height="29.43" rx="5.7" ry="5.7" fill="#0c30e8"/>
<ellipse cx="440.93" cy="57.03" rx="3" ry="5" fill="#286eff" filter="url(#bl)" opacity="0.8"/>
<ellipse cx="434.93" cy="70.75" rx="3" ry="6" fill="#0a1ec8" filter="url(#bl)" opacity="0.6"/>
</g>
<clipPath id="sc1_10"><rect x="376.86" y="0.28" width="15.83" height="29.43" rx="5.7" ry="5.7"/></clipPath>
<g clip-path="url(#sc1_10)">
<rect x="376.86" y="0.28" width="15.83" height="29.43" rx="5.7" ry="5.7" fill="#0c30e8"/>
<ellipse cx="387.77" cy="6.28" rx="3" ry="5" fill="#286eff" filter="url(#bl)" opacity="0.8"/>
<ellipse cx="381.77" cy="20" rx="3" ry="6" fill="#0a1ec8" filter="url(#bl)" opacity="0.6"/>
</g>
<clipPath id="sc1_11"><rect x="430.01" y="0.28" width="15.83" height="29.43" rx="5.7" ry="5.7"/></clipPath>
<g clip-path="url(#sc1_11)">
<rect x="430.01" y="0.28" width="15.83" height="29.43" rx="5.7" ry="5.7" fill="#0c30e8"/>
<ellipse cx="440.93" cy="6.28" rx="3" ry="5" fill="#286eff" filter="url(#bl)" opacity="0.8"/>
<ellipse cx="434.93" cy="20" rx="3" ry="6" fill="#0a1ec8" filter="url(#bl)" opacity="0.6"/>
</g>
<rect x="342.79" y="83.96" width="30.83" height="14.32" rx="7.16" ry="7.16" fill="none" stroke="#ece8ff" stroke-width="1.5" stroke-dasharray="1.4 1.15"/>
<rect x="395.94" y="83.96" width="30.83" height="14.32" rx="7.16" ry="7.16" fill="none" stroke="#ece8ff" stroke-width="1.5" stroke-dasharray="1.4 1.15"/>
<rect x="449.09" y="83.96" width="30.83" height="14.32" rx="7.16" ry="7.16" fill="none" stroke="#ece8ff" stroke-width="1.5" stroke-dasharray="1.4 1.15"/>
<rect x="342.79" y="33.21" width="30.83" height="14.32" rx="7.16" ry="7.16" fill="none" stroke="#ece8ff" stroke-width="1.5" stroke-dasharray="1.4 1.15"/>
<rect x="395.94" y="33.21" width="30.83" height="14.32" rx="7.16" ry="7.16" fill="none" stroke="#ece8ff" stroke-width="1.5" stroke-dasharray="1.4 1.15"/>
<rect x="449.09" y="33.21" width="30.83" height="14.32" rx="7.16" ry="7.16" fill="none" stroke="#ece8ff" stroke-width="1.5" stroke-dasharray="1.4 1.15"/>
<rect x="376.86" y="101.78" width="15.83" height="29.43" rx="5.7" ry="5.7" fill="none" stroke="#ece8ff" stroke-width="1.5" stroke-dasharray="1.4 1.15"/>
<rect x="430.01" y="101.78" width="15.83" height="29.43" rx="5.7" ry="5.7" fill="none" stroke="#ece8ff" stroke-width="1.5" stroke-dasharray="1.4 1.15"/>
<rect x="376.86" y="51.03" width="15.83" height="29.43" rx="5.7" ry="5.7" fill="none" stroke="#ece8ff" stroke-width="1.5" stroke-dasharray="1.4 1.15"/>
<rect x="430.01" y="51.03" width="15.83" height="29.43" rx="5.7" ry="5.7" fill="none" stroke="#ece8ff" stroke-width="1.5" stroke-dasharray="1.4 1.15"/>
<rect x="376.86" y="0.28" width="15.83" height="29.43" rx="5.7" ry="5.7" fill="none" stroke="#ece8ff" stroke-width="1.5" stroke-dasharray="1.4 1.15"/>
<rect x="430.01" y="0.28" width="15.83" height="29.43" rx="5.7" ry="5.7" fill="none" stroke="#ece8ff" stroke-width="1.5" stroke-dasharray="1.4 1.15"/>
</g>
<text x="358.2" y="124.1" font-size="6.2" text-anchor="middle" fill="#111">0</text>
<text x="355.9" y="117.9" font-size="6.2" text-anchor="end" fill="#111">0</text>
<text x="384.77" y="124.1" font-size="6.2" text-anchor="middle" fill="#111">450</text>
<text x="355.9" y="92.53" font-size="6.2" text-anchor="end" fill="#111">450</text>
<text x="411.35" y="124.1" font-size="6.2" text-anchor="middle" fill="#111">900</text>
<text x="355.9" y="67.15" font-size="6.2" text-anchor="end" fill="#111">900</text>
<text x="437.92" y="124.1" font-size="6.2" text-anchor="middle" fill="#111">1350</text>
<text x="355.9" y="41.77" font-size="6.2" text-anchor="end" fill="#111">1350</text>
<text x="464.5" y="124.1" font-size="6.2" text-anchor="middle" fill="#111">1800</text>
<text x="355.9" y="16.4" font-size="6.2" text-anchor="end" fill="#111">1800</text>
<text x="411.35" y="136.5" font-size="9.2" text-anchor="middle" fill="#111">X (nm)</text>
<text transform="translate(338.2,65.75) rotate(-90)" font-size="9.3" text-anchor="middle" fill="#111">Y (nm)</text>
<clipPath id="hm2"><rect x="358.2" y="152.2" width="106.3" height="101.5"/></clipPath>
<g clip-path="url(#hm2)">
<rect x="358.2" y="152.2" width="106.3" height="101.5" fill="#08007c"/>
<clipPath id="sc2_0"><rect x="342.79" y="221.16" width="30.83" height="14.32" rx="7.16" ry="7.16"/></clipPath>
<g clip-path="url(#sc2_0)">
<rect x="342.79" y="221.16" width="30.83" height="14.32" rx="7.16" ry="7.16" fill="#003cfa"/>
<path d="M347.72,221.16 L368.68,235.49 M347.72,235.49 L368.68,221.16" stroke="#00d7ff" stroke-width="3.6" opacity="0.9" filter="url(#bl2)"/>
<ellipse cx="358.2" cy="228.32" rx="1.8" ry="2.0" fill="#005aff" filter="url(#bl)"/>
<ellipse cx="358.2" cy="221.96" rx="6.17" ry="3.2" fill="#78ff82" filter="url(#bl)"/>
<ellipse cx="358.2" cy="221.96" rx="4.32" ry="2.3" fill="#ffc800" filter="url(#bl)"/>
<ellipse cx="358.2" cy="221.66" rx="2.47" ry="1.2" fill="#eb3200" filter="url(#bl)"/>
<ellipse cx="358.2" cy="234.69" rx="6.17" ry="3.2" fill="#78ff82" filter="url(#bl)"/>
<ellipse cx="358.2" cy="234.69" rx="4.32" ry="2.3" fill="#ffd700" filter="url(#bl)"/>
<ellipse cx="358.2" cy="234.99" rx="2.47" ry="1.2" fill="#ff8c00" filter="url(#bl)"/>
<ellipse cx="347.29" cy="228.32" rx="3" ry="3.5" fill="#001edc" filter="url(#bl)"/>
<ellipse cx="369.11" cy="228.32" rx="3" ry="3.5" fill="#001edc" filter="url(#bl)"/>
</g>
<clipPath id="sc2_1"><rect x="395.94" y="221.16" width="30.83" height="14.32" rx="7.16" ry="7.16"/></clipPath>
<g clip-path="url(#sc2_1)">
<rect x="395.94" y="221.16" width="30.83" height="14.32" rx="7.16" ry="7.16" fill="#003cfa"/>
<path d="M400.87,221.16 L421.83,235.49 M400.87,235.49 L421.83,221.16" stroke="#00d7ff" stroke-width="3.6" opacity="0.9" filter="url(#bl2)"/>
<ellipse cx="411.35" cy="228.32" rx="1.8" ry="2.0" fill="#005aff" filter="url(#bl)"/>
<ellipse cx="411.35" cy="221.96" rx="6.17" ry="3.2" fill="#78ff82" filter="url(#bl)"/>
<ellipse cx="411.35" cy="221.96" rx="4.32" ry="2.3" fill="#ffc800" filter="url(#bl)"/>
<ellipse cx="411.35" cy="221.66" rx="2.47" ry="1.2" fill="#eb3200" filter="url(#bl)"/>
<ellipse cx="411.35" cy="234.69" rx="6.17" ry="3.2" fill="#78ff82" filter="url(#bl)"/>
<ellipse cx="411.35" cy="234.69" rx="4.32" ry="2.3" fill="#ffd700" filter="url(#bl)"/>
<ellipse cx="411.35" cy="234.99" rx="2.47" ry="1.2" fill="#ff8c00" filter="url(#bl)"/>
<ellipse cx="400.44" cy="228.32" rx="3" ry="3.5" fill="#001edc" filter="url(#bl)"/>
<ellipse cx="422.26" cy="228.32" rx="3" ry="3.5" fill="#001edc" filter="url(#bl)"/>
</g>
<clipPath id="sc2_2"><rect x="449.09" y="221.16" width="30.83" height="14.32" rx="7.16" ry="7.16"/></clipPath>
<g clip-path="url(#sc2_2)">
<rect x="449.09" y="221.16" width="30.83" height="14.32" rx="7.16" ry="7.16" fill="#003cfa"/>
<path d="M454.02,221.16 L474.98,235.49 M454.02,235.49 L474.98,221.16" stroke="#00d7ff" stroke-width="3.6" opacity="0.9" filter="url(#bl2)"/>
<ellipse cx="464.5" cy="228.32" rx="1.8" ry="2.0" fill="#005aff" filter="url(#bl)"/>
<ellipse cx="464.5" cy="221.96" rx="6.17" ry="3.2" fill="#78ff82" filter="url(#bl)"/>
<ellipse cx="464.5" cy="221.96" rx="4.32" ry="2.3" fill="#ffc800" filter="url(#bl)"/>
<ellipse cx="464.5" cy="221.66" rx="2.47" ry="1.2" fill="#eb3200" filter="url(#bl)"/>
<ellipse cx="464.5" cy="234.69" rx="6.17" ry="3.2" fill="#78ff82" filter="url(#bl)"/>
<ellipse cx="464.5" cy="234.69" rx="4.32" ry="2.3" fill="#ffd700" filter="url(#bl)"/>
<ellipse cx="464.5" cy="234.99" rx="2.47" ry="1.2" fill="#ff8c00" filter="url(#bl)"/>
<ellipse cx="453.59" cy="228.32" rx="3" ry="3.5" fill="#001edc" filter="url(#bl)"/>
<ellipse cx="475.41" cy="228.32" rx="3" ry="3.5" fill="#001edc" filter="url(#bl)"/>
</g>
<clipPath id="sc2_3"><rect x="342.79" y="170.41" width="30.83" height="14.32" rx="7.16" ry="7.16"/></clipPath>
<g clip-path="url(#sc2_3)">
<rect x="342.79" y="170.41" width="30.83" height="14.32" rx="7.16" ry="7.16" fill="#003cfa"/>
<path d="M347.72,170.41 L368.68,184.74 M347.72,184.74 L368.68,170.41" stroke="#00d7ff" stroke-width="3.6" opacity="0.9" filter="url(#bl2)"/>
<ellipse cx="358.2" cy="177.57" rx="1.8" ry="2.0" fill="#005aff" filter="url(#bl)"/>
<ellipse cx="358.2" cy="171.21" rx="6.17" ry="3.2" fill="#78ff82" filter="url(#bl)"/>
<ellipse cx="358.2" cy="171.21" rx="4.32" ry="2.3" fill="#ffc800" filter="url(#bl)"/>
<ellipse cx="358.2" cy="170.91" rx="2.47" ry="1.2" fill="#eb3200" filter="url(#bl)"/>
<ellipse cx="358.2" cy="183.94" rx="6.17" ry="3.2" fill="#78ff82" filter="url(#bl)"/>
<ellipse cx="358.2" cy="183.94" rx="4.32" ry="2.3" fill="#ffd700" filter="url(#bl)"/>
<ellipse cx="358.2" cy="184.24" rx="2.47" ry="1.2" fill="#ff8c00" filter="url(#bl)"/>
<ellipse cx="347.29" cy="177.57" rx="3" ry="3.5" fill="#001edc" filter="url(#bl)"/>
<ellipse cx="369.11" cy="177.57" rx="3" ry="3.5" fill="#001edc" filter="url(#bl)"/>
</g>
<clipPath id="sc2_4"><rect x="395.94" y="170.41" width="30.83" height="14.32" rx="7.16" ry="7.16"/></clipPath>
<g clip-path="url(#sc2_4)">
<rect x="395.94" y="170.41" width="30.83" height="14.32" rx="7.16" ry="7.16" fill="#003cfa"/>
<path d="M400.87,170.41 L421.83,184.74 M400.87,184.74 L421.83,170.41" stroke="#00d7ff" stroke-width="3.6" opacity="0.9" filter="url(#bl2)"/>
<ellipse cx="411.35" cy="177.57" rx="1.8" ry="2.0" fill="#005aff" filter="url(#bl)"/>
<ellipse cx="411.35" cy="171.21" rx="6.17" ry="3.2" fill="#78ff82" filter="url(#bl)"/>
<ellipse cx="411.35" cy="171.21" rx="4.32" ry="2.3" fill="#ffc800" filter="url(#bl)"/>
<ellipse cx="411.35" cy="170.91" rx="2.47" ry="1.2" fill="#eb3200" filter="url(#bl)"/>
<ellipse cx="411.35" cy="183.94" rx="6.17" ry="3.2" fill="#78ff82" filter="url(#bl)"/>
<ellipse cx="411.35" cy="183.94" rx="4.32" ry="2.3" fill="#ffd700" filter="url(#bl)"/>
<ellipse cx="411.35" cy="184.24" rx="2.47" ry="1.2" fill="#ff8c00" filter="url(#bl)"/>
<ellipse cx="400.44" cy="177.57" rx="3" ry="3.5" fill="#001edc" filter="url(#bl)"/>
<ellipse cx="422.26" cy="177.57" rx="3" ry="3.5" fill="#001edc" filter="url(#bl)"/>
</g>
<clipPath id="sc2_5"><rect x="449.09" y="170.41" width="30.83" height="14.32" rx="7.16" ry="7.16"/></clipPath>
<g clip-path="url(#sc2_5)">
<rect x="449.09" y="170.41" width="30.83" height="14.32" rx="7.16" ry="7.16" fill="#003cfa"/>
<path d="M454.02,170.41 L474.98,184.74 M454.02,184.74 L474.98,170.41" stroke="#00d7ff" stroke-width="3.6" opacity="0.9" filter="url(#bl2)"/>
<ellipse cx="464.5" cy="177.57" rx="1.8" ry="2.0" fill="#005aff" filter="url(#bl)"/>
<ellipse cx="464.5" cy="171.21" rx="6.17" ry="3.2" fill="#78ff82" filter="url(#bl)"/>
<ellipse cx="464.5" cy="171.21" rx="4.32" ry="2.3" fill="#ffc800" filter="url(#bl)"/>
<ellipse cx="464.5" cy="170.91" rx="2.47" ry="1.2" fill="#eb3200" filter="url(#bl)"/>
<ellipse cx="464.5" cy="183.94" rx="6.17" ry="3.2" fill="#78ff82" filter="url(#bl)"/>
<ellipse cx="464.5" cy="183.94" rx="4.32" ry="2.3" fill="#ffd700" filter="url(#bl)"/>
<ellipse cx="464.5" cy="184.24" rx="2.47" ry="1.2" fill="#ff8c00" filter="url(#bl)"/>
<ellipse cx="453.59" cy="177.57" rx="3" ry="3.5" fill="#001edc" filter="url(#bl)"/>
<ellipse cx="475.41" cy="177.57" rx="3" ry="3.5" fill="#001edc" filter="url(#bl)"/>
</g>
<clipPath id="sc2_6"><rect x="376.86" y="238.98" width="15.83" height="29.43" rx="5.7" ry="5.7"/></clipPath>
<g clip-path="url(#sc2_6)">
<rect x="376.86" y="238.98" width="15.83" height="29.43" rx="5.7" ry="5.7" fill="#0c0ecd"/>
<ellipse cx="382.77" cy="256.7" rx="3" ry="6" fill="#0505aa" filter="url(#bl)" opacity="0.6"/>
</g>
<clipPath id="sc2_7"><rect x="430.01" y="238.98" width="15.83" height="29.43" rx="5.7" ry="5.7"/></clipPath>
<g clip-path="url(#sc2_7)">
<rect x="430.01" y="238.98" width="15.83" height="29.43" rx="5.7" ry="5.7" fill="#0c0ecd"/>
<ellipse cx="435.93" cy="256.7" rx="3" ry="6" fill="#0505aa" filter="url(#bl)" opacity="0.6"/>
</g>
<clipPath id="sc2_8"><rect x="376.86" y="188.23" width="15.83" height="29.43" rx="5.7" ry="5.7"/></clipPath>
<g clip-path="url(#sc2_8)">
<rect x="376.86" y="188.23" width="15.83" height="29.43" rx="5.7" ry="5.7" fill="#0c0ecd"/>
<ellipse cx="382.77" cy="205.95" rx="3" ry="6" fill="#0505aa" filter="url(#bl)" opacity="0.6"/>
</g>
<clipPath id="sc2_9"><rect x="430.01" y="188.23" width="15.83" height="29.43" rx="5.7" ry="5.7"/></clipPath>
<g clip-path="url(#sc2_9)">
<rect x="430.01" y="188.23" width="15.83" height="29.43" rx="5.7" ry="5.7" fill="#0c0ecd"/>
<ellipse cx="435.93" cy="205.95" rx="3" ry="6" fill="#0505aa" filter="url(#bl)" opacity="0.6"/>
</g>
<clipPath id="sc2_10"><rect x="376.86" y="137.48" width="15.83" height="29.43" rx="5.7" ry="5.7"/></clipPath>
<g clip-path="url(#sc2_10)">
<rect x="376.86" y="137.48" width="15.83" height="29.43" rx="5.7" ry="5.7" fill="#0c0ecd"/>
<ellipse cx="382.77" cy="155.2" rx="3" ry="6" fill="#0505aa" filter="url(#bl)" opacity="0.6"/>
</g>
<clipPath id="sc2_11"><rect x="430.01" y="137.48" width="15.83" height="29.43" rx="5.7" ry="5.7"/></clipPath>
<g clip-path="url(#sc2_11)">
<rect x="430.01" y="137.48" width="15.83" height="29.43" rx="5.7" ry="5.7" fill="#0c0ecd"/>
<ellipse cx="435.93" cy="155.2" rx="3" ry="6" fill="#0505aa" filter="url(#bl)" opacity="0.6"/>
</g>
<rect x="342.79" y="221.16" width="30.83" height="14.32" rx="7.16" ry="7.16" fill="none" stroke="#ece8ff" stroke-width="1.5" stroke-dasharray="1.4 1.15"/>
<rect x="395.94" y="221.16" width="30.83" height="14.32" rx="7.16" ry="7.16" fill="none" stroke="#ece8ff" stroke-width="1.5" stroke-dasharray="1.4 1.15"/>
<rect x="449.09" y="221.16" width="30.83" height="14.32" rx="7.16" ry="7.16" fill="none" stroke="#ece8ff" stroke-width="1.5" stroke-dasharray="1.4 1.15"/>
<rect x="342.79" y="170.41" width="30.83" height="14.32" rx="7.16" ry="7.16" fill="none" stroke="#ece8ff" stroke-width="1.5" stroke-dasharray="1.4 1.15"/>
<rect x="395.94" y="170.41" width="30.83" height="14.32" rx="7.16" ry="7.16" fill="none" stroke="#ece8ff" stroke-width="1.5" stroke-dasharray="1.4 1.15"/>
<rect x="449.09" y="170.41" width="30.83" height="14.32" rx="7.16" ry="7.16" fill="none" stroke="#ece8ff" stroke-width="1.5" stroke-dasharray="1.4 1.15"/>
<rect x="376.86" y="238.98" width="15.83" height="29.43" rx="5.7" ry="5.7" fill="none" stroke="#ece8ff" stroke-width="1.5" stroke-dasharray="1.4 1.15"/>
<rect x="430.01" y="238.98" width="15.83" height="29.43" rx="5.7" ry="5.7" fill="none" stroke="#ece8ff" stroke-width="1.5" stroke-dasharray="1.4 1.15"/>
<rect x="376.86" y="188.23" width="15.83" height="29.43" rx="5.7" ry="5.7" fill="none" stroke="#ece8ff" stroke-width="1.5" stroke-dasharray="1.4 1.15"/>
<rect x="430.01" y="188.23" width="15.83" height="29.43" rx="5.7" ry="5.7" fill="none" stroke="#ece8ff" stroke-width="1.5" stroke-dasharray="1.4 1.15"/>
<rect x="376.86" y="137.48" width="15.83" height="29.43" rx="5.7" ry="5.7" fill="none" stroke="#ece8ff" stroke-width="1.5" stroke-dasharray="1.4 1.15"/>
<rect x="430.01" y="137.48" width="15.83" height="29.43" rx="5.7" ry="5.7" fill="none" stroke="#ece8ff" stroke-width="1.5" stroke-dasharray="1.4 1.15"/>
</g>
<text x="358.2" y="261.3" font-size="6.2" text-anchor="middle" fill="#111">0</text>
<text x="355.9" y="255.1" font-size="6.2" text-anchor="end" fill="#111">0</text>
<text x="384.77" y="261.3" font-size="6.2" text-anchor="middle" fill="#111">450</text>
<text x="355.9" y="229.72" font-size="6.2" text-anchor="end" fill="#111">450</text>
<text x="411.35" y="261.3" font-size="6.2" text-anchor="middle" fill="#111">900</text>
<text x="355.9" y="204.35" font-size="6.2" text-anchor="end" fill="#111">900</text>
<text x="437.92" y="261.3" font-size="6.2" text-anchor="middle" fill="#111">1350</text>
<text x="355.9" y="178.97" font-size="6.2" text-anchor="end" fill="#111">1350</text>
<text x="464.5" y="261.3" font-size="6.2" text-anchor="middle" fill="#111">1800</text>
<text x="355.9" y="153.6" font-size="6.2" text-anchor="end" fill="#111">1800</text>
<text x="411.35" y="273.7" font-size="9.2" text-anchor="middle" fill="#111">X (nm)</text>
<text transform="translate(338.2,202.95) rotate(-90)" font-size="9.3" text-anchor="middle" fill="#111">Y (nm)</text>
<path d="M490.7,123.9 V96.1 H479" fill="none" stroke="#222" stroke-width="0.9"/>
<path d="M474,96.1 l6.3,-2 v4z" fill="#111"/>
<path d="M490.7,164 V191.7 H479" fill="none" stroke="#222" stroke-width="0.9"/>
<path d="M474,191.7 l6.3,-2 v4z" fill="#111"/>
<polygon points="460.2,141.5 468.6,137.2 468.6,143 460.2,146.5" fill="#f2c4cc" opacity="0.75"/>
<polygon points="505.5,131 520,127 520,134 505.5,137.5" fill="#f2c4cc" opacity="0.75"/>
<polygon points="505.5,143.5 520,139.5 520,146.5 505.5,149.5" fill="#f2c4cc" opacity="0.75"/>
<polygon points="468.8,134.7 474.8,129.9 505.5,129.9 495,134.7" fill="#b4b4c0" stroke="#555" stroke-width="0.6"/>
<text x="487.8" y="134" font-size="5" text-anchor="middle" fill="#fff" style="stroke:#444;stroke-width:0.35px">30 nm</text>
<rect x="469" y="134.9" width="25.6" height="2.7" fill="#c6c0d8"/>
<polygon points="494.6,134.9 505.5,130.1 505.5,132.8 494.6,137.6" fill="#c6c0d8" opacity="0.85"/>
<rect x="469" y="137.6" width="25.6" height="2.8" fill="#e7b8c4"/>
<polygon points="494.6,137.6 505.5,132.8 505.5,135.6 494.6,140.4" fill="#e7b8c4" opacity="0.85"/>
<rect x="469" y="140.4" width="25.6" height="1" fill="#f4eef0"/>
<polygon points="494.6,140.4 505.5,135.6 505.5,136.6 494.6,141.4" fill="#f4eef0" opacity="0.85"/>
<rect x="469" y="141.4" width="25.6" height="5.1" fill="#f1d84a"/>
<polygon points="494.6,141.4 505.5,136.6 505.5,141.7 494.6,146.5" fill="#f1d84a" opacity="0.85"/>
<rect x="469" y="146.5" width="25.6" height="1.3" fill="#f6eef0"/>
<polygon points="494.6,146.5 505.5,141.7 505.5,143 494.6,147.8" fill="#f6eef0" opacity="0.85"/>
<rect x="469" y="147.8" width="25.6" height="4.1" fill="#d0d0dc"/>
<polygon points="494.6,147.8 505.5,143 505.5,147.1 494.6,151.9" fill="#d0d0dc" opacity="0.85"/>
<rect x="469" y="151.9" width="25.6" height="5.9" fill="#eab8c6"/>
<polygon points="494.6,151.9 505.5,147.1 505.5,153 494.6,157.8" fill="#eab8c6" opacity="0.85"/>
<text x="483.6" y="145.6" font-size="5" text-anchor="middle" fill="#fff" style="stroke:#666;stroke-width:0.3px">Cu</text>
<text x="483" y="151.4" font-size="5" text-anchor="middle" fill="#fff" style="stroke:#444;stroke-width:0.35px">70 nm</text>
<path d="M469,134.9 V157.8 H494.6 V134.9 Z M494.6,157.8 L505.5,153 V130.1" fill="none" stroke="#555" stroke-width="0.7"/>
</svg></body></html>
